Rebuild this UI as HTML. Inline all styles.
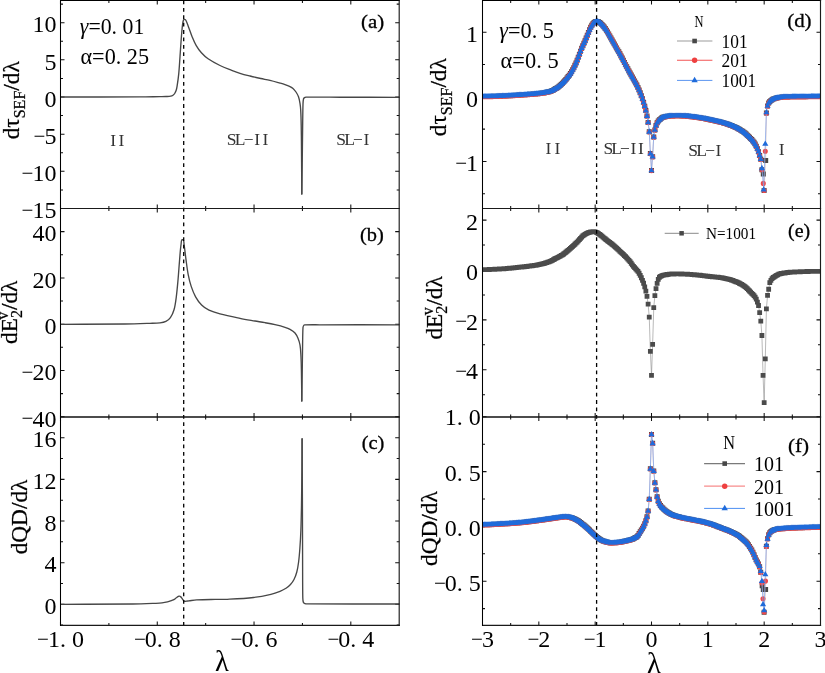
<!DOCTYPE html>
<html><head><meta charset="utf-8"><title>plot</title>
<style>html,body{margin:0;padding:0;background:#fff;}svg{display:block;}</style>
</head><body>
<svg width="825" height="673" viewBox="0 0 825 673"><path d="M60.50,0.50v4.0M60.50,208.50v-4.0M157.27,0.50v4.0M157.27,208.50v-4.0M254.04,0.50v4.0M254.04,208.50v-4.0M350.81,0.50v4.0M350.81,208.50v-4.0M108.89,0.50v2.5M108.89,208.50v-2.5M205.66,0.50v2.5M205.66,208.50v-2.5M302.43,0.50v2.5M302.43,208.50v-2.5" stroke="#111111" stroke-width="1.05" fill="none"/>
<path d="M538.83,0.50v4.0M538.83,208.50v-4.0M595.17,0.50v4.0M595.17,208.50v-4.0M651.50,0.50v4.0M651.50,208.50v-4.0M707.83,0.50v4.0M707.83,208.50v-4.0M764.17,0.50v4.0M764.17,208.50v-4.0M510.67,0.50v2.5M510.67,208.50v-2.5M567.00,0.50v2.5M567.00,208.50v-2.5M623.33,0.50v2.5M623.33,208.50v-2.5M679.67,0.50v2.5M679.67,208.50v-2.5M736.00,0.50v2.5M736.00,208.50v-2.5M792.33,0.50v2.5M792.33,208.50v-2.5" stroke="#111111" stroke-width="1.05" fill="none"/>
<path d="M60.50,208.48h4.0M399.20,208.48h-4.0M60.50,171.32h4.0M399.20,171.32h-4.0M60.50,134.16h4.0M399.20,134.16h-4.0M60.50,97.00h4.0M399.20,97.00h-4.0M60.50,59.84h4.0M399.20,59.84h-4.0M60.50,22.68h4.0M399.20,22.68h-4.0M60.50,189.90h2.5M399.20,189.90h-2.5M60.50,152.74h2.5M399.20,152.74h-2.5M60.50,115.58h2.5M399.20,115.58h-2.5M60.50,78.42h2.5M399.20,78.42h-2.5M60.50,41.26h2.5M399.20,41.26h-2.5M60.50,4.10h2.5M399.20,4.10h-2.5" stroke="#111111" stroke-width="1.05" fill="none"/>
<path d="M482.50,161.40h4.0M820.50,161.40h-4.0M482.50,96.80h4.0M820.50,96.80h-4.0M482.50,32.20h4.0M820.50,32.20h-4.0M482.50,193.70h2.5M820.50,193.70h-2.5M482.50,129.10h2.5M820.50,129.10h-2.5M482.50,64.50h2.5M820.50,64.50h-2.5" stroke="#111111" stroke-width="1.05" fill="none"/>
<path d="M60.50,208.50v4.0M60.50,417.00v-4.0M157.27,208.50v4.0M157.27,417.00v-4.0M254.04,208.50v4.0M254.04,417.00v-4.0M350.81,208.50v4.0M350.81,417.00v-4.0M108.89,208.50v2.5M108.89,417.00v-2.5M205.66,208.50v2.5M205.66,417.00v-2.5M302.43,208.50v2.5M302.43,417.00v-2.5" stroke="#111111" stroke-width="1.05" fill="none"/>
<path d="M538.83,208.50v4.0M538.83,417.00v-4.0M595.17,208.50v4.0M595.17,417.00v-4.0M651.50,208.50v4.0M651.50,417.00v-4.0M707.83,208.50v4.0M707.83,417.00v-4.0M764.17,208.50v4.0M764.17,417.00v-4.0M510.67,208.50v2.5M510.67,417.00v-2.5M567.00,208.50v2.5M567.00,417.00v-2.5M623.33,208.50v2.5M623.33,417.00v-2.5M679.67,208.50v2.5M679.67,417.00v-2.5M736.00,208.50v2.5M736.00,417.00v-2.5M792.33,208.50v2.5M792.33,417.00v-2.5" stroke="#111111" stroke-width="1.05" fill="none"/>
<path d="M60.50,416.78h4.0M399.20,416.78h-4.0M60.50,370.49h4.0M399.20,370.49h-4.0M60.50,324.20h4.0M399.20,324.20h-4.0M60.50,277.91h4.0M399.20,277.91h-4.0M60.50,231.62h4.0M399.20,231.62h-4.0M60.50,393.63h2.5M399.20,393.63h-2.5M60.50,347.34h2.5M399.20,347.34h-2.5M60.50,301.06h2.5M399.20,301.06h-2.5M60.50,254.77h2.5M399.20,254.77h-2.5" stroke="#111111" stroke-width="1.05" fill="none"/>
<path d="M482.50,369.72h4.0M820.50,369.72h-4.0M482.50,319.86h4.0M820.50,319.86h-4.0M482.50,270.00h4.0M820.50,270.00h-4.0M482.50,220.14h4.0M820.50,220.14h-4.0M482.50,394.65h2.5M820.50,394.65h-2.5M482.50,344.79h2.5M820.50,344.79h-2.5M482.50,294.93h2.5M820.50,294.93h-2.5M482.50,245.07h2.5M820.50,245.07h-2.5" stroke="#111111" stroke-width="1.05" fill="none"/>
<path d="M60.50,417.00v4.0M60.50,625.40v-4.0M157.27,417.00v4.0M157.27,625.40v-4.0M254.04,417.00v4.0M254.04,625.40v-4.0M350.81,417.00v4.0M350.81,625.40v-4.0M108.89,417.00v2.5M108.89,625.40v-2.5M205.66,417.00v2.5M205.66,625.40v-2.5M302.43,417.00v2.5M302.43,625.40v-2.5" stroke="#111111" stroke-width="1.05" fill="none"/>
<path d="M538.83,417.00v4.0M538.83,625.40v-4.0M595.17,417.00v4.0M595.17,625.40v-4.0M651.50,417.00v4.0M651.50,625.40v-4.0M707.83,417.00v4.0M707.83,625.40v-4.0M764.17,417.00v4.0M764.17,625.40v-4.0M510.67,417.00v2.5M510.67,625.40v-2.5M567.00,417.00v2.5M567.00,625.40v-2.5M623.33,417.00v2.5M623.33,625.40v-2.5M679.67,417.00v2.5M679.67,625.40v-2.5M736.00,417.00v2.5M736.00,625.40v-2.5M792.33,417.00v2.5M792.33,625.40v-2.5" stroke="#111111" stroke-width="1.05" fill="none"/>
<path d="M60.50,604.30h4.0M399.20,604.30h-4.0M60.50,562.66h4.0M399.20,562.66h-4.0M60.50,521.02h4.0M399.20,521.02h-4.0M60.50,479.38h4.0M399.20,479.38h-4.0M60.50,437.74h4.0M399.20,437.74h-4.0M60.50,625.12h2.5M399.20,625.12h-2.5M60.50,583.48h2.5M399.20,583.48h-2.5M60.50,541.84h2.5M399.20,541.84h-2.5M60.50,500.20h2.5M399.20,500.20h-2.5M60.50,458.56h2.5M399.20,458.56h-2.5" stroke="#111111" stroke-width="1.05" fill="none"/>
<path d="M482.50,581.20h4.0M820.50,581.20h-4.0M482.50,526.40h4.0M820.50,526.40h-4.0M482.50,471.60h4.0M820.50,471.60h-4.0M482.50,416.80h4.0M820.50,416.80h-4.0M482.50,608.60h2.5M820.50,608.60h-2.5M482.50,553.80h2.5M820.50,553.80h-2.5M482.50,499.00h2.5M820.50,499.00h-2.5M482.50,444.20h2.5M820.50,444.20h-2.5" stroke="#111111" stroke-width="1.05" fill="none"/>
<g fill="none" stroke="#474747" stroke-width="1.35" stroke-linejoin="round" stroke-linecap="round">
<path d="M60.60,97.00 C87.07,96.97 113.53,97.01 140.00,96.90 C146.67,96.87 153.33,96.70 160.00,96.60 C162.00,96.57 164.00,96.57 166.00,96.50 C167.57,96.44 169.16,96.49 170.70,96.20 C171.52,96.05 172.31,95.67 173.00,95.20 C173.66,94.75 174.26,94.17 174.70,93.50 C175.34,92.51 175.83,91.42 176.20,90.30 C176.64,88.97 176.89,87.58 177.10,86.20 C177.72,82.18 178.30,78.15 178.70,74.10 C179.27,68.35 179.58,62.57 180.00,56.80 C180.48,50.10 180.86,43.39 181.40,36.70 C181.76,32.26 182.12,27.82 182.70,23.40 C182.86,22.21 183.08,20.99 183.60,19.90 C183.76,19.56 184.25,19.29 184.60,19.40 C185.23,19.60 185.80,20.11 186.10,20.70 C187.19,22.83 187.86,25.16 188.70,27.40 C189.86,30.49 190.84,33.65 192.10,36.70 C193.31,39.65 194.50,42.64 196.10,45.40 C197.62,48.03 199.38,50.54 201.40,52.80 C203.40,55.03 205.62,57.11 208.10,58.80 C211.86,61.37 215.91,63.51 220.00,65.50 C223.79,67.35 227.77,68.77 231.70,70.30 C234.44,71.37 237.19,72.43 240.00,73.30 C243.30,74.33 246.65,75.16 250.00,76.00 C253.58,76.90 257.19,77.71 260.80,78.50 C263.86,79.17 266.95,79.67 270.00,80.40 C273.36,81.20 276.68,82.17 280.00,83.10 C281.68,83.57 283.36,84.03 285.00,84.60 C286.69,85.19 288.38,85.83 290.00,86.60 C291.05,87.10 292.13,87.62 293.00,88.40 C294.16,89.44 295.14,90.69 296.00,92.00 C296.99,93.51 297.90,95.10 298.50,96.80 C299.24,98.90 299.63,101.11 300.00,103.30 C300.37,105.51 300.58,107.76 300.70,110.00 C300.98,115.00 301.10,120.00 301.20,125.00 C301.37,133.33 301.43,141.67 301.50,150.00 C301.63,164.67 301.70,179.33 301.80,194.00"/>
<path d="M301.80,194.00 C301.93,184.33 302.08,174.67 302.20,165.00 C302.35,153.33 302.45,141.67 302.60,130.00 C302.71,121.33 302.75,112.66 303.00,104.00 C303.05,102.33 303.12,100.63 303.50,99.00 C303.63,98.44 304.03,97.94 304.50,97.60 C304.92,97.30 305.48,97.21 306.00,97.20 C317.33,97.07 328.67,97.19 340.00,97.20 C359.67,97.22 379.33,97.27 399.00,97.30"/>
<path d="M60.60,324.30 C82.00,324.20 103.40,324.24 124.80,324.00 C133.20,323.91 141.60,323.59 150.00,323.30 C153.34,323.19 156.69,323.22 160.00,322.80 C162.01,322.55 164.09,322.21 165.90,321.30 C167.64,320.43 169.29,319.19 170.40,317.60 C172.09,315.16 173.29,312.36 174.10,309.50 C175.27,305.37 175.74,301.06 176.30,296.80 C177.08,290.89 177.57,284.94 178.10,279.00 C178.67,272.57 179.05,266.13 179.60,259.70 C180.05,254.50 180.33,249.27 181.10,244.10 C181.33,242.57 181.10,239.30 182.60,239.70 C184.34,240.16 183.80,243.12 184.10,244.90 C184.93,249.80 185.32,254.77 186.00,259.70 C186.69,264.67 187.24,269.67 188.20,274.60 C188.98,278.58 189.92,282.55 191.20,286.40 C192.39,289.97 193.76,293.51 195.60,296.80 C197.25,299.76 199.21,302.61 201.60,305.00 C203.73,307.13 206.29,308.89 209.00,310.20 C212.48,311.88 216.26,312.92 220.00,313.90 C226.60,315.63 233.31,316.94 240.00,318.30 C244.98,319.31 250.00,320.12 255.00,321.00 C258.33,321.59 261.68,322.08 265.00,322.70 C268.34,323.32 271.69,323.94 275.00,324.70 C278.36,325.47 281.71,326.29 285.00,327.30 C286.72,327.83 288.44,328.41 290.00,329.30 C291.80,330.33 293.62,331.45 295.00,333.00 C296.35,334.52 297.22,336.43 298.00,338.30 C298.90,340.45 299.60,342.70 300.00,345.00 C300.57,348.30 300.71,351.66 300.90,355.00 C301.18,359.99 301.30,365.00 301.40,370.00 C301.60,380.37 301.67,390.73 301.80,401.10"/>
<path d="M301.80,401.10 C301.93,392.40 302.08,383.70 302.20,375.00 C302.34,365.00 302.43,355.00 302.60,345.00 C302.70,339.17 302.67,333.33 303.00,327.50 C303.04,326.79 303.31,326.09 303.70,325.50 C303.91,325.17 304.31,324.92 304.70,324.90 C309.80,324.68 314.90,324.81 320.00,324.80 C346.33,324.77 372.67,324.80 399.00,324.80"/>
<path d="M60.60,604.30 C84.60,604.20 108.60,604.25 132.60,604.00 C140.37,603.92 148.14,603.59 155.90,603.30 C157.94,603.22 159.98,603.14 162.00,602.90 C163.85,602.68 165.69,602.34 167.50,601.90 C168.86,601.57 170.18,601.08 171.50,600.60 C172.45,600.25 173.43,599.92 174.30,599.40 C175.28,598.81 176.05,597.93 177.00,597.30 C177.66,596.86 178.32,596.35 179.10,596.20 C179.61,596.10 180.19,596.29 180.60,596.60 C181.21,597.06 181.54,597.79 182.00,598.40 C182.47,599.03 182.87,599.71 183.40,600.30 C183.75,600.69 184.10,601.15 184.60,601.30 C185.21,601.48 185.87,601.26 186.50,601.20 C187.27,601.13 188.03,601.00 188.80,600.90 C191.40,600.57 193.98,600.05 196.60,599.90 C202.73,599.55 208.87,599.52 215.00,599.40 C219.10,599.32 223.20,599.50 227.30,599.30 C236.04,598.87 244.80,598.50 253.50,597.50 C259.36,596.83 265.16,595.64 270.90,594.30 C274.01,593.57 277.03,592.48 280.00,591.30 C282.08,590.47 284.12,589.52 286.00,588.30 C287.65,587.23 289.18,585.95 290.50,584.50 C291.87,582.99 293.08,581.32 294.00,579.50 C295.20,577.12 296.12,574.58 296.80,572.00 C297.66,568.72 298.17,565.36 298.60,562.00 C299.20,557.35 299.56,552.67 299.90,548.00 C300.33,542.01 300.68,536.01 300.90,530.00 C301.21,521.67 301.36,513.33 301.50,505.00 C301.69,493.33 301.79,481.67 301.90,470.00 C301.99,459.60 302.03,449.20 302.10,438.80"/>
<path d="M302.10,438.80 C302.20,459.20 302.32,479.60 302.40,500.00 C302.48,520.00 302.52,540.00 302.60,560.00 C302.65,572.67 302.56,585.34 302.80,598.00 C302.83,599.51 302.85,601.09 303.40,602.50 C303.64,603.10 304.40,603.37 305.00,603.60 C305.63,603.84 306.33,603.90 307.00,603.90 C337.67,604.03 368.33,603.97 399.00,604.00"/>
</g>
<defs><clipPath id="cr"><rect x="482.50" y="0" width="338.00" height="625.40"/></clipPath></defs>
<g clip-path="url(#cr)">
<path fill="none" stroke="#b8b8b8" stroke-width="0.40" d="M482.50 96.60 L483.63 96.58 L484.75 96.57 L485.88 96.55 L487.01 96.53 L488.13 96.51 L489.26 96.48 L490.39 96.46 L491.51 96.43 L492.64 96.39 L493.77 96.36 L494.89 96.33 L496.02 96.29 L497.15 96.25 L498.27 96.21 L499.40 96.17 L500.53 96.13 L501.65 96.09 L502.78 96.05 L503.91 96.00 L505.03 95.95 L506.16 95.89 L507.29 95.83 L508.41 95.77 L509.54 95.71 L510.67 95.64 L511.79 95.57 L512.92 95.50 L514.05 95.43 L515.17 95.36 L516.30 95.29 L517.43 95.21 L518.55 95.14 L519.68 95.07 L520.81 95.00 L521.93 94.93 L523.06 94.85 L524.19 94.78 L525.31 94.70 L526.44 94.62 L527.57 94.54 L528.69 94.46 L529.82 94.37 L530.95 94.28 L532.07 94.19 L533.20 94.10 L534.33 94.00 L535.45 93.89 L536.58 93.77 L537.71 93.65 L538.83 93.53 L539.96 93.40 L541.09 93.27 L542.21 93.11 L543.34 92.94 L544.47 92.75 L545.59 92.54 L546.72 92.32 L547.85 92.08 L548.97 91.83 L550.10 91.52 L551.23 91.08 L552.35 90.55 L553.48 89.94 L554.61 89.29 L555.73 88.61 L556.86 87.91 L557.99 87.13 L559.11 86.25 L560.24 85.28 L561.37 84.26 L562.49 83.19 L563.62 82.08 L564.75 80.86 L565.87 79.48 L567.00 78.05 L568.13 76.62 L569.25 75.13 L570.38 73.54 L571.51 71.79 L572.63 69.82 L573.76 67.66 L574.89 65.35 L576.01 62.90 L577.14 60.14 L578.27 57.19 L579.39 54.23 L580.52 51.16 L581.65 48.23 L582.77 45.66 L583.90 43.27 L585.03 40.80 L586.15 38.06 L587.28 35.19 L588.41 32.45 L589.53 29.81 L590.66 27.34 L591.79 25.34 L592.91 23.69 L594.04 22.57 L595.17 21.84 L596.29 21.42 L597.42 21.48 L598.55 21.84 L599.67 22.40 L600.80 23.28 L601.93 24.44 L603.05 25.68 L604.18 27.04 L605.31 28.56 L606.43 30.20 L607.56 32.00 L608.69 33.94 L609.81 35.94 L610.94 37.92 L612.07 39.91 L613.19 41.92 L614.32 43.94 L615.45 45.95 L616.57 47.94 L617.70 49.90 L618.83 51.86 L619.95 53.86 L621.08 55.92 L622.21 58.06 L623.33 60.25 L624.46 62.46 L625.59 64.65 L626.71 66.77 L627.84 68.85 L628.97 70.90 L630.09 72.94 L631.22 74.98 L632.35 77.03 L633.47 79.02 L634.60 81.00 L635.73 83.01 L636.85 85.12 L637.98 87.39 L639.11 89.94 L640.23 92.75 L641.36 95.74 L642.49 98.86 L643.61 102.37 L644.74 106.18 L645.87 110.58 L646.99 116.06 L648.12 122.40 L649.25 131.80 L650.37 153.60 L651.50 170.40 L652.63 156.70 L653.75 137.00 L654.88 129.90 L656.01 125.59 L657.13 122.70 L658.26 120.95 L659.39 119.85 L660.51 118.91 L661.64 118.02 L662.77 117.35 L663.89 117.02 L665.02 116.79 L666.15 116.57 L667.27 116.37 L668.40 116.19 L669.53 116.06 L670.65 115.96 L671.78 115.90 L672.91 115.89 L674.03 115.87 L675.16 115.86 L676.29 115.84 L677.41 115.84 L678.54 115.83 L679.67 115.84 L680.79 115.86 L681.92 115.88 L683.05 115.92 L684.17 115.97 L685.30 116.04 L686.43 116.12 L687.55 116.21 L688.68 116.32 L689.81 116.44 L690.93 116.56 L692.06 116.70 L693.19 116.84 L694.31 116.98 L695.44 117.13 L696.57 117.29 L697.69 117.44 L698.82 117.61 L699.95 117.78 L701.07 117.97 L702.20 118.17 L703.33 118.37 L704.45 118.58 L705.58 118.80 L706.71 119.02 L707.83 119.25 L708.96 119.47 L710.09 119.70 L711.21 119.93 L712.34 120.16 L713.47 120.41 L714.59 120.66 L715.72 120.91 L716.85 121.18 L717.97 121.45 L719.10 121.72 L720.23 122.01 L721.35 122.29 L722.48 122.59 L723.61 122.89 L724.73 123.22 L725.86 123.57 L726.99 123.94 L728.11 124.32 L729.24 124.73 L730.37 125.14 L731.49 125.57 L732.62 126.01 L733.75 126.47 L734.87 126.97 L736.00 127.50 L737.13 128.06 L738.25 128.66 L739.38 129.29 L740.51 129.95 L741.63 130.63 L742.76 131.34 L743.89 132.14 L745.01 133.07 L746.14 134.08 L747.27 135.14 L748.39 136.20 L749.52 137.27 L750.65 138.39 L751.77 139.59 L752.90 140.89 L754.03 142.30 L755.15 144.03 L756.28 146.24 L757.41 148.82 L758.53 151.74 L759.66 155.50 L760.79 159.19 L761.91 169.80 L763.30 173.90 L764.10 190.60 L765.70 160.40 L766.42 113.10 L767.55 105.98 L768.67 103.01 L769.80 101.40 L770.93 100.41 L772.05 99.63 L773.18 99.10 L774.31 98.64 L775.43 98.28 L776.56 98.05 L777.69 97.82 L778.81 97.60 L779.94 97.39 L781.07 97.22 L782.19 97.09 L783.32 97.01 L784.45 96.98 L785.57 96.95 L786.70 96.92 L787.83 96.90 L788.95 96.87 L790.08 96.85 L791.21 96.83 L792.33 96.80 L793.46 96.78 L794.59 96.76 L795.71 96.75 L796.84 96.73 L797.97 96.72 L799.09 96.70 L800.22 96.69 L801.35 96.68 L802.47 96.67 L803.60 96.65 L804.73 96.64 L805.85 96.63 L806.98 96.62 L808.11 96.60 L809.23 96.59 L810.36 96.58 L811.49 96.57 L812.61 96.56 L813.74 96.55 L814.87 96.54 L815.99 96.53 L817.12 96.52 L818.25 96.51 L819.37 96.51 L820.50 96.50"/>
<path fill="#474747" d="M480.00 94.10h5.00v5.00h-5.00zM481.13 94.08h5.00v5.00h-5.00zM482.25 94.07h5.00v5.00h-5.00zM483.38 94.05h5.00v5.00h-5.00zM484.51 94.03h5.00v5.00h-5.00zM485.63 94.01h5.00v5.00h-5.00zM486.76 93.98h5.00v5.00h-5.00zM487.89 93.96h5.00v5.00h-5.00zM489.01 93.93h5.00v5.00h-5.00zM490.14 93.89h5.00v5.00h-5.00zM491.27 93.86h5.00v5.00h-5.00zM492.39 93.83h5.00v5.00h-5.00zM493.52 93.79h5.00v5.00h-5.00zM494.65 93.75h5.00v5.00h-5.00zM495.77 93.71h5.00v5.00h-5.00zM496.90 93.67h5.00v5.00h-5.00zM498.03 93.63h5.00v5.00h-5.00zM499.15 93.59h5.00v5.00h-5.00zM500.28 93.55h5.00v5.00h-5.00zM501.41 93.50h5.00v5.00h-5.00zM502.53 93.45h5.00v5.00h-5.00zM503.66 93.39h5.00v5.00h-5.00zM504.79 93.33h5.00v5.00h-5.00zM505.91 93.27h5.00v5.00h-5.00zM507.04 93.21h5.00v5.00h-5.00zM508.17 93.14h5.00v5.00h-5.00zM509.29 93.07h5.00v5.00h-5.00zM510.42 93.00h5.00v5.00h-5.00zM511.55 92.93h5.00v5.00h-5.00zM512.67 92.86h5.00v5.00h-5.00zM513.80 92.79h5.00v5.00h-5.00zM514.93 92.71h5.00v5.00h-5.00zM516.05 92.64h5.00v5.00h-5.00zM517.18 92.57h5.00v5.00h-5.00zM518.31 92.50h5.00v5.00h-5.00zM519.43 92.43h5.00v5.00h-5.00zM520.56 92.35h5.00v5.00h-5.00zM521.69 92.28h5.00v5.00h-5.00zM522.81 92.20h5.00v5.00h-5.00zM523.94 92.12h5.00v5.00h-5.00zM525.07 92.04h5.00v5.00h-5.00zM526.19 91.96h5.00v5.00h-5.00zM527.32 91.87h5.00v5.00h-5.00zM528.45 91.78h5.00v5.00h-5.00zM529.57 91.69h5.00v5.00h-5.00zM530.70 91.60h5.00v5.00h-5.00zM531.83 91.50h5.00v5.00h-5.00zM532.95 91.39h5.00v5.00h-5.00zM534.08 91.27h5.00v5.00h-5.00zM535.21 91.15h5.00v5.00h-5.00zM536.33 91.03h5.00v5.00h-5.00zM537.46 90.90h5.00v5.00h-5.00zM538.59 90.77h5.00v5.00h-5.00zM539.71 90.61h5.00v5.00h-5.00zM540.84 90.44h5.00v5.00h-5.00zM541.97 90.25h5.00v5.00h-5.00zM543.09 90.04h5.00v5.00h-5.00zM544.22 89.82h5.00v5.00h-5.00zM545.35 89.58h5.00v5.00h-5.00zM546.47 89.33h5.00v5.00h-5.00zM547.60 89.02h5.00v5.00h-5.00zM548.73 88.58h5.00v5.00h-5.00zM549.85 88.05h5.00v5.00h-5.00zM550.98 87.44h5.00v5.00h-5.00zM552.11 86.79h5.00v5.00h-5.00zM553.23 86.11h5.00v5.00h-5.00zM554.36 85.41h5.00v5.00h-5.00zM555.49 84.63h5.00v5.00h-5.00zM556.61 83.75h5.00v5.00h-5.00zM557.74 82.78h5.00v5.00h-5.00zM558.87 81.76h5.00v5.00h-5.00zM559.99 80.69h5.00v5.00h-5.00zM561.12 79.58h5.00v5.00h-5.00zM562.25 78.36h5.00v5.00h-5.00zM563.37 76.98h5.00v5.00h-5.00zM564.50 75.55h5.00v5.00h-5.00zM565.63 74.12h5.00v5.00h-5.00zM566.75 72.63h5.00v5.00h-5.00zM567.88 71.04h5.00v5.00h-5.00zM569.01 69.29h5.00v5.00h-5.00zM570.13 67.32h5.00v5.00h-5.00zM571.26 65.16h5.00v5.00h-5.00zM572.39 62.85h5.00v5.00h-5.00zM573.51 60.40h5.00v5.00h-5.00zM574.64 57.64h5.00v5.00h-5.00zM575.77 54.69h5.00v5.00h-5.00zM576.89 51.73h5.00v5.00h-5.00zM578.02 48.66h5.00v5.00h-5.00zM579.15 45.73h5.00v5.00h-5.00zM580.27 43.16h5.00v5.00h-5.00zM581.40 40.77h5.00v5.00h-5.00zM582.53 38.30h5.00v5.00h-5.00zM583.65 35.56h5.00v5.00h-5.00zM584.78 32.69h5.00v5.00h-5.00zM585.91 29.95h5.00v5.00h-5.00zM587.03 27.31h5.00v5.00h-5.00zM588.16 24.84h5.00v5.00h-5.00zM589.29 22.84h5.00v5.00h-5.00zM590.41 21.19h5.00v5.00h-5.00zM591.54 20.07h5.00v5.00h-5.00zM592.67 19.34h5.00v5.00h-5.00zM593.79 18.92h5.00v5.00h-5.00zM594.92 18.98h5.00v5.00h-5.00zM596.05 19.34h5.00v5.00h-5.00zM597.17 19.90h5.00v5.00h-5.00zM598.30 20.78h5.00v5.00h-5.00zM599.43 21.94h5.00v5.00h-5.00zM600.55 23.18h5.00v5.00h-5.00zM601.68 24.54h5.00v5.00h-5.00zM602.81 26.06h5.00v5.00h-5.00zM603.93 27.70h5.00v5.00h-5.00zM605.06 29.50h5.00v5.00h-5.00zM606.19 31.44h5.00v5.00h-5.00zM607.31 33.44h5.00v5.00h-5.00zM608.44 35.42h5.00v5.00h-5.00zM609.57 37.41h5.00v5.00h-5.00zM610.69 39.42h5.00v5.00h-5.00zM611.82 41.44h5.00v5.00h-5.00zM612.95 43.45h5.00v5.00h-5.00zM614.07 45.44h5.00v5.00h-5.00zM615.20 47.40h5.00v5.00h-5.00zM616.33 49.36h5.00v5.00h-5.00zM617.45 51.36h5.00v5.00h-5.00zM618.58 53.42h5.00v5.00h-5.00zM619.71 55.56h5.00v5.00h-5.00zM620.83 57.75h5.00v5.00h-5.00zM621.96 59.96h5.00v5.00h-5.00zM623.09 62.15h5.00v5.00h-5.00zM624.21 64.27h5.00v5.00h-5.00zM625.34 66.35h5.00v5.00h-5.00zM626.47 68.40h5.00v5.00h-5.00zM627.59 70.44h5.00v5.00h-5.00zM628.72 72.48h5.00v5.00h-5.00zM629.85 74.53h5.00v5.00h-5.00zM630.97 76.52h5.00v5.00h-5.00zM632.10 78.50h5.00v5.00h-5.00zM633.23 80.51h5.00v5.00h-5.00zM634.35 82.62h5.00v5.00h-5.00zM635.48 84.89h5.00v5.00h-5.00zM636.61 87.44h5.00v5.00h-5.00zM637.73 90.25h5.00v5.00h-5.00zM638.86 93.24h5.00v5.00h-5.00zM639.99 96.36h5.00v5.00h-5.00zM641.11 99.87h5.00v5.00h-5.00zM642.24 103.68h5.00v5.00h-5.00zM643.37 108.08h5.00v5.00h-5.00zM644.49 113.56h5.00v5.00h-5.00zM645.62 119.90h5.00v5.00h-5.00zM646.75 129.30h5.00v5.00h-5.00zM647.87 151.10h5.00v5.00h-5.00zM649.00 167.90h5.00v5.00h-5.00zM650.13 154.20h5.00v5.00h-5.00zM651.25 134.50h5.00v5.00h-5.00zM652.38 127.40h5.00v5.00h-5.00zM653.51 123.09h5.00v5.00h-5.00zM654.63 120.20h5.00v5.00h-5.00zM655.76 118.45h5.00v5.00h-5.00zM656.89 117.35h5.00v5.00h-5.00zM658.01 116.41h5.00v5.00h-5.00zM659.14 115.52h5.00v5.00h-5.00zM660.27 114.85h5.00v5.00h-5.00zM661.39 114.52h5.00v5.00h-5.00zM662.52 114.29h5.00v5.00h-5.00zM663.65 114.07h5.00v5.00h-5.00zM664.77 113.87h5.00v5.00h-5.00zM665.90 113.69h5.00v5.00h-5.00zM667.03 113.56h5.00v5.00h-5.00zM668.15 113.46h5.00v5.00h-5.00zM669.28 113.40h5.00v5.00h-5.00zM670.41 113.39h5.00v5.00h-5.00zM671.53 113.37h5.00v5.00h-5.00zM672.66 113.36h5.00v5.00h-5.00zM673.79 113.34h5.00v5.00h-5.00zM674.91 113.34h5.00v5.00h-5.00zM676.04 113.33h5.00v5.00h-5.00zM677.17 113.34h5.00v5.00h-5.00zM678.29 113.36h5.00v5.00h-5.00zM679.42 113.38h5.00v5.00h-5.00zM680.55 113.42h5.00v5.00h-5.00zM681.67 113.47h5.00v5.00h-5.00zM682.80 113.54h5.00v5.00h-5.00zM683.93 113.62h5.00v5.00h-5.00zM685.05 113.71h5.00v5.00h-5.00zM686.18 113.82h5.00v5.00h-5.00zM687.31 113.94h5.00v5.00h-5.00zM688.43 114.06h5.00v5.00h-5.00zM689.56 114.20h5.00v5.00h-5.00zM690.69 114.34h5.00v5.00h-5.00zM691.81 114.48h5.00v5.00h-5.00zM692.94 114.63h5.00v5.00h-5.00zM694.07 114.79h5.00v5.00h-5.00zM695.19 114.94h5.00v5.00h-5.00zM696.32 115.11h5.00v5.00h-5.00zM697.45 115.28h5.00v5.00h-5.00zM698.57 115.47h5.00v5.00h-5.00zM699.70 115.67h5.00v5.00h-5.00zM700.83 115.87h5.00v5.00h-5.00zM701.95 116.08h5.00v5.00h-5.00zM703.08 116.30h5.00v5.00h-5.00zM704.21 116.52h5.00v5.00h-5.00zM705.33 116.75h5.00v5.00h-5.00zM706.46 116.97h5.00v5.00h-5.00zM707.59 117.20h5.00v5.00h-5.00zM708.71 117.43h5.00v5.00h-5.00zM709.84 117.66h5.00v5.00h-5.00zM710.97 117.91h5.00v5.00h-5.00zM712.09 118.16h5.00v5.00h-5.00zM713.22 118.41h5.00v5.00h-5.00zM714.35 118.68h5.00v5.00h-5.00zM715.47 118.95h5.00v5.00h-5.00zM716.60 119.22h5.00v5.00h-5.00zM717.73 119.51h5.00v5.00h-5.00zM718.85 119.79h5.00v5.00h-5.00zM719.98 120.09h5.00v5.00h-5.00zM721.11 120.39h5.00v5.00h-5.00zM722.23 120.72h5.00v5.00h-5.00zM723.36 121.07h5.00v5.00h-5.00zM724.49 121.44h5.00v5.00h-5.00zM725.61 121.82h5.00v5.00h-5.00zM726.74 122.23h5.00v5.00h-5.00zM727.87 122.64h5.00v5.00h-5.00zM728.99 123.07h5.00v5.00h-5.00zM730.12 123.51h5.00v5.00h-5.00zM731.25 123.97h5.00v5.00h-5.00zM732.37 124.47h5.00v5.00h-5.00zM733.50 125.00h5.00v5.00h-5.00zM734.63 125.56h5.00v5.00h-5.00zM735.75 126.16h5.00v5.00h-5.00zM736.88 126.79h5.00v5.00h-5.00zM738.01 127.45h5.00v5.00h-5.00zM739.13 128.13h5.00v5.00h-5.00zM740.26 128.84h5.00v5.00h-5.00zM741.39 129.64h5.00v5.00h-5.00zM742.51 130.57h5.00v5.00h-5.00zM743.64 131.58h5.00v5.00h-5.00zM744.77 132.64h5.00v5.00h-5.00zM745.89 133.70h5.00v5.00h-5.00zM747.02 134.77h5.00v5.00h-5.00zM748.15 135.89h5.00v5.00h-5.00zM749.27 137.09h5.00v5.00h-5.00zM750.40 138.39h5.00v5.00h-5.00zM751.53 139.80h5.00v5.00h-5.00zM752.65 141.53h5.00v5.00h-5.00zM753.78 143.74h5.00v5.00h-5.00zM754.91 146.32h5.00v5.00h-5.00zM756.03 149.24h5.00v5.00h-5.00zM757.16 153.00h5.00v5.00h-5.00zM758.29 156.69h5.00v5.00h-5.00zM759.41 167.30h5.00v5.00h-5.00zM760.80 171.40h5.00v5.00h-5.00zM761.60 188.10h5.00v5.00h-5.00zM763.20 157.90h5.00v5.00h-5.00zM763.92 110.60h5.00v5.00h-5.00zM765.05 103.48h5.00v5.00h-5.00zM766.17 100.51h5.00v5.00h-5.00zM767.30 98.90h5.00v5.00h-5.00zM768.43 97.91h5.00v5.00h-5.00zM769.55 97.13h5.00v5.00h-5.00zM770.68 96.60h5.00v5.00h-5.00zM771.81 96.14h5.00v5.00h-5.00zM772.93 95.78h5.00v5.00h-5.00zM774.06 95.55h5.00v5.00h-5.00zM775.19 95.32h5.00v5.00h-5.00zM776.31 95.10h5.00v5.00h-5.00zM777.44 94.89h5.00v5.00h-5.00zM778.57 94.72h5.00v5.00h-5.00zM779.69 94.59h5.00v5.00h-5.00zM780.82 94.51h5.00v5.00h-5.00zM781.95 94.48h5.00v5.00h-5.00zM783.07 94.45h5.00v5.00h-5.00zM784.20 94.42h5.00v5.00h-5.00zM785.33 94.40h5.00v5.00h-5.00zM786.45 94.37h5.00v5.00h-5.00zM787.58 94.35h5.00v5.00h-5.00zM788.71 94.33h5.00v5.00h-5.00zM789.83 94.30h5.00v5.00h-5.00zM790.96 94.28h5.00v5.00h-5.00zM792.09 94.26h5.00v5.00h-5.00zM793.21 94.25h5.00v5.00h-5.00zM794.34 94.23h5.00v5.00h-5.00zM795.47 94.22h5.00v5.00h-5.00zM796.59 94.20h5.00v5.00h-5.00zM797.72 94.19h5.00v5.00h-5.00zM798.85 94.18h5.00v5.00h-5.00zM799.97 94.17h5.00v5.00h-5.00zM801.10 94.15h5.00v5.00h-5.00zM802.23 94.14h5.00v5.00h-5.00zM803.35 94.13h5.00v5.00h-5.00zM804.48 94.12h5.00v5.00h-5.00zM805.61 94.10h5.00v5.00h-5.00zM806.73 94.09h5.00v5.00h-5.00zM807.86 94.08h5.00v5.00h-5.00zM808.99 94.07h5.00v5.00h-5.00zM810.11 94.06h5.00v5.00h-5.00zM811.24 94.05h5.00v5.00h-5.00zM812.37 94.04h5.00v5.00h-5.00zM813.49 94.03h5.00v5.00h-5.00zM814.62 94.02h5.00v5.00h-5.00zM815.75 94.01h5.00v5.00h-5.00zM816.87 94.01h5.00v5.00h-5.00zM818.00 94.00h5.00v5.00h-5.00z"/>
<path fill="none" stroke="#f4a0a0" stroke-width="0.40" d="M482.50 96.60 L483.63 96.58 L484.75 96.57 L485.88 96.55 L487.01 96.53 L488.13 96.51 L489.26 96.48 L490.39 96.46 L491.51 96.43 L492.64 96.39 L493.77 96.36 L494.89 96.33 L496.02 96.29 L497.15 96.25 L498.27 96.21 L499.40 96.17 L500.53 96.13 L501.65 96.09 L502.78 96.05 L503.91 96.00 L505.03 95.95 L506.16 95.89 L507.29 95.83 L508.41 95.77 L509.54 95.71 L510.67 95.64 L511.79 95.57 L512.92 95.50 L514.05 95.43 L515.17 95.36 L516.30 95.29 L517.43 95.21 L518.55 95.14 L519.68 95.07 L520.81 95.00 L521.93 94.93 L523.06 94.85 L524.19 94.78 L525.31 94.70 L526.44 94.62 L527.57 94.54 L528.69 94.46 L529.82 94.37 L530.95 94.28 L532.07 94.19 L533.20 94.10 L534.33 94.00 L535.45 93.89 L536.58 93.77 L537.71 93.65 L538.83 93.53 L539.96 93.40 L541.09 93.27 L542.21 93.11 L543.34 92.94 L544.47 92.75 L545.59 92.54 L546.72 92.32 L547.85 92.08 L548.97 91.83 L550.10 91.52 L551.23 91.08 L552.35 90.55 L553.48 89.94 L554.61 89.29 L555.73 88.61 L556.86 87.91 L557.99 87.13 L559.11 86.25 L560.24 85.28 L561.37 84.26 L562.49 83.19 L563.62 82.08 L564.75 80.86 L565.87 79.48 L567.00 78.05 L568.13 76.62 L569.25 75.13 L570.38 73.54 L571.51 71.79 L572.63 69.82 L573.76 67.66 L574.89 65.35 L576.01 62.90 L577.14 60.14 L578.27 57.19 L579.39 54.23 L580.52 51.16 L581.65 48.23 L582.77 45.66 L583.90 43.27 L585.03 40.80 L586.15 38.06 L587.28 35.19 L588.41 32.45 L589.53 29.81 L590.66 27.34 L591.79 25.34 L592.91 23.69 L594.04 22.57 L595.17 21.84 L596.29 21.42 L597.42 21.48 L598.55 21.84 L599.67 22.40 L600.80 23.28 L601.93 24.44 L603.05 25.68 L604.18 27.04 L605.31 28.56 L606.43 30.20 L607.56 32.00 L608.69 33.94 L609.81 35.94 L610.94 37.92 L612.07 39.91 L613.19 41.92 L614.32 43.94 L615.45 45.95 L616.57 47.94 L617.70 49.90 L618.83 51.86 L619.95 53.86 L621.08 55.92 L622.21 58.06 L623.33 60.25 L624.46 62.46 L625.59 64.65 L626.71 66.77 L627.84 68.85 L628.97 70.90 L630.09 72.94 L631.22 74.98 L632.35 77.03 L633.47 79.02 L634.60 81.00 L635.73 83.01 L636.85 85.12 L637.98 87.39 L639.11 89.94 L640.23 92.75 L641.36 95.74 L642.49 98.86 L643.61 102.37 L644.74 106.18 L645.87 110.58 L646.99 116.06 L648.12 122.40 L649.25 131.80 L650.37 153.60 L651.50 170.40 L652.63 156.70 L653.75 137.00 L654.88 129.90 L656.01 125.59 L657.13 122.70 L658.26 120.95 L659.39 119.85 L660.51 118.91 L661.64 118.02 L662.77 117.35 L663.89 117.02 L665.02 116.79 L666.15 116.57 L667.27 116.37 L668.40 116.19 L669.53 116.06 L670.65 115.96 L671.78 115.90 L672.91 115.89 L674.03 115.87 L675.16 115.86 L676.29 115.84 L677.41 115.84 L678.54 115.83 L679.67 115.84 L680.79 115.86 L681.92 115.88 L683.05 115.92 L684.17 115.97 L685.30 116.04 L686.43 116.12 L687.55 116.21 L688.68 116.32 L689.81 116.44 L690.93 116.56 L692.06 116.70 L693.19 116.84 L694.31 116.98 L695.44 117.13 L696.57 117.29 L697.69 117.44 L698.82 117.61 L699.95 117.78 L701.07 117.97 L702.20 118.17 L703.33 118.37 L704.45 118.58 L705.58 118.80 L706.71 119.02 L707.83 119.25 L708.96 119.47 L710.09 119.70 L711.21 119.93 L712.34 120.16 L713.47 120.41 L714.59 120.66 L715.72 120.91 L716.85 121.18 L717.97 121.45 L719.10 121.72 L720.23 122.01 L721.35 122.29 L722.48 122.59 L723.61 122.89 L724.73 123.22 L725.86 123.57 L726.99 123.94 L728.11 124.32 L729.24 124.73 L730.37 125.14 L731.49 125.57 L732.62 126.01 L733.75 126.47 L734.87 126.97 L736.00 127.50 L737.13 128.06 L738.25 128.66 L739.38 129.29 L740.51 129.95 L741.63 130.63 L742.76 131.34 L743.89 132.14 L745.01 133.07 L746.14 134.08 L747.27 135.14 L748.39 136.20 L749.52 137.27 L750.65 138.39 L751.77 139.59 L752.90 140.89 L754.03 142.30 L755.15 144.03 L756.28 146.24 L757.41 148.82 L758.53 151.74 L759.66 155.50 L760.79 159.19 L761.91 169.60 L763.30 183.20 L764.10 190.30 L765.29 151.00 L766.42 113.10 L767.55 105.98 L768.67 103.01 L769.80 101.40 L770.93 100.41 L772.05 99.63 L773.18 99.10 L774.31 98.64 L775.43 98.28 L776.56 98.05 L777.69 97.82 L778.81 97.60 L779.94 97.39 L781.07 97.22 L782.19 97.09 L783.32 97.01 L784.45 96.98 L785.57 96.95 L786.70 96.92 L787.83 96.90 L788.95 96.87 L790.08 96.85 L791.21 96.83 L792.33 96.80 L793.46 96.78 L794.59 96.76 L795.71 96.75 L796.84 96.73 L797.97 96.72 L799.09 96.70 L800.22 96.69 L801.35 96.68 L802.47 96.67 L803.60 96.65 L804.73 96.64 L805.85 96.63 L806.98 96.62 L808.11 96.60 L809.23 96.59 L810.36 96.58 L811.49 96.57 L812.61 96.56 L813.74 96.55 L814.87 96.54 L815.99 96.53 L817.12 96.52 L818.25 96.51 L819.37 96.51 L820.50 96.50"/>
<path fill="#ef4848" d="M479.95 96.80a2.55 2.55 0 1 0 5.10 0a2.55 2.55 0 1 0 -5.10 0zM481.08 96.78a2.55 2.55 0 1 0 5.10 0a2.55 2.55 0 1 0 -5.10 0zM482.20 96.77a2.55 2.55 0 1 0 5.10 0a2.55 2.55 0 1 0 -5.10 0zM483.33 96.75a2.55 2.55 0 1 0 5.10 0a2.55 2.55 0 1 0 -5.10 0zM484.46 96.73a2.55 2.55 0 1 0 5.10 0a2.55 2.55 0 1 0 -5.10 0zM485.58 96.71a2.55 2.55 0 1 0 5.10 0a2.55 2.55 0 1 0 -5.10 0zM486.71 96.68a2.55 2.55 0 1 0 5.10 0a2.55 2.55 0 1 0 -5.10 0zM487.84 96.66a2.55 2.55 0 1 0 5.10 0a2.55 2.55 0 1 0 -5.10 0zM488.96 96.63a2.55 2.55 0 1 0 5.10 0a2.55 2.55 0 1 0 -5.10 0zM490.09 96.59a2.55 2.55 0 1 0 5.10 0a2.55 2.55 0 1 0 -5.10 0zM491.22 96.56a2.55 2.55 0 1 0 5.10 0a2.55 2.55 0 1 0 -5.10 0zM492.34 96.53a2.55 2.55 0 1 0 5.10 0a2.55 2.55 0 1 0 -5.10 0zM493.47 96.49a2.55 2.55 0 1 0 5.10 0a2.55 2.55 0 1 0 -5.10 0zM494.60 96.45a2.55 2.55 0 1 0 5.10 0a2.55 2.55 0 1 0 -5.10 0zM495.72 96.41a2.55 2.55 0 1 0 5.10 0a2.55 2.55 0 1 0 -5.10 0zM496.85 96.37a2.55 2.55 0 1 0 5.10 0a2.55 2.55 0 1 0 -5.10 0zM497.98 96.33a2.55 2.55 0 1 0 5.10 0a2.55 2.55 0 1 0 -5.10 0zM499.10 96.29a2.55 2.55 0 1 0 5.10 0a2.55 2.55 0 1 0 -5.10 0zM500.23 96.25a2.55 2.55 0 1 0 5.10 0a2.55 2.55 0 1 0 -5.10 0zM501.36 96.20a2.55 2.55 0 1 0 5.10 0a2.55 2.55 0 1 0 -5.10 0zM502.48 96.15a2.55 2.55 0 1 0 5.10 0a2.55 2.55 0 1 0 -5.10 0zM503.61 96.09a2.55 2.55 0 1 0 5.10 0a2.55 2.55 0 1 0 -5.10 0zM504.74 96.03a2.55 2.55 0 1 0 5.10 0a2.55 2.55 0 1 0 -5.10 0zM505.86 95.97a2.55 2.55 0 1 0 5.10 0a2.55 2.55 0 1 0 -5.10 0zM506.99 95.91a2.55 2.55 0 1 0 5.10 0a2.55 2.55 0 1 0 -5.10 0zM508.12 95.84a2.55 2.55 0 1 0 5.10 0a2.55 2.55 0 1 0 -5.10 0zM509.24 95.77a2.55 2.55 0 1 0 5.10 0a2.55 2.55 0 1 0 -5.10 0zM510.37 95.70a2.55 2.55 0 1 0 5.10 0a2.55 2.55 0 1 0 -5.10 0zM511.50 95.63a2.55 2.55 0 1 0 5.10 0a2.55 2.55 0 1 0 -5.10 0zM512.62 95.56a2.55 2.55 0 1 0 5.10 0a2.55 2.55 0 1 0 -5.10 0zM513.75 95.49a2.55 2.55 0 1 0 5.10 0a2.55 2.55 0 1 0 -5.10 0zM514.88 95.41a2.55 2.55 0 1 0 5.10 0a2.55 2.55 0 1 0 -5.10 0zM516.00 95.34a2.55 2.55 0 1 0 5.10 0a2.55 2.55 0 1 0 -5.10 0zM517.13 95.27a2.55 2.55 0 1 0 5.10 0a2.55 2.55 0 1 0 -5.10 0zM518.26 95.20a2.55 2.55 0 1 0 5.10 0a2.55 2.55 0 1 0 -5.10 0zM519.38 95.13a2.55 2.55 0 1 0 5.10 0a2.55 2.55 0 1 0 -5.10 0zM520.51 95.05a2.55 2.55 0 1 0 5.10 0a2.55 2.55 0 1 0 -5.10 0zM521.64 94.98a2.55 2.55 0 1 0 5.10 0a2.55 2.55 0 1 0 -5.10 0zM522.76 94.90a2.55 2.55 0 1 0 5.10 0a2.55 2.55 0 1 0 -5.10 0zM523.89 94.82a2.55 2.55 0 1 0 5.10 0a2.55 2.55 0 1 0 -5.10 0zM525.02 94.74a2.55 2.55 0 1 0 5.10 0a2.55 2.55 0 1 0 -5.10 0zM526.14 94.66a2.55 2.55 0 1 0 5.10 0a2.55 2.55 0 1 0 -5.10 0zM527.27 94.57a2.55 2.55 0 1 0 5.10 0a2.55 2.55 0 1 0 -5.10 0zM528.40 94.48a2.55 2.55 0 1 0 5.10 0a2.55 2.55 0 1 0 -5.10 0zM529.52 94.39a2.55 2.55 0 1 0 5.10 0a2.55 2.55 0 1 0 -5.10 0zM530.65 94.30a2.55 2.55 0 1 0 5.10 0a2.55 2.55 0 1 0 -5.10 0zM531.78 94.20a2.55 2.55 0 1 0 5.10 0a2.55 2.55 0 1 0 -5.10 0zM532.90 94.09a2.55 2.55 0 1 0 5.10 0a2.55 2.55 0 1 0 -5.10 0zM534.03 93.97a2.55 2.55 0 1 0 5.10 0a2.55 2.55 0 1 0 -5.10 0zM535.16 93.85a2.55 2.55 0 1 0 5.10 0a2.55 2.55 0 1 0 -5.10 0zM536.28 93.73a2.55 2.55 0 1 0 5.10 0a2.55 2.55 0 1 0 -5.10 0zM537.41 93.60a2.55 2.55 0 1 0 5.10 0a2.55 2.55 0 1 0 -5.10 0zM538.54 93.47a2.55 2.55 0 1 0 5.10 0a2.55 2.55 0 1 0 -5.10 0zM539.66 93.31a2.55 2.55 0 1 0 5.10 0a2.55 2.55 0 1 0 -5.10 0zM540.79 93.14a2.55 2.55 0 1 0 5.10 0a2.55 2.55 0 1 0 -5.10 0zM541.92 92.95a2.55 2.55 0 1 0 5.10 0a2.55 2.55 0 1 0 -5.10 0zM543.04 92.74a2.55 2.55 0 1 0 5.10 0a2.55 2.55 0 1 0 -5.10 0zM544.17 92.52a2.55 2.55 0 1 0 5.10 0a2.55 2.55 0 1 0 -5.10 0zM545.30 92.28a2.55 2.55 0 1 0 5.10 0a2.55 2.55 0 1 0 -5.10 0zM546.42 92.03a2.55 2.55 0 1 0 5.10 0a2.55 2.55 0 1 0 -5.10 0zM547.55 91.72a2.55 2.55 0 1 0 5.10 0a2.55 2.55 0 1 0 -5.10 0zM548.68 91.28a2.55 2.55 0 1 0 5.10 0a2.55 2.55 0 1 0 -5.10 0zM549.80 90.75a2.55 2.55 0 1 0 5.10 0a2.55 2.55 0 1 0 -5.10 0zM550.93 90.14a2.55 2.55 0 1 0 5.10 0a2.55 2.55 0 1 0 -5.10 0zM552.06 89.49a2.55 2.55 0 1 0 5.10 0a2.55 2.55 0 1 0 -5.10 0zM553.18 88.81a2.55 2.55 0 1 0 5.10 0a2.55 2.55 0 1 0 -5.10 0zM554.31 88.11a2.55 2.55 0 1 0 5.10 0a2.55 2.55 0 1 0 -5.10 0zM555.44 87.33a2.55 2.55 0 1 0 5.10 0a2.55 2.55 0 1 0 -5.10 0zM556.56 86.45a2.55 2.55 0 1 0 5.10 0a2.55 2.55 0 1 0 -5.10 0zM557.69 85.48a2.55 2.55 0 1 0 5.10 0a2.55 2.55 0 1 0 -5.10 0zM558.82 84.46a2.55 2.55 0 1 0 5.10 0a2.55 2.55 0 1 0 -5.10 0zM559.94 83.39a2.55 2.55 0 1 0 5.10 0a2.55 2.55 0 1 0 -5.10 0zM561.07 82.28a2.55 2.55 0 1 0 5.10 0a2.55 2.55 0 1 0 -5.10 0zM562.20 81.06a2.55 2.55 0 1 0 5.10 0a2.55 2.55 0 1 0 -5.10 0zM563.32 79.68a2.55 2.55 0 1 0 5.10 0a2.55 2.55 0 1 0 -5.10 0zM564.45 78.25a2.55 2.55 0 1 0 5.10 0a2.55 2.55 0 1 0 -5.10 0zM565.58 76.82a2.55 2.55 0 1 0 5.10 0a2.55 2.55 0 1 0 -5.10 0zM566.70 75.33a2.55 2.55 0 1 0 5.10 0a2.55 2.55 0 1 0 -5.10 0zM567.83 73.74a2.55 2.55 0 1 0 5.10 0a2.55 2.55 0 1 0 -5.10 0zM568.96 71.99a2.55 2.55 0 1 0 5.10 0a2.55 2.55 0 1 0 -5.10 0zM570.08 70.02a2.55 2.55 0 1 0 5.10 0a2.55 2.55 0 1 0 -5.10 0zM571.21 67.86a2.55 2.55 0 1 0 5.10 0a2.55 2.55 0 1 0 -5.10 0zM572.34 65.55a2.55 2.55 0 1 0 5.10 0a2.55 2.55 0 1 0 -5.10 0zM573.46 63.10a2.55 2.55 0 1 0 5.10 0a2.55 2.55 0 1 0 -5.10 0zM574.59 60.34a2.55 2.55 0 1 0 5.10 0a2.55 2.55 0 1 0 -5.10 0zM575.72 57.39a2.55 2.55 0 1 0 5.10 0a2.55 2.55 0 1 0 -5.10 0zM576.84 54.43a2.55 2.55 0 1 0 5.10 0a2.55 2.55 0 1 0 -5.10 0zM577.97 51.36a2.55 2.55 0 1 0 5.10 0a2.55 2.55 0 1 0 -5.10 0zM579.10 48.43a2.55 2.55 0 1 0 5.10 0a2.55 2.55 0 1 0 -5.10 0zM580.22 45.86a2.55 2.55 0 1 0 5.10 0a2.55 2.55 0 1 0 -5.10 0zM581.35 43.47a2.55 2.55 0 1 0 5.10 0a2.55 2.55 0 1 0 -5.10 0zM582.48 41.00a2.55 2.55 0 1 0 5.10 0a2.55 2.55 0 1 0 -5.10 0zM583.60 38.26a2.55 2.55 0 1 0 5.10 0a2.55 2.55 0 1 0 -5.10 0zM584.73 35.39a2.55 2.55 0 1 0 5.10 0a2.55 2.55 0 1 0 -5.10 0zM585.86 32.65a2.55 2.55 0 1 0 5.10 0a2.55 2.55 0 1 0 -5.10 0zM586.98 30.01a2.55 2.55 0 1 0 5.10 0a2.55 2.55 0 1 0 -5.10 0zM588.11 27.54a2.55 2.55 0 1 0 5.10 0a2.55 2.55 0 1 0 -5.10 0zM589.24 25.54a2.55 2.55 0 1 0 5.10 0a2.55 2.55 0 1 0 -5.10 0zM590.36 23.89a2.55 2.55 0 1 0 5.10 0a2.55 2.55 0 1 0 -5.10 0zM591.49 22.77a2.55 2.55 0 1 0 5.10 0a2.55 2.55 0 1 0 -5.10 0zM592.62 22.04a2.55 2.55 0 1 0 5.10 0a2.55 2.55 0 1 0 -5.10 0zM593.74 21.62a2.55 2.55 0 1 0 5.10 0a2.55 2.55 0 1 0 -5.10 0zM594.87 21.68a2.55 2.55 0 1 0 5.10 0a2.55 2.55 0 1 0 -5.10 0zM596.00 22.04a2.55 2.55 0 1 0 5.10 0a2.55 2.55 0 1 0 -5.10 0zM597.12 22.60a2.55 2.55 0 1 0 5.10 0a2.55 2.55 0 1 0 -5.10 0zM598.25 23.48a2.55 2.55 0 1 0 5.10 0a2.55 2.55 0 1 0 -5.10 0zM599.38 24.64a2.55 2.55 0 1 0 5.10 0a2.55 2.55 0 1 0 -5.10 0zM600.50 25.88a2.55 2.55 0 1 0 5.10 0a2.55 2.55 0 1 0 -5.10 0zM601.63 27.24a2.55 2.55 0 1 0 5.10 0a2.55 2.55 0 1 0 -5.10 0zM602.76 28.76a2.55 2.55 0 1 0 5.10 0a2.55 2.55 0 1 0 -5.10 0zM603.88 30.40a2.55 2.55 0 1 0 5.10 0a2.55 2.55 0 1 0 -5.10 0zM605.01 32.20a2.55 2.55 0 1 0 5.10 0a2.55 2.55 0 1 0 -5.10 0zM606.14 34.14a2.55 2.55 0 1 0 5.10 0a2.55 2.55 0 1 0 -5.10 0zM607.26 36.14a2.55 2.55 0 1 0 5.10 0a2.55 2.55 0 1 0 -5.10 0zM608.39 38.12a2.55 2.55 0 1 0 5.10 0a2.55 2.55 0 1 0 -5.10 0zM609.52 40.11a2.55 2.55 0 1 0 5.10 0a2.55 2.55 0 1 0 -5.10 0zM610.64 42.12a2.55 2.55 0 1 0 5.10 0a2.55 2.55 0 1 0 -5.10 0zM611.77 44.14a2.55 2.55 0 1 0 5.10 0a2.55 2.55 0 1 0 -5.10 0zM612.90 46.15a2.55 2.55 0 1 0 5.10 0a2.55 2.55 0 1 0 -5.10 0zM614.02 48.14a2.55 2.55 0 1 0 5.10 0a2.55 2.55 0 1 0 -5.10 0zM615.15 50.10a2.55 2.55 0 1 0 5.10 0a2.55 2.55 0 1 0 -5.10 0zM616.28 52.06a2.55 2.55 0 1 0 5.10 0a2.55 2.55 0 1 0 -5.10 0zM617.40 54.06a2.55 2.55 0 1 0 5.10 0a2.55 2.55 0 1 0 -5.10 0zM618.53 56.12a2.55 2.55 0 1 0 5.10 0a2.55 2.55 0 1 0 -5.10 0zM619.66 58.26a2.55 2.55 0 1 0 5.10 0a2.55 2.55 0 1 0 -5.10 0zM620.78 60.45a2.55 2.55 0 1 0 5.10 0a2.55 2.55 0 1 0 -5.10 0zM621.91 62.66a2.55 2.55 0 1 0 5.10 0a2.55 2.55 0 1 0 -5.10 0zM623.04 64.85a2.55 2.55 0 1 0 5.10 0a2.55 2.55 0 1 0 -5.10 0zM624.16 66.97a2.55 2.55 0 1 0 5.10 0a2.55 2.55 0 1 0 -5.10 0zM625.29 69.05a2.55 2.55 0 1 0 5.10 0a2.55 2.55 0 1 0 -5.10 0zM626.42 71.10a2.55 2.55 0 1 0 5.10 0a2.55 2.55 0 1 0 -5.10 0zM627.54 73.14a2.55 2.55 0 1 0 5.10 0a2.55 2.55 0 1 0 -5.10 0zM628.67 75.18a2.55 2.55 0 1 0 5.10 0a2.55 2.55 0 1 0 -5.10 0zM629.80 77.23a2.55 2.55 0 1 0 5.10 0a2.55 2.55 0 1 0 -5.10 0zM630.92 79.22a2.55 2.55 0 1 0 5.10 0a2.55 2.55 0 1 0 -5.10 0zM632.05 81.20a2.55 2.55 0 1 0 5.10 0a2.55 2.55 0 1 0 -5.10 0zM633.18 83.21a2.55 2.55 0 1 0 5.10 0a2.55 2.55 0 1 0 -5.10 0zM634.30 85.32a2.55 2.55 0 1 0 5.10 0a2.55 2.55 0 1 0 -5.10 0zM635.43 87.59a2.55 2.55 0 1 0 5.10 0a2.55 2.55 0 1 0 -5.10 0zM636.56 90.14a2.55 2.55 0 1 0 5.10 0a2.55 2.55 0 1 0 -5.10 0zM637.68 92.95a2.55 2.55 0 1 0 5.10 0a2.55 2.55 0 1 0 -5.10 0zM638.81 95.94a2.55 2.55 0 1 0 5.10 0a2.55 2.55 0 1 0 -5.10 0zM639.94 99.06a2.55 2.55 0 1 0 5.10 0a2.55 2.55 0 1 0 -5.10 0zM641.06 102.57a2.55 2.55 0 1 0 5.10 0a2.55 2.55 0 1 0 -5.10 0zM642.19 106.38a2.55 2.55 0 1 0 5.10 0a2.55 2.55 0 1 0 -5.10 0zM643.32 110.78a2.55 2.55 0 1 0 5.10 0a2.55 2.55 0 1 0 -5.10 0zM644.44 116.26a2.55 2.55 0 1 0 5.10 0a2.55 2.55 0 1 0 -5.10 0zM645.57 122.60a2.55 2.55 0 1 0 5.10 0a2.55 2.55 0 1 0 -5.10 0zM646.70 132.00a2.55 2.55 0 1 0 5.10 0a2.55 2.55 0 1 0 -5.10 0zM647.82 153.80a2.55 2.55 0 1 0 5.10 0a2.55 2.55 0 1 0 -5.10 0zM648.95 170.60a2.55 2.55 0 1 0 5.10 0a2.55 2.55 0 1 0 -5.10 0zM650.08 156.90a2.55 2.55 0 1 0 5.10 0a2.55 2.55 0 1 0 -5.10 0zM651.20 137.20a2.55 2.55 0 1 0 5.10 0a2.55 2.55 0 1 0 -5.10 0zM652.33 130.10a2.55 2.55 0 1 0 5.10 0a2.55 2.55 0 1 0 -5.10 0zM653.46 125.79a2.55 2.55 0 1 0 5.10 0a2.55 2.55 0 1 0 -5.10 0zM654.58 122.90a2.55 2.55 0 1 0 5.10 0a2.55 2.55 0 1 0 -5.10 0zM655.71 121.15a2.55 2.55 0 1 0 5.10 0a2.55 2.55 0 1 0 -5.10 0zM656.84 120.05a2.55 2.55 0 1 0 5.10 0a2.55 2.55 0 1 0 -5.10 0zM657.96 119.11a2.55 2.55 0 1 0 5.10 0a2.55 2.55 0 1 0 -5.10 0zM659.09 118.22a2.55 2.55 0 1 0 5.10 0a2.55 2.55 0 1 0 -5.10 0zM660.22 117.55a2.55 2.55 0 1 0 5.10 0a2.55 2.55 0 1 0 -5.10 0zM661.34 117.22a2.55 2.55 0 1 0 5.10 0a2.55 2.55 0 1 0 -5.10 0zM662.47 116.99a2.55 2.55 0 1 0 5.10 0a2.55 2.55 0 1 0 -5.10 0zM663.60 116.77a2.55 2.55 0 1 0 5.10 0a2.55 2.55 0 1 0 -5.10 0zM664.72 116.57a2.55 2.55 0 1 0 5.10 0a2.55 2.55 0 1 0 -5.10 0zM665.85 116.39a2.55 2.55 0 1 0 5.10 0a2.55 2.55 0 1 0 -5.10 0zM666.98 116.26a2.55 2.55 0 1 0 5.10 0a2.55 2.55 0 1 0 -5.10 0zM668.10 116.16a2.55 2.55 0 1 0 5.10 0a2.55 2.55 0 1 0 -5.10 0zM669.23 116.10a2.55 2.55 0 1 0 5.10 0a2.55 2.55 0 1 0 -5.10 0zM670.36 116.09a2.55 2.55 0 1 0 5.10 0a2.55 2.55 0 1 0 -5.10 0zM671.48 116.07a2.55 2.55 0 1 0 5.10 0a2.55 2.55 0 1 0 -5.10 0zM672.61 116.06a2.55 2.55 0 1 0 5.10 0a2.55 2.55 0 1 0 -5.10 0zM673.74 116.04a2.55 2.55 0 1 0 5.10 0a2.55 2.55 0 1 0 -5.10 0zM674.86 116.04a2.55 2.55 0 1 0 5.10 0a2.55 2.55 0 1 0 -5.10 0zM675.99 116.03a2.55 2.55 0 1 0 5.10 0a2.55 2.55 0 1 0 -5.10 0zM677.12 116.04a2.55 2.55 0 1 0 5.10 0a2.55 2.55 0 1 0 -5.10 0zM678.24 116.06a2.55 2.55 0 1 0 5.10 0a2.55 2.55 0 1 0 -5.10 0zM679.37 116.08a2.55 2.55 0 1 0 5.10 0a2.55 2.55 0 1 0 -5.10 0zM680.50 116.12a2.55 2.55 0 1 0 5.10 0a2.55 2.55 0 1 0 -5.10 0zM681.62 116.17a2.55 2.55 0 1 0 5.10 0a2.55 2.55 0 1 0 -5.10 0zM682.75 116.24a2.55 2.55 0 1 0 5.10 0a2.55 2.55 0 1 0 -5.10 0zM683.88 116.32a2.55 2.55 0 1 0 5.10 0a2.55 2.55 0 1 0 -5.10 0zM685.00 116.41a2.55 2.55 0 1 0 5.10 0a2.55 2.55 0 1 0 -5.10 0zM686.13 116.52a2.55 2.55 0 1 0 5.10 0a2.55 2.55 0 1 0 -5.10 0zM687.26 116.64a2.55 2.55 0 1 0 5.10 0a2.55 2.55 0 1 0 -5.10 0zM688.38 116.76a2.55 2.55 0 1 0 5.10 0a2.55 2.55 0 1 0 -5.10 0zM689.51 116.90a2.55 2.55 0 1 0 5.10 0a2.55 2.55 0 1 0 -5.10 0zM690.64 117.04a2.55 2.55 0 1 0 5.10 0a2.55 2.55 0 1 0 -5.10 0zM691.76 117.18a2.55 2.55 0 1 0 5.10 0a2.55 2.55 0 1 0 -5.10 0zM692.89 117.33a2.55 2.55 0 1 0 5.10 0a2.55 2.55 0 1 0 -5.10 0zM694.02 117.49a2.55 2.55 0 1 0 5.10 0a2.55 2.55 0 1 0 -5.10 0zM695.14 117.64a2.55 2.55 0 1 0 5.10 0a2.55 2.55 0 1 0 -5.10 0zM696.27 117.81a2.55 2.55 0 1 0 5.10 0a2.55 2.55 0 1 0 -5.10 0zM697.40 117.98a2.55 2.55 0 1 0 5.10 0a2.55 2.55 0 1 0 -5.10 0zM698.52 118.17a2.55 2.55 0 1 0 5.10 0a2.55 2.55 0 1 0 -5.10 0zM699.65 118.37a2.55 2.55 0 1 0 5.10 0a2.55 2.55 0 1 0 -5.10 0zM700.78 118.57a2.55 2.55 0 1 0 5.10 0a2.55 2.55 0 1 0 -5.10 0zM701.90 118.78a2.55 2.55 0 1 0 5.10 0a2.55 2.55 0 1 0 -5.10 0zM703.03 119.00a2.55 2.55 0 1 0 5.10 0a2.55 2.55 0 1 0 -5.10 0zM704.16 119.22a2.55 2.55 0 1 0 5.10 0a2.55 2.55 0 1 0 -5.10 0zM705.28 119.45a2.55 2.55 0 1 0 5.10 0a2.55 2.55 0 1 0 -5.10 0zM706.41 119.67a2.55 2.55 0 1 0 5.10 0a2.55 2.55 0 1 0 -5.10 0zM707.54 119.90a2.55 2.55 0 1 0 5.10 0a2.55 2.55 0 1 0 -5.10 0zM708.66 120.13a2.55 2.55 0 1 0 5.10 0a2.55 2.55 0 1 0 -5.10 0zM709.79 120.36a2.55 2.55 0 1 0 5.10 0a2.55 2.55 0 1 0 -5.10 0zM710.92 120.61a2.55 2.55 0 1 0 5.10 0a2.55 2.55 0 1 0 -5.10 0zM712.04 120.86a2.55 2.55 0 1 0 5.10 0a2.55 2.55 0 1 0 -5.10 0zM713.17 121.11a2.55 2.55 0 1 0 5.10 0a2.55 2.55 0 1 0 -5.10 0zM714.30 121.38a2.55 2.55 0 1 0 5.10 0a2.55 2.55 0 1 0 -5.10 0zM715.42 121.65a2.55 2.55 0 1 0 5.10 0a2.55 2.55 0 1 0 -5.10 0zM716.55 121.92a2.55 2.55 0 1 0 5.10 0a2.55 2.55 0 1 0 -5.10 0zM717.68 122.21a2.55 2.55 0 1 0 5.10 0a2.55 2.55 0 1 0 -5.10 0zM718.80 122.49a2.55 2.55 0 1 0 5.10 0a2.55 2.55 0 1 0 -5.10 0zM719.93 122.79a2.55 2.55 0 1 0 5.10 0a2.55 2.55 0 1 0 -5.10 0zM721.06 123.09a2.55 2.55 0 1 0 5.10 0a2.55 2.55 0 1 0 -5.10 0zM722.18 123.42a2.55 2.55 0 1 0 5.10 0a2.55 2.55 0 1 0 -5.10 0zM723.31 123.77a2.55 2.55 0 1 0 5.10 0a2.55 2.55 0 1 0 -5.10 0zM724.44 124.14a2.55 2.55 0 1 0 5.10 0a2.55 2.55 0 1 0 -5.10 0zM725.56 124.52a2.55 2.55 0 1 0 5.10 0a2.55 2.55 0 1 0 -5.10 0zM726.69 124.93a2.55 2.55 0 1 0 5.10 0a2.55 2.55 0 1 0 -5.10 0zM727.82 125.34a2.55 2.55 0 1 0 5.10 0a2.55 2.55 0 1 0 -5.10 0zM728.94 125.77a2.55 2.55 0 1 0 5.10 0a2.55 2.55 0 1 0 -5.10 0zM730.07 126.21a2.55 2.55 0 1 0 5.10 0a2.55 2.55 0 1 0 -5.10 0zM731.20 126.67a2.55 2.55 0 1 0 5.10 0a2.55 2.55 0 1 0 -5.10 0zM732.32 127.17a2.55 2.55 0 1 0 5.10 0a2.55 2.55 0 1 0 -5.10 0zM733.45 127.70a2.55 2.55 0 1 0 5.10 0a2.55 2.55 0 1 0 -5.10 0zM734.58 128.26a2.55 2.55 0 1 0 5.10 0a2.55 2.55 0 1 0 -5.10 0zM735.70 128.86a2.55 2.55 0 1 0 5.10 0a2.55 2.55 0 1 0 -5.10 0zM736.83 129.49a2.55 2.55 0 1 0 5.10 0a2.55 2.55 0 1 0 -5.10 0zM737.96 130.15a2.55 2.55 0 1 0 5.10 0a2.55 2.55 0 1 0 -5.10 0zM739.08 130.83a2.55 2.55 0 1 0 5.10 0a2.55 2.55 0 1 0 -5.10 0zM740.21 131.54a2.55 2.55 0 1 0 5.10 0a2.55 2.55 0 1 0 -5.10 0zM741.34 132.34a2.55 2.55 0 1 0 5.10 0a2.55 2.55 0 1 0 -5.10 0zM742.46 133.27a2.55 2.55 0 1 0 5.10 0a2.55 2.55 0 1 0 -5.10 0zM743.59 134.28a2.55 2.55 0 1 0 5.10 0a2.55 2.55 0 1 0 -5.10 0zM744.72 135.34a2.55 2.55 0 1 0 5.10 0a2.55 2.55 0 1 0 -5.10 0zM745.84 136.40a2.55 2.55 0 1 0 5.10 0a2.55 2.55 0 1 0 -5.10 0zM746.97 137.47a2.55 2.55 0 1 0 5.10 0a2.55 2.55 0 1 0 -5.10 0zM748.10 138.59a2.55 2.55 0 1 0 5.10 0a2.55 2.55 0 1 0 -5.10 0zM749.22 139.79a2.55 2.55 0 1 0 5.10 0a2.55 2.55 0 1 0 -5.10 0zM750.35 141.09a2.55 2.55 0 1 0 5.10 0a2.55 2.55 0 1 0 -5.10 0zM751.48 142.50a2.55 2.55 0 1 0 5.10 0a2.55 2.55 0 1 0 -5.10 0zM752.60 144.23a2.55 2.55 0 1 0 5.10 0a2.55 2.55 0 1 0 -5.10 0zM753.73 146.44a2.55 2.55 0 1 0 5.10 0a2.55 2.55 0 1 0 -5.10 0zM754.86 149.02a2.55 2.55 0 1 0 5.10 0a2.55 2.55 0 1 0 -5.10 0zM755.98 151.94a2.55 2.55 0 1 0 5.10 0a2.55 2.55 0 1 0 -5.10 0zM757.11 155.70a2.55 2.55 0 1 0 5.10 0a2.55 2.55 0 1 0 -5.10 0zM758.24 159.39a2.55 2.55 0 1 0 5.10 0a2.55 2.55 0 1 0 -5.10 0zM759.36 169.80a2.55 2.55 0 1 0 5.10 0a2.55 2.55 0 1 0 -5.10 0zM760.75 183.40a2.55 2.55 0 1 0 5.10 0a2.55 2.55 0 1 0 -5.10 0zM761.55 190.50a2.55 2.55 0 1 0 5.10 0a2.55 2.55 0 1 0 -5.10 0zM762.74 151.20a2.55 2.55 0 1 0 5.10 0a2.55 2.55 0 1 0 -5.10 0zM763.87 113.30a2.55 2.55 0 1 0 5.10 0a2.55 2.55 0 1 0 -5.10 0zM765.00 106.18a2.55 2.55 0 1 0 5.10 0a2.55 2.55 0 1 0 -5.10 0zM766.12 103.21a2.55 2.55 0 1 0 5.10 0a2.55 2.55 0 1 0 -5.10 0zM767.25 101.60a2.55 2.55 0 1 0 5.10 0a2.55 2.55 0 1 0 -5.10 0zM768.38 100.61a2.55 2.55 0 1 0 5.10 0a2.55 2.55 0 1 0 -5.10 0zM769.50 99.83a2.55 2.55 0 1 0 5.10 0a2.55 2.55 0 1 0 -5.10 0zM770.63 99.30a2.55 2.55 0 1 0 5.10 0a2.55 2.55 0 1 0 -5.10 0zM771.76 98.84a2.55 2.55 0 1 0 5.10 0a2.55 2.55 0 1 0 -5.10 0zM772.88 98.48a2.55 2.55 0 1 0 5.10 0a2.55 2.55 0 1 0 -5.10 0zM774.01 98.25a2.55 2.55 0 1 0 5.10 0a2.55 2.55 0 1 0 -5.10 0zM775.14 98.02a2.55 2.55 0 1 0 5.10 0a2.55 2.55 0 1 0 -5.10 0zM776.26 97.80a2.55 2.55 0 1 0 5.10 0a2.55 2.55 0 1 0 -5.10 0zM777.39 97.59a2.55 2.55 0 1 0 5.10 0a2.55 2.55 0 1 0 -5.10 0zM778.52 97.42a2.55 2.55 0 1 0 5.10 0a2.55 2.55 0 1 0 -5.10 0zM779.64 97.29a2.55 2.55 0 1 0 5.10 0a2.55 2.55 0 1 0 -5.10 0zM780.77 97.21a2.55 2.55 0 1 0 5.10 0a2.55 2.55 0 1 0 -5.10 0zM781.90 97.18a2.55 2.55 0 1 0 5.10 0a2.55 2.55 0 1 0 -5.10 0zM783.02 97.15a2.55 2.55 0 1 0 5.10 0a2.55 2.55 0 1 0 -5.10 0zM784.15 97.12a2.55 2.55 0 1 0 5.10 0a2.55 2.55 0 1 0 -5.10 0zM785.28 97.10a2.55 2.55 0 1 0 5.10 0a2.55 2.55 0 1 0 -5.10 0zM786.40 97.07a2.55 2.55 0 1 0 5.10 0a2.55 2.55 0 1 0 -5.10 0zM787.53 97.05a2.55 2.55 0 1 0 5.10 0a2.55 2.55 0 1 0 -5.10 0zM788.66 97.03a2.55 2.55 0 1 0 5.10 0a2.55 2.55 0 1 0 -5.10 0zM789.78 97.00a2.55 2.55 0 1 0 5.10 0a2.55 2.55 0 1 0 -5.10 0zM790.91 96.98a2.55 2.55 0 1 0 5.10 0a2.55 2.55 0 1 0 -5.10 0zM792.04 96.96a2.55 2.55 0 1 0 5.10 0a2.55 2.55 0 1 0 -5.10 0zM793.16 96.95a2.55 2.55 0 1 0 5.10 0a2.55 2.55 0 1 0 -5.10 0zM794.29 96.93a2.55 2.55 0 1 0 5.10 0a2.55 2.55 0 1 0 -5.10 0zM795.42 96.92a2.55 2.55 0 1 0 5.10 0a2.55 2.55 0 1 0 -5.10 0zM796.54 96.90a2.55 2.55 0 1 0 5.10 0a2.55 2.55 0 1 0 -5.10 0zM797.67 96.89a2.55 2.55 0 1 0 5.10 0a2.55 2.55 0 1 0 -5.10 0zM798.80 96.88a2.55 2.55 0 1 0 5.10 0a2.55 2.55 0 1 0 -5.10 0zM799.92 96.87a2.55 2.55 0 1 0 5.10 0a2.55 2.55 0 1 0 -5.10 0zM801.05 96.85a2.55 2.55 0 1 0 5.10 0a2.55 2.55 0 1 0 -5.10 0zM802.18 96.84a2.55 2.55 0 1 0 5.10 0a2.55 2.55 0 1 0 -5.10 0zM803.30 96.83a2.55 2.55 0 1 0 5.10 0a2.55 2.55 0 1 0 -5.10 0zM804.43 96.82a2.55 2.55 0 1 0 5.10 0a2.55 2.55 0 1 0 -5.10 0zM805.56 96.80a2.55 2.55 0 1 0 5.10 0a2.55 2.55 0 1 0 -5.10 0zM806.68 96.79a2.55 2.55 0 1 0 5.10 0a2.55 2.55 0 1 0 -5.10 0zM807.81 96.78a2.55 2.55 0 1 0 5.10 0a2.55 2.55 0 1 0 -5.10 0zM808.94 96.77a2.55 2.55 0 1 0 5.10 0a2.55 2.55 0 1 0 -5.10 0zM810.06 96.76a2.55 2.55 0 1 0 5.10 0a2.55 2.55 0 1 0 -5.10 0zM811.19 96.75a2.55 2.55 0 1 0 5.10 0a2.55 2.55 0 1 0 -5.10 0zM812.32 96.74a2.55 2.55 0 1 0 5.10 0a2.55 2.55 0 1 0 -5.10 0zM813.44 96.73a2.55 2.55 0 1 0 5.10 0a2.55 2.55 0 1 0 -5.10 0zM814.57 96.72a2.55 2.55 0 1 0 5.10 0a2.55 2.55 0 1 0 -5.10 0zM815.70 96.71a2.55 2.55 0 1 0 5.10 0a2.55 2.55 0 1 0 -5.10 0zM816.82 96.71a2.55 2.55 0 1 0 5.10 0a2.55 2.55 0 1 0 -5.10 0zM817.95 96.70a2.55 2.55 0 1 0 5.10 0a2.55 2.55 0 1 0 -5.10 0z"/>
<path fill="none" stroke="#78a8f2" stroke-width="0.70" d="M482.50 95.80 L483.63 95.78 L484.75 95.77 L485.88 95.75 L487.01 95.73 L488.13 95.71 L489.26 95.68 L490.39 95.66 L491.51 95.63 L492.64 95.59 L493.77 95.56 L494.89 95.53 L496.02 95.49 L497.15 95.45 L498.27 95.41 L499.40 95.37 L500.53 95.33 L501.65 95.29 L502.78 95.25 L503.91 95.20 L505.03 95.15 L506.16 95.09 L507.29 95.03 L508.41 94.97 L509.54 94.91 L510.67 94.84 L511.79 94.77 L512.92 94.70 L514.05 94.63 L515.17 94.56 L516.30 94.49 L517.43 94.41 L518.55 94.34 L519.68 94.27 L520.81 94.20 L521.93 94.13 L523.06 94.05 L524.19 93.98 L525.31 93.90 L526.44 93.82 L527.57 93.74 L528.69 93.66 L529.82 93.57 L530.95 93.48 L532.07 93.39 L533.20 93.30 L534.33 93.20 L535.45 93.09 L536.58 92.97 L537.71 92.85 L538.83 92.73 L539.96 92.60 L541.09 92.47 L542.21 92.31 L543.34 92.14 L544.47 91.95 L545.59 91.74 L546.72 91.52 L547.85 91.28 L548.97 91.03 L550.10 90.72 L551.23 90.28 L552.35 89.75 L553.48 89.14 L554.61 88.49 L555.73 87.81 L556.86 87.11 L557.99 86.33 L559.11 85.45 L560.24 84.48 L561.37 83.46 L562.49 82.39 L563.62 81.28 L564.75 80.06 L565.87 78.68 L567.00 77.25 L568.13 75.82 L569.25 74.33 L570.38 72.74 L571.51 70.99 L572.63 69.02 L573.76 66.86 L574.89 64.55 L576.01 62.10 L577.14 59.34 L578.27 56.39 L579.39 53.43 L580.52 50.36 L581.65 47.43 L582.77 44.86 L583.90 42.47 L585.03 40.00 L586.15 37.26 L587.28 34.39 L588.41 31.65 L589.53 29.01 L590.66 26.54 L591.79 24.54 L592.91 22.89 L594.04 21.77 L595.17 21.04 L596.29 20.62 L597.42 20.68 L598.55 21.04 L599.67 21.60 L600.80 22.48 L601.93 23.64 L603.05 24.88 L604.18 26.24 L605.31 27.76 L606.43 29.40 L607.56 31.20 L608.69 33.14 L609.81 35.14 L610.94 37.12 L612.07 39.11 L613.19 41.12 L614.32 43.14 L615.45 45.15 L616.57 47.14 L617.70 49.10 L618.83 51.06 L619.95 53.06 L621.08 55.12 L622.21 57.26 L623.33 59.45 L624.46 61.66 L625.59 63.85 L626.71 65.97 L627.84 68.05 L628.97 70.10 L630.09 72.14 L631.22 74.18 L632.35 76.23 L633.47 78.22 L634.60 80.20 L635.73 82.21 L636.85 84.32 L637.98 86.59 L639.11 89.14 L640.23 91.95 L641.36 94.94 L642.49 98.06 L643.61 101.57 L644.74 105.38 L645.87 109.78 L646.99 115.26 L648.12 121.60 L649.25 131.00 L650.37 152.80 L651.50 169.60 L652.63 155.90 L653.75 136.20 L654.88 129.10 L656.01 124.79 L657.13 121.90 L658.26 120.15 L659.39 119.05 L660.51 118.11 L661.64 117.22 L662.77 116.55 L663.89 116.22 L665.02 115.99 L666.15 115.77 L667.27 115.57 L668.40 115.39 L669.53 115.26 L670.65 115.16 L671.78 115.10 L672.91 115.09 L674.03 115.07 L675.16 115.06 L676.29 115.04 L677.41 115.04 L678.54 115.03 L679.67 115.04 L680.79 115.06 L681.92 115.08 L683.05 115.12 L684.17 115.17 L685.30 115.24 L686.43 115.32 L687.55 115.41 L688.68 115.52 L689.81 115.64 L690.93 115.76 L692.06 115.90 L693.19 116.04 L694.31 116.18 L695.44 116.33 L696.57 116.49 L697.69 116.64 L698.82 116.81 L699.95 116.98 L701.07 117.17 L702.20 117.37 L703.33 117.57 L704.45 117.78 L705.58 118.00 L706.71 118.22 L707.83 118.45 L708.96 118.67 L710.09 118.90 L711.21 119.13 L712.34 119.36 L713.47 119.61 L714.59 119.86 L715.72 120.11 L716.85 120.38 L717.97 120.65 L719.10 120.92 L720.23 121.21 L721.35 121.49 L722.48 121.79 L723.61 122.09 L724.73 122.42 L725.86 122.77 L726.99 123.14 L728.11 123.52 L729.24 123.93 L730.37 124.34 L731.49 124.77 L732.62 125.21 L733.75 125.67 L734.87 126.17 L736.00 126.70 L737.13 127.26 L738.25 127.86 L739.38 128.49 L740.51 129.15 L741.63 129.83 L742.76 130.54 L743.89 131.34 L745.01 132.27 L746.14 133.28 L747.27 134.34 L748.39 135.40 L749.52 136.47 L750.65 137.59 L751.77 138.79 L752.90 140.09 L754.03 141.50 L755.15 143.23 L756.28 145.44 L757.41 148.02 L758.53 150.94 L759.66 154.70 L760.79 158.39 L761.91 167.50 L763.70 188.80 L765.29 143.10 L766.42 111.60 L767.55 105.18 L768.67 102.21 L769.80 100.60 L770.93 99.61 L772.05 98.83 L773.18 98.30 L774.31 97.84 L775.43 97.48 L776.56 97.25 L777.69 97.02 L778.81 96.80 L779.94 96.59 L781.07 96.42 L782.19 96.29 L783.32 96.21 L784.45 96.18 L785.57 96.15 L786.70 96.12 L787.83 96.10 L788.95 96.07 L790.08 96.05 L791.21 96.03 L792.33 96.00 L793.46 95.98 L794.59 95.96 L795.71 95.95 L796.84 95.93 L797.97 95.92 L799.09 95.90 L800.22 95.89 L801.35 95.88 L802.47 95.87 L803.60 95.85 L804.73 95.84 L805.85 95.83 L806.98 95.82 L808.11 95.80 L809.23 95.79 L810.36 95.78 L811.49 95.77 L812.61 95.76 L813.74 95.75 L814.87 95.74 L815.99 95.73 L817.12 95.72 L818.25 95.71 L819.37 95.71 L820.50 95.70"/>
<path fill="#1f6bda" d="M482.50 93.15l3.10 5.30h-6.20zM483.63 93.13l3.10 5.30h-6.20zM484.75 93.12l3.10 5.30h-6.20zM485.88 93.10l3.10 5.30h-6.20zM487.01 93.08l3.10 5.30h-6.20zM488.13 93.06l3.10 5.30h-6.20zM489.26 93.03l3.10 5.30h-6.20zM490.39 93.01l3.10 5.30h-6.20zM491.51 92.98l3.10 5.30h-6.20zM492.64 92.94l3.10 5.30h-6.20zM493.77 92.91l3.10 5.30h-6.20zM494.89 92.88l3.10 5.30h-6.20zM496.02 92.84l3.10 5.30h-6.20zM497.15 92.80l3.10 5.30h-6.20zM498.27 92.76l3.10 5.30h-6.20zM499.40 92.72l3.10 5.30h-6.20zM500.53 92.68l3.10 5.30h-6.20zM501.65 92.64l3.10 5.30h-6.20zM502.78 92.60l3.10 5.30h-6.20zM503.91 92.55l3.10 5.30h-6.20zM505.03 92.50l3.10 5.30h-6.20zM506.16 92.44l3.10 5.30h-6.20zM507.29 92.38l3.10 5.30h-6.20zM508.41 92.32l3.10 5.30h-6.20zM509.54 92.26l3.10 5.30h-6.20zM510.67 92.19l3.10 5.30h-6.20zM511.79 92.12l3.10 5.30h-6.20zM512.92 92.05l3.10 5.30h-6.20zM514.05 91.98l3.10 5.30h-6.20zM515.17 91.91l3.10 5.30h-6.20zM516.30 91.84l3.10 5.30h-6.20zM517.43 91.76l3.10 5.30h-6.20zM518.55 91.69l3.10 5.30h-6.20zM519.68 91.62l3.10 5.30h-6.20zM520.81 91.55l3.10 5.30h-6.20zM521.93 91.48l3.10 5.30h-6.20zM523.06 91.40l3.10 5.30h-6.20zM524.19 91.33l3.10 5.30h-6.20zM525.31 91.25l3.10 5.30h-6.20zM526.44 91.17l3.10 5.30h-6.20zM527.57 91.09l3.10 5.30h-6.20zM528.69 91.01l3.10 5.30h-6.20zM529.82 90.92l3.10 5.30h-6.20zM530.95 90.83l3.10 5.30h-6.20zM532.07 90.74l3.10 5.30h-6.20zM533.20 90.65l3.10 5.30h-6.20zM534.33 90.55l3.10 5.30h-6.20zM535.45 90.44l3.10 5.30h-6.20zM536.58 90.32l3.10 5.30h-6.20zM537.71 90.20l3.10 5.30h-6.20zM538.83 90.08l3.10 5.30h-6.20zM539.96 89.95l3.10 5.30h-6.20zM541.09 89.82l3.10 5.30h-6.20zM542.21 89.66l3.10 5.30h-6.20zM543.34 89.49l3.10 5.30h-6.20zM544.47 89.30l3.10 5.30h-6.20zM545.59 89.09l3.10 5.30h-6.20zM546.72 88.87l3.10 5.30h-6.20zM547.85 88.63l3.10 5.30h-6.20zM548.97 88.38l3.10 5.30h-6.20zM550.10 88.07l3.10 5.30h-6.20zM551.23 87.63l3.10 5.30h-6.20zM552.35 87.10l3.10 5.30h-6.20zM553.48 86.49l3.10 5.30h-6.20zM554.61 85.84l3.10 5.30h-6.20zM555.73 85.16l3.10 5.30h-6.20zM556.86 84.46l3.10 5.30h-6.20zM557.99 83.68l3.10 5.30h-6.20zM559.11 82.80l3.10 5.30h-6.20zM560.24 81.83l3.10 5.30h-6.20zM561.37 80.81l3.10 5.30h-6.20zM562.49 79.74l3.10 5.30h-6.20zM563.62 78.63l3.10 5.30h-6.20zM564.75 77.41l3.10 5.30h-6.20zM565.87 76.03l3.10 5.30h-6.20zM567.00 74.60l3.10 5.30h-6.20zM568.13 73.17l3.10 5.30h-6.20zM569.25 71.68l3.10 5.30h-6.20zM570.38 70.09l3.10 5.30h-6.20zM571.51 68.34l3.10 5.30h-6.20zM572.63 66.37l3.10 5.30h-6.20zM573.76 64.21l3.10 5.30h-6.20zM574.89 61.90l3.10 5.30h-6.20zM576.01 59.45l3.10 5.30h-6.20zM577.14 56.69l3.10 5.30h-6.20zM578.27 53.74l3.10 5.30h-6.20zM579.39 50.78l3.10 5.30h-6.20zM580.52 47.71l3.10 5.30h-6.20zM581.65 44.78l3.10 5.30h-6.20zM582.77 42.21l3.10 5.30h-6.20zM583.90 39.82l3.10 5.30h-6.20zM585.03 37.35l3.10 5.30h-6.20zM586.15 34.61l3.10 5.30h-6.20zM587.28 31.74l3.10 5.30h-6.20zM588.41 29.00l3.10 5.30h-6.20zM589.53 26.36l3.10 5.30h-6.20zM590.66 23.89l3.10 5.30h-6.20zM591.79 21.89l3.10 5.30h-6.20zM592.91 20.24l3.10 5.30h-6.20zM594.04 19.12l3.10 5.30h-6.20zM595.17 18.39l3.10 5.30h-6.20zM596.29 17.97l3.10 5.30h-6.20zM597.42 18.03l3.10 5.30h-6.20zM598.55 18.39l3.10 5.30h-6.20zM599.67 18.95l3.10 5.30h-6.20zM600.80 19.83l3.10 5.30h-6.20zM601.93 20.99l3.10 5.30h-6.20zM603.05 22.23l3.10 5.30h-6.20zM604.18 23.59l3.10 5.30h-6.20zM605.31 25.11l3.10 5.30h-6.20zM606.43 26.75l3.10 5.30h-6.20zM607.56 28.55l3.10 5.30h-6.20zM608.69 30.49l3.10 5.30h-6.20zM609.81 32.49l3.10 5.30h-6.20zM610.94 34.47l3.10 5.30h-6.20zM612.07 36.46l3.10 5.30h-6.20zM613.19 38.47l3.10 5.30h-6.20zM614.32 40.49l3.10 5.30h-6.20zM615.45 42.50l3.10 5.30h-6.20zM616.57 44.49l3.10 5.30h-6.20zM617.70 46.45l3.10 5.30h-6.20zM618.83 48.41l3.10 5.30h-6.20zM619.95 50.41l3.10 5.30h-6.20zM621.08 52.47l3.10 5.30h-6.20zM622.21 54.61l3.10 5.30h-6.20zM623.33 56.80l3.10 5.30h-6.20zM624.46 59.01l3.10 5.30h-6.20zM625.59 61.20l3.10 5.30h-6.20zM626.71 63.32l3.10 5.30h-6.20zM627.84 65.40l3.10 5.30h-6.20zM628.97 67.45l3.10 5.30h-6.20zM630.09 69.49l3.10 5.30h-6.20zM631.22 71.53l3.10 5.30h-6.20zM632.35 73.58l3.10 5.30h-6.20zM633.47 75.57l3.10 5.30h-6.20zM634.60 77.55l3.10 5.30h-6.20zM635.73 79.56l3.10 5.30h-6.20zM636.85 81.67l3.10 5.30h-6.20zM637.98 83.94l3.10 5.30h-6.20zM639.11 86.49l3.10 5.30h-6.20zM640.23 89.30l3.10 5.30h-6.20zM641.36 92.29l3.10 5.30h-6.20zM642.49 95.41l3.10 5.30h-6.20zM643.61 98.92l3.10 5.30h-6.20zM644.74 102.73l3.10 5.30h-6.20zM645.87 107.13l3.10 5.30h-6.20zM646.99 112.61l3.10 5.30h-6.20zM648.12 118.95l3.10 5.30h-6.20zM649.25 128.35l3.10 5.30h-6.20zM650.37 150.15l3.10 5.30h-6.20zM651.50 166.95l3.10 5.30h-6.20zM652.63 153.25l3.10 5.30h-6.20zM653.75 133.55l3.10 5.30h-6.20zM654.88 126.45l3.10 5.30h-6.20zM656.01 122.14l3.10 5.30h-6.20zM657.13 119.25l3.10 5.30h-6.20zM658.26 117.50l3.10 5.30h-6.20zM659.39 116.40l3.10 5.30h-6.20zM660.51 115.46l3.10 5.30h-6.20zM661.64 114.57l3.10 5.30h-6.20zM662.77 113.90l3.10 5.30h-6.20zM663.89 113.57l3.10 5.30h-6.20zM665.02 113.34l3.10 5.30h-6.20zM666.15 113.12l3.10 5.30h-6.20zM667.27 112.92l3.10 5.30h-6.20zM668.40 112.74l3.10 5.30h-6.20zM669.53 112.61l3.10 5.30h-6.20zM670.65 112.51l3.10 5.30h-6.20zM671.78 112.45l3.10 5.30h-6.20zM672.91 112.44l3.10 5.30h-6.20zM674.03 112.42l3.10 5.30h-6.20zM675.16 112.41l3.10 5.30h-6.20zM676.29 112.39l3.10 5.30h-6.20zM677.41 112.39l3.10 5.30h-6.20zM678.54 112.38l3.10 5.30h-6.20zM679.67 112.39l3.10 5.30h-6.20zM680.79 112.41l3.10 5.30h-6.20zM681.92 112.43l3.10 5.30h-6.20zM683.05 112.47l3.10 5.30h-6.20zM684.17 112.52l3.10 5.30h-6.20zM685.30 112.59l3.10 5.30h-6.20zM686.43 112.67l3.10 5.30h-6.20zM687.55 112.76l3.10 5.30h-6.20zM688.68 112.87l3.10 5.30h-6.20zM689.81 112.99l3.10 5.30h-6.20zM690.93 113.11l3.10 5.30h-6.20zM692.06 113.25l3.10 5.30h-6.20zM693.19 113.39l3.10 5.30h-6.20zM694.31 113.53l3.10 5.30h-6.20zM695.44 113.68l3.10 5.30h-6.20zM696.57 113.84l3.10 5.30h-6.20zM697.69 113.99l3.10 5.30h-6.20zM698.82 114.16l3.10 5.30h-6.20zM699.95 114.33l3.10 5.30h-6.20zM701.07 114.52l3.10 5.30h-6.20zM702.20 114.72l3.10 5.30h-6.20zM703.33 114.92l3.10 5.30h-6.20zM704.45 115.13l3.10 5.30h-6.20zM705.58 115.35l3.10 5.30h-6.20zM706.71 115.57l3.10 5.30h-6.20zM707.83 115.80l3.10 5.30h-6.20zM708.96 116.02l3.10 5.30h-6.20zM710.09 116.25l3.10 5.30h-6.20zM711.21 116.48l3.10 5.30h-6.20zM712.34 116.71l3.10 5.30h-6.20zM713.47 116.96l3.10 5.30h-6.20zM714.59 117.21l3.10 5.30h-6.20zM715.72 117.46l3.10 5.30h-6.20zM716.85 117.73l3.10 5.30h-6.20zM717.97 118.00l3.10 5.30h-6.20zM719.10 118.27l3.10 5.30h-6.20zM720.23 118.56l3.10 5.30h-6.20zM721.35 118.84l3.10 5.30h-6.20zM722.48 119.14l3.10 5.30h-6.20zM723.61 119.44l3.10 5.30h-6.20zM724.73 119.77l3.10 5.30h-6.20zM725.86 120.12l3.10 5.30h-6.20zM726.99 120.49l3.10 5.30h-6.20zM728.11 120.87l3.10 5.30h-6.20zM729.24 121.28l3.10 5.30h-6.20zM730.37 121.69l3.10 5.30h-6.20zM731.49 122.12l3.10 5.30h-6.20zM732.62 122.56l3.10 5.30h-6.20zM733.75 123.02l3.10 5.30h-6.20zM734.87 123.52l3.10 5.30h-6.20zM736.00 124.05l3.10 5.30h-6.20zM737.13 124.61l3.10 5.30h-6.20zM738.25 125.21l3.10 5.30h-6.20zM739.38 125.84l3.10 5.30h-6.20zM740.51 126.50l3.10 5.30h-6.20zM741.63 127.18l3.10 5.30h-6.20zM742.76 127.89l3.10 5.30h-6.20zM743.89 128.69l3.10 5.30h-6.20zM745.01 129.62l3.10 5.30h-6.20zM746.14 130.63l3.10 5.30h-6.20zM747.27 131.69l3.10 5.30h-6.20zM748.39 132.75l3.10 5.30h-6.20zM749.52 133.82l3.10 5.30h-6.20zM750.65 134.94l3.10 5.30h-6.20zM751.77 136.14l3.10 5.30h-6.20zM752.90 137.44l3.10 5.30h-6.20zM754.03 138.85l3.10 5.30h-6.20zM755.15 140.58l3.10 5.30h-6.20zM756.28 142.79l3.10 5.30h-6.20zM757.41 145.37l3.10 5.30h-6.20zM758.53 148.29l3.10 5.30h-6.20zM759.66 152.05l3.10 5.30h-6.20zM760.79 155.74l3.10 5.30h-6.20zM761.91 164.85l3.10 5.30h-6.20zM763.70 186.15l3.10 5.30h-6.20zM765.29 140.45l3.10 5.30h-6.20zM766.42 108.95l3.10 5.30h-6.20zM767.55 102.53l3.10 5.30h-6.20zM768.67 99.56l3.10 5.30h-6.20zM769.80 97.95l3.10 5.30h-6.20zM770.93 96.96l3.10 5.30h-6.20zM772.05 96.18l3.10 5.30h-6.20zM773.18 95.65l3.10 5.30h-6.20zM774.31 95.19l3.10 5.30h-6.20zM775.43 94.83l3.10 5.30h-6.20zM776.56 94.60l3.10 5.30h-6.20zM777.69 94.37l3.10 5.30h-6.20zM778.81 94.15l3.10 5.30h-6.20zM779.94 93.94l3.10 5.30h-6.20zM781.07 93.77l3.10 5.30h-6.20zM782.19 93.64l3.10 5.30h-6.20zM783.32 93.56l3.10 5.30h-6.20zM784.45 93.53l3.10 5.30h-6.20zM785.57 93.50l3.10 5.30h-6.20zM786.70 93.47l3.10 5.30h-6.20zM787.83 93.45l3.10 5.30h-6.20zM788.95 93.42l3.10 5.30h-6.20zM790.08 93.40l3.10 5.30h-6.20zM791.21 93.38l3.10 5.30h-6.20zM792.33 93.35l3.10 5.30h-6.20zM793.46 93.33l3.10 5.30h-6.20zM794.59 93.31l3.10 5.30h-6.20zM795.71 93.30l3.10 5.30h-6.20zM796.84 93.28l3.10 5.30h-6.20zM797.97 93.27l3.10 5.30h-6.20zM799.09 93.25l3.10 5.30h-6.20zM800.22 93.24l3.10 5.30h-6.20zM801.35 93.23l3.10 5.30h-6.20zM802.47 93.22l3.10 5.30h-6.20zM803.60 93.20l3.10 5.30h-6.20zM804.73 93.19l3.10 5.30h-6.20zM805.85 93.18l3.10 5.30h-6.20zM806.98 93.17l3.10 5.30h-6.20zM808.11 93.15l3.10 5.30h-6.20zM809.23 93.14l3.10 5.30h-6.20zM810.36 93.13l3.10 5.30h-6.20zM811.49 93.12l3.10 5.30h-6.20zM812.61 93.11l3.10 5.30h-6.20zM813.74 93.10l3.10 5.30h-6.20zM814.87 93.09l3.10 5.30h-6.20zM815.99 93.08l3.10 5.30h-6.20zM817.12 93.07l3.10 5.30h-6.20zM818.25 93.06l3.10 5.30h-6.20zM819.37 93.06l3.10 5.30h-6.20zM820.50 93.05l3.10 5.30h-6.20z"/>
<path fill="none" stroke="#8a8a8a" stroke-width="0.60" d="M482.50 269.69 L483.63 269.68 L484.75 269.65 L485.88 269.63 L487.01 269.59 L488.13 269.56 L489.26 269.51 L490.39 269.47 L491.51 269.42 L492.64 269.37 L493.77 269.32 L494.89 269.26 L496.02 269.20 L497.15 269.14 L498.27 269.08 L499.40 269.02 L500.53 268.95 L501.65 268.89 L502.78 268.81 L503.91 268.74 L505.03 268.65 L506.16 268.56 L507.29 268.46 L508.41 268.36 L509.54 268.26 L510.67 268.15 L511.79 268.03 L512.92 267.92 L514.05 267.80 L515.17 267.69 L516.30 267.57 L517.43 267.45 L518.55 267.33 L519.68 267.21 L520.81 267.10 L521.93 266.98 L523.06 266.86 L524.19 266.74 L525.31 266.61 L526.44 266.48 L527.57 266.34 L528.69 266.20 L529.82 266.06 L530.95 265.91 L532.07 265.76 L533.20 265.60 L534.33 265.44 L535.45 265.28 L536.58 265.10 L537.71 264.90 L538.83 264.67 L539.96 264.43 L541.09 264.17 L542.21 263.89 L543.34 263.59 L544.47 263.28 L545.59 262.94 L546.72 262.59 L547.85 262.22 L548.97 261.83 L550.10 261.42 L551.23 260.92 L552.35 260.31 L553.48 259.66 L554.61 259.01 L555.73 258.42 L556.86 257.84 L557.99 257.28 L559.11 256.70 L560.24 256.10 L561.37 255.47 L562.49 254.78 L563.62 254.00 L564.75 253.14 L565.87 252.23 L567.00 251.27 L568.13 250.29 L569.25 249.31 L570.38 248.34 L571.51 247.34 L572.63 246.32 L573.76 245.28 L574.89 244.23 L576.01 243.16 L577.14 242.06 L578.27 240.87 L579.39 239.59 L580.52 238.31 L581.65 237.07 L582.77 235.96 L583.90 235.04 L585.03 234.30 L586.15 233.66 L587.28 233.11 L588.41 232.65 L589.53 232.29 L590.66 232.02 L591.79 231.80 L592.91 231.67 L594.04 231.67 L595.17 231.89 L596.29 232.35 L597.42 232.97 L598.55 233.67 L599.67 234.42 L600.80 235.27 L601.93 236.18 L603.05 237.13 L604.18 238.09 L605.31 239.02 L606.43 239.92 L607.56 240.79 L608.69 241.65 L609.81 242.51 L610.94 243.38 L612.07 244.27 L613.19 245.19 L614.32 246.15 L615.45 247.14 L616.57 248.15 L617.70 249.18 L618.83 250.22 L619.95 251.28 L621.08 252.34 L622.21 253.40 L623.33 254.47 L624.46 255.56 L625.59 256.68 L626.71 257.84 L627.84 259.04 L628.97 260.31 L630.09 261.72 L631.22 263.25 L632.35 264.81 L633.47 266.33 L634.60 267.70 L635.73 268.88 L636.85 270.05 L637.98 271.45 L639.11 273.23 L640.23 275.36 L641.36 277.77 L642.49 280.37 L643.61 283.24 L644.74 286.91 L645.87 291.08 L646.99 296.40 L648.12 304.10 L649.25 317.10 L650.37 351.40 L651.50 375.40 L652.63 344.30 L653.75 307.60 L654.88 295.60 L656.01 288.70 L657.13 283.28 L658.26 279.32 L659.39 277.26 L660.51 276.47 L661.64 275.83 L662.77 275.37 L663.89 275.14 L665.02 274.94 L666.15 274.73 L667.27 274.52 L668.40 274.34 L669.53 274.18 L670.65 274.06 L671.78 274.00 L672.91 273.99 L674.03 273.98 L675.16 273.97 L676.29 273.96 L677.41 273.96 L678.54 273.96 L679.67 273.97 L680.79 273.98 L681.92 274.00 L683.05 274.04 L684.17 274.08 L685.30 274.13 L686.43 274.19 L687.55 274.25 L688.68 274.32 L689.81 274.39 L690.93 274.47 L692.06 274.55 L693.19 274.64 L694.31 274.73 L695.44 274.83 L696.57 274.92 L697.69 275.03 L698.82 275.14 L699.95 275.26 L701.07 275.39 L702.20 275.53 L703.33 275.67 L704.45 275.81 L705.58 275.95 L706.71 276.09 L707.83 276.23 L708.96 276.37 L710.09 276.50 L711.21 276.62 L712.34 276.73 L713.47 276.84 L714.59 276.94 L715.72 277.05 L716.85 277.16 L717.97 277.27 L719.10 277.39 L720.23 277.53 L721.35 277.69 L722.48 277.88 L723.61 278.09 L724.73 278.33 L725.86 278.58 L726.99 278.84 L728.11 279.11 L729.24 279.39 L730.37 279.70 L731.49 280.05 L732.62 280.44 L733.75 280.85 L734.87 281.29 L736.00 281.75 L737.13 282.22 L738.25 282.70 L739.38 283.23 L740.51 283.82 L741.63 284.47 L742.76 285.17 L743.89 285.92 L745.01 286.71 L746.14 287.62 L747.27 288.67 L748.39 289.82 L749.52 290.99 L750.65 292.15 L751.77 293.28 L752.90 294.45 L754.03 295.72 L755.15 297.16 L756.28 299.14 L757.41 302.09 L758.53 305.50 L759.66 312.70 L760.79 321.10 L761.91 335.50 L763.04 375.30 L764.17 402.70 L765.29 358.90 L766.42 308.80 L767.55 295.40 L768.67 289.25 L769.80 282.69 L770.93 280.29 L772.05 278.60 L773.18 277.51 L774.31 276.82 L775.43 276.12 L776.56 275.43 L777.69 274.78 L778.81 274.22 L779.94 273.78 L781.07 273.51 L782.19 273.33 L783.32 273.16 L784.45 272.98 L785.57 272.82 L786.70 272.66 L787.83 272.51 L788.95 272.38 L790.08 272.27 L791.21 272.18 L792.33 272.11 L793.46 272.06 L794.59 272.00 L795.71 271.95 L796.84 271.90 L797.97 271.85 L799.09 271.80 L800.22 271.75 L801.35 271.70 L802.47 271.66 L803.60 271.62 L804.73 271.58 L805.85 271.55 L806.98 271.52 L808.11 271.49 L809.23 271.47 L810.36 271.45 L811.49 271.43 L812.61 271.40 L813.74 271.38 L814.87 271.36 L815.99 271.34 L817.12 271.33 L818.25 271.32 L819.37 271.31 L820.50 271.30"/>
<path fill="#4b4b4b" d="M480.10 267.29h4.80v4.80h-4.80zM481.23 267.28h4.80v4.80h-4.80zM482.35 267.25h4.80v4.80h-4.80zM483.48 267.23h4.80v4.80h-4.80zM484.61 267.19h4.80v4.80h-4.80zM485.73 267.16h4.80v4.80h-4.80zM486.86 267.11h4.80v4.80h-4.80zM487.99 267.07h4.80v4.80h-4.80zM489.11 267.02h4.80v4.80h-4.80zM490.24 266.97h4.80v4.80h-4.80zM491.37 266.92h4.80v4.80h-4.80zM492.49 266.86h4.80v4.80h-4.80zM493.62 266.80h4.80v4.80h-4.80zM494.75 266.74h4.80v4.80h-4.80zM495.87 266.68h4.80v4.80h-4.80zM497.00 266.62h4.80v4.80h-4.80zM498.13 266.55h4.80v4.80h-4.80zM499.25 266.49h4.80v4.80h-4.80zM500.38 266.41h4.80v4.80h-4.80zM501.51 266.34h4.80v4.80h-4.80zM502.63 266.25h4.80v4.80h-4.80zM503.76 266.16h4.80v4.80h-4.80zM504.89 266.06h4.80v4.80h-4.80zM506.01 265.96h4.80v4.80h-4.80zM507.14 265.86h4.80v4.80h-4.80zM508.27 265.75h4.80v4.80h-4.80zM509.39 265.63h4.80v4.80h-4.80zM510.52 265.52h4.80v4.80h-4.80zM511.65 265.40h4.80v4.80h-4.80zM512.77 265.29h4.80v4.80h-4.80zM513.90 265.17h4.80v4.80h-4.80zM515.03 265.05h4.80v4.80h-4.80zM516.15 264.93h4.80v4.80h-4.80zM517.28 264.81h4.80v4.80h-4.80zM518.41 264.70h4.80v4.80h-4.80zM519.53 264.58h4.80v4.80h-4.80zM520.66 264.46h4.80v4.80h-4.80zM521.79 264.34h4.80v4.80h-4.80zM522.91 264.21h4.80v4.80h-4.80zM524.04 264.08h4.80v4.80h-4.80zM525.17 263.94h4.80v4.80h-4.80zM526.29 263.80h4.80v4.80h-4.80zM527.42 263.66h4.80v4.80h-4.80zM528.55 263.51h4.80v4.80h-4.80zM529.67 263.36h4.80v4.80h-4.80zM530.80 263.20h4.80v4.80h-4.80zM531.93 263.04h4.80v4.80h-4.80zM533.05 262.88h4.80v4.80h-4.80zM534.18 262.70h4.80v4.80h-4.80zM535.31 262.50h4.80v4.80h-4.80zM536.43 262.27h4.80v4.80h-4.80zM537.56 262.03h4.80v4.80h-4.80zM538.69 261.77h4.80v4.80h-4.80zM539.81 261.49h4.80v4.80h-4.80zM540.94 261.19h4.80v4.80h-4.80zM542.07 260.88h4.80v4.80h-4.80zM543.19 260.54h4.80v4.80h-4.80zM544.32 260.19h4.80v4.80h-4.80zM545.45 259.82h4.80v4.80h-4.80zM546.57 259.43h4.80v4.80h-4.80zM547.70 259.02h4.80v4.80h-4.80zM548.83 258.52h4.80v4.80h-4.80zM549.95 257.91h4.80v4.80h-4.80zM551.08 257.26h4.80v4.80h-4.80zM552.21 256.61h4.80v4.80h-4.80zM553.33 256.02h4.80v4.80h-4.80zM554.46 255.44h4.80v4.80h-4.80zM555.59 254.88h4.80v4.80h-4.80zM556.71 254.30h4.80v4.80h-4.80zM557.84 253.70h4.80v4.80h-4.80zM558.97 253.07h4.80v4.80h-4.80zM560.09 252.38h4.80v4.80h-4.80zM561.22 251.60h4.80v4.80h-4.80zM562.35 250.74h4.80v4.80h-4.80zM563.47 249.83h4.80v4.80h-4.80zM564.60 248.87h4.80v4.80h-4.80zM565.73 247.89h4.80v4.80h-4.80zM566.85 246.91h4.80v4.80h-4.80zM567.98 245.94h4.80v4.80h-4.80zM569.11 244.94h4.80v4.80h-4.80zM570.23 243.92h4.80v4.80h-4.80zM571.36 242.88h4.80v4.80h-4.80zM572.49 241.83h4.80v4.80h-4.80zM573.61 240.76h4.80v4.80h-4.80zM574.74 239.66h4.80v4.80h-4.80zM575.87 238.47h4.80v4.80h-4.80zM576.99 237.19h4.80v4.80h-4.80zM578.12 235.91h4.80v4.80h-4.80zM579.25 234.67h4.80v4.80h-4.80zM580.37 233.56h4.80v4.80h-4.80zM581.50 232.64h4.80v4.80h-4.80zM582.63 231.90h4.80v4.80h-4.80zM583.75 231.26h4.80v4.80h-4.80zM584.88 230.71h4.80v4.80h-4.80zM586.01 230.25h4.80v4.80h-4.80zM587.13 229.89h4.80v4.80h-4.80zM588.26 229.62h4.80v4.80h-4.80zM589.39 229.40h4.80v4.80h-4.80zM590.51 229.27h4.80v4.80h-4.80zM591.64 229.27h4.80v4.80h-4.80zM592.77 229.49h4.80v4.80h-4.80zM593.89 229.95h4.80v4.80h-4.80zM595.02 230.57h4.80v4.80h-4.80zM596.15 231.27h4.80v4.80h-4.80zM597.27 232.02h4.80v4.80h-4.80zM598.40 232.87h4.80v4.80h-4.80zM599.53 233.78h4.80v4.80h-4.80zM600.65 234.73h4.80v4.80h-4.80zM601.78 235.69h4.80v4.80h-4.80zM602.91 236.62h4.80v4.80h-4.80zM604.03 237.52h4.80v4.80h-4.80zM605.16 238.39h4.80v4.80h-4.80zM606.29 239.25h4.80v4.80h-4.80zM607.41 240.11h4.80v4.80h-4.80zM608.54 240.98h4.80v4.80h-4.80zM609.67 241.87h4.80v4.80h-4.80zM610.79 242.79h4.80v4.80h-4.80zM611.92 243.75h4.80v4.80h-4.80zM613.05 244.74h4.80v4.80h-4.80zM614.17 245.75h4.80v4.80h-4.80zM615.30 246.78h4.80v4.80h-4.80zM616.43 247.82h4.80v4.80h-4.80zM617.55 248.88h4.80v4.80h-4.80zM618.68 249.94h4.80v4.80h-4.80zM619.81 251.00h4.80v4.80h-4.80zM620.93 252.07h4.80v4.80h-4.80zM622.06 253.16h4.80v4.80h-4.80zM623.19 254.28h4.80v4.80h-4.80zM624.31 255.44h4.80v4.80h-4.80zM625.44 256.64h4.80v4.80h-4.80zM626.57 257.91h4.80v4.80h-4.80zM627.69 259.32h4.80v4.80h-4.80zM628.82 260.85h4.80v4.80h-4.80zM629.95 262.41h4.80v4.80h-4.80zM631.07 263.93h4.80v4.80h-4.80zM632.20 265.30h4.80v4.80h-4.80zM633.33 266.48h4.80v4.80h-4.80zM634.45 267.65h4.80v4.80h-4.80zM635.58 269.05h4.80v4.80h-4.80zM636.71 270.83h4.80v4.80h-4.80zM637.83 272.96h4.80v4.80h-4.80zM638.96 275.37h4.80v4.80h-4.80zM640.09 277.97h4.80v4.80h-4.80zM641.21 280.84h4.80v4.80h-4.80zM642.34 284.51h4.80v4.80h-4.80zM643.47 288.68h4.80v4.80h-4.80zM644.59 294.00h4.80v4.80h-4.80zM645.72 301.70h4.80v4.80h-4.80zM646.85 314.70h4.80v4.80h-4.80zM647.97 349.00h4.80v4.80h-4.80zM649.10 373.00h4.80v4.80h-4.80zM650.23 341.90h4.80v4.80h-4.80zM651.35 305.20h4.80v4.80h-4.80zM652.48 293.20h4.80v4.80h-4.80zM653.61 286.30h4.80v4.80h-4.80zM654.73 280.88h4.80v4.80h-4.80zM655.86 276.92h4.80v4.80h-4.80zM656.99 274.86h4.80v4.80h-4.80zM658.11 274.07h4.80v4.80h-4.80zM659.24 273.43h4.80v4.80h-4.80zM660.37 272.97h4.80v4.80h-4.80zM661.49 272.74h4.80v4.80h-4.80zM662.62 272.54h4.80v4.80h-4.80zM663.75 272.33h4.80v4.80h-4.80zM664.87 272.12h4.80v4.80h-4.80zM666.00 271.94h4.80v4.80h-4.80zM667.13 271.78h4.80v4.80h-4.80zM668.25 271.66h4.80v4.80h-4.80zM669.38 271.60h4.80v4.80h-4.80zM670.51 271.59h4.80v4.80h-4.80zM671.63 271.58h4.80v4.80h-4.80zM672.76 271.57h4.80v4.80h-4.80zM673.89 271.56h4.80v4.80h-4.80zM675.01 271.56h4.80v4.80h-4.80zM676.14 271.56h4.80v4.80h-4.80zM677.27 271.57h4.80v4.80h-4.80zM678.39 271.58h4.80v4.80h-4.80zM679.52 271.60h4.80v4.80h-4.80zM680.65 271.64h4.80v4.80h-4.80zM681.77 271.68h4.80v4.80h-4.80zM682.90 271.73h4.80v4.80h-4.80zM684.03 271.79h4.80v4.80h-4.80zM685.15 271.85h4.80v4.80h-4.80zM686.28 271.92h4.80v4.80h-4.80zM687.41 271.99h4.80v4.80h-4.80zM688.53 272.07h4.80v4.80h-4.80zM689.66 272.15h4.80v4.80h-4.80zM690.79 272.24h4.80v4.80h-4.80zM691.91 272.33h4.80v4.80h-4.80zM693.04 272.43h4.80v4.80h-4.80zM694.17 272.52h4.80v4.80h-4.80zM695.29 272.63h4.80v4.80h-4.80zM696.42 272.74h4.80v4.80h-4.80zM697.55 272.86h4.80v4.80h-4.80zM698.67 272.99h4.80v4.80h-4.80zM699.80 273.13h4.80v4.80h-4.80zM700.93 273.27h4.80v4.80h-4.80zM702.05 273.41h4.80v4.80h-4.80zM703.18 273.55h4.80v4.80h-4.80zM704.31 273.69h4.80v4.80h-4.80zM705.43 273.83h4.80v4.80h-4.80zM706.56 273.97h4.80v4.80h-4.80zM707.69 274.10h4.80v4.80h-4.80zM708.81 274.22h4.80v4.80h-4.80zM709.94 274.33h4.80v4.80h-4.80zM711.07 274.44h4.80v4.80h-4.80zM712.19 274.54h4.80v4.80h-4.80zM713.32 274.65h4.80v4.80h-4.80zM714.45 274.76h4.80v4.80h-4.80zM715.57 274.87h4.80v4.80h-4.80zM716.70 274.99h4.80v4.80h-4.80zM717.83 275.13h4.80v4.80h-4.80zM718.95 275.29h4.80v4.80h-4.80zM720.08 275.48h4.80v4.80h-4.80zM721.21 275.69h4.80v4.80h-4.80zM722.33 275.93h4.80v4.80h-4.80zM723.46 276.18h4.80v4.80h-4.80zM724.59 276.44h4.80v4.80h-4.80zM725.71 276.71h4.80v4.80h-4.80zM726.84 276.99h4.80v4.80h-4.80zM727.97 277.30h4.80v4.80h-4.80zM729.09 277.65h4.80v4.80h-4.80zM730.22 278.04h4.80v4.80h-4.80zM731.35 278.45h4.80v4.80h-4.80zM732.47 278.89h4.80v4.80h-4.80zM733.60 279.35h4.80v4.80h-4.80zM734.73 279.82h4.80v4.80h-4.80zM735.85 280.30h4.80v4.80h-4.80zM736.98 280.83h4.80v4.80h-4.80zM738.11 281.42h4.80v4.80h-4.80zM739.23 282.07h4.80v4.80h-4.80zM740.36 282.77h4.80v4.80h-4.80zM741.49 283.52h4.80v4.80h-4.80zM742.61 284.31h4.80v4.80h-4.80zM743.74 285.22h4.80v4.80h-4.80zM744.87 286.27h4.80v4.80h-4.80zM745.99 287.42h4.80v4.80h-4.80zM747.12 288.59h4.80v4.80h-4.80zM748.25 289.75h4.80v4.80h-4.80zM749.37 290.88h4.80v4.80h-4.80zM750.50 292.05h4.80v4.80h-4.80zM751.63 293.32h4.80v4.80h-4.80zM752.75 294.76h4.80v4.80h-4.80zM753.88 296.74h4.80v4.80h-4.80zM755.01 299.69h4.80v4.80h-4.80zM756.13 303.10h4.80v4.80h-4.80zM757.26 310.30h4.80v4.80h-4.80zM758.39 318.70h4.80v4.80h-4.80zM759.51 333.10h4.80v4.80h-4.80zM760.64 372.90h4.80v4.80h-4.80zM761.77 400.30h4.80v4.80h-4.80zM762.89 356.50h4.80v4.80h-4.80zM764.02 306.40h4.80v4.80h-4.80zM765.15 293.00h4.80v4.80h-4.80zM766.27 286.85h4.80v4.80h-4.80zM767.40 280.29h4.80v4.80h-4.80zM768.53 277.89h4.80v4.80h-4.80zM769.65 276.20h4.80v4.80h-4.80zM770.78 275.11h4.80v4.80h-4.80zM771.91 274.42h4.80v4.80h-4.80zM773.03 273.72h4.80v4.80h-4.80zM774.16 273.03h4.80v4.80h-4.80zM775.29 272.38h4.80v4.80h-4.80zM776.41 271.82h4.80v4.80h-4.80zM777.54 271.38h4.80v4.80h-4.80zM778.67 271.11h4.80v4.80h-4.80zM779.79 270.93h4.80v4.80h-4.80zM780.92 270.76h4.80v4.80h-4.80zM782.05 270.58h4.80v4.80h-4.80zM783.17 270.42h4.80v4.80h-4.80zM784.30 270.26h4.80v4.80h-4.80zM785.43 270.11h4.80v4.80h-4.80zM786.55 269.98h4.80v4.80h-4.80zM787.68 269.87h4.80v4.80h-4.80zM788.81 269.78h4.80v4.80h-4.80zM789.93 269.71h4.80v4.80h-4.80zM791.06 269.66h4.80v4.80h-4.80zM792.19 269.60h4.80v4.80h-4.80zM793.31 269.55h4.80v4.80h-4.80zM794.44 269.50h4.80v4.80h-4.80zM795.57 269.45h4.80v4.80h-4.80zM796.69 269.40h4.80v4.80h-4.80zM797.82 269.35h4.80v4.80h-4.80zM798.95 269.30h4.80v4.80h-4.80zM800.07 269.26h4.80v4.80h-4.80zM801.20 269.22h4.80v4.80h-4.80zM802.33 269.18h4.80v4.80h-4.80zM803.45 269.15h4.80v4.80h-4.80zM804.58 269.12h4.80v4.80h-4.80zM805.71 269.09h4.80v4.80h-4.80zM806.83 269.07h4.80v4.80h-4.80zM807.96 269.05h4.80v4.80h-4.80zM809.09 269.03h4.80v4.80h-4.80zM810.21 269.00h4.80v4.80h-4.80zM811.34 268.98h4.80v4.80h-4.80zM812.47 268.96h4.80v4.80h-4.80zM813.59 268.94h4.80v4.80h-4.80zM814.72 268.93h4.80v4.80h-4.80zM815.85 268.92h4.80v4.80h-4.80zM816.97 268.91h4.80v4.80h-4.80zM818.10 268.90h4.80v4.80h-4.80z"/>
<path fill="none" stroke="#b8b8b8" stroke-width="0.40" d="M482.50 524.89 L483.63 524.85 L484.75 524.81 L485.88 524.77 L487.01 524.73 L488.13 524.68 L489.26 524.63 L490.39 524.58 L491.51 524.52 L492.64 524.47 L493.77 524.41 L494.89 524.35 L496.02 524.29 L497.15 524.23 L498.27 524.17 L499.40 524.11 L500.53 524.05 L501.65 523.99 L502.78 523.92 L503.91 523.86 L505.03 523.79 L506.16 523.72 L507.29 523.65 L508.41 523.58 L509.54 523.50 L510.67 523.42 L511.79 523.34 L512.92 523.25 L514.05 523.17 L515.17 523.08 L516.30 522.99 L517.43 522.89 L518.55 522.80 L519.68 522.70 L520.81 522.60 L521.93 522.49 L523.06 522.38 L524.19 522.26 L525.31 522.14 L526.44 522.01 L527.57 521.87 L528.69 521.73 L529.82 521.59 L530.95 521.45 L532.07 521.30 L533.20 521.15 L534.33 521.00 L535.45 520.84 L536.58 520.69 L537.71 520.54 L538.83 520.38 L539.96 520.23 L541.09 520.08 L542.21 519.92 L543.34 519.76 L544.47 519.60 L545.59 519.43 L546.72 519.27 L547.85 519.10 L548.97 518.93 L550.10 518.76 L551.23 518.59 L552.35 518.42 L553.48 518.25 L554.61 518.08 L555.73 517.92 L556.86 517.76 L557.99 517.61 L559.11 517.46 L560.24 517.32 L561.37 517.18 L562.49 517.05 L563.62 516.94 L564.75 516.86 L565.87 516.80 L567.00 516.83 L568.13 516.97 L569.25 517.19 L570.38 517.46 L571.51 517.73 L572.63 518.06 L573.76 518.50 L574.89 519.02 L576.01 519.59 L577.14 520.18 L578.27 520.86 L579.39 521.62 L580.52 522.45 L581.65 523.30 L582.77 524.17 L583.90 525.08 L585.03 526.03 L586.15 527.02 L587.28 528.02 L588.41 529.04 L589.53 530.11 L590.66 531.19 L591.79 532.27 L592.91 533.34 L594.04 534.39 L595.17 535.47 L596.29 536.53 L597.42 537.51 L598.55 538.36 L599.67 539.11 L600.80 539.80 L601.93 540.42 L603.05 540.93 L604.18 541.32 L605.31 541.66 L606.43 541.99 L607.56 542.29 L608.69 542.56 L609.81 542.76 L610.94 542.88 L612.07 542.90 L613.19 542.86 L614.32 542.80 L615.45 542.71 L616.57 542.60 L617.70 542.47 L618.83 542.33 L619.95 542.18 L621.08 542.01 L622.21 541.82 L623.33 541.60 L624.46 541.36 L625.59 541.10 L626.71 540.82 L627.84 540.54 L628.97 540.26 L630.09 539.96 L631.22 539.60 L632.35 539.17 L633.47 538.67 L634.60 538.09 L635.73 537.42 L636.85 536.66 L637.98 535.39 L639.11 533.59 L640.23 531.75 L641.36 530.02 L642.49 528.19 L643.61 526.14 L644.74 523.68 L645.87 520.64 L646.99 516.82 L648.12 511.00 L649.25 499.20 L650.37 468.80 L651.50 434.40 L652.63 443.30 L653.75 471.10 L654.88 482.80 L656.01 489.70 L657.13 496.78 L658.26 501.24 L659.39 503.80 L660.51 505.58 L661.64 506.92 L662.77 508.10 L663.89 509.17 L665.02 510.22 L666.15 511.19 L667.27 511.97 L668.40 512.67 L669.53 513.34 L670.65 513.97 L671.78 514.55 L672.91 515.08 L674.03 515.55 L675.16 515.93 L676.29 516.25 L677.41 516.55 L678.54 516.84 L679.67 517.12 L680.79 517.39 L681.92 517.65 L683.05 517.90 L684.17 518.15 L685.30 518.39 L686.43 518.63 L687.55 518.87 L688.68 519.10 L689.81 519.33 L690.93 519.55 L692.06 519.76 L693.19 519.98 L694.31 520.19 L695.44 520.40 L696.57 520.61 L697.69 520.83 L698.82 521.06 L699.95 521.29 L701.07 521.54 L702.20 521.79 L703.33 522.05 L704.45 522.32 L705.58 522.60 L706.71 522.89 L707.83 523.19 L708.96 523.50 L710.09 523.82 L711.21 524.16 L712.34 524.51 L713.47 524.89 L714.59 525.30 L715.72 525.74 L716.85 526.18 L717.97 526.64 L719.10 527.09 L720.23 527.54 L721.35 527.97 L722.48 528.39 L723.61 528.81 L724.73 529.23 L725.86 529.65 L726.99 530.07 L728.11 530.51 L729.24 530.97 L730.37 531.44 L731.49 531.94 L732.62 532.46 L733.75 533.01 L734.87 533.59 L736.00 534.20 L737.13 534.85 L738.25 535.52 L739.38 536.26 L740.51 537.14 L741.63 538.11 L742.76 539.09 L743.89 540.05 L745.01 541.04 L746.14 542.12 L747.27 543.37 L748.39 544.81 L749.52 546.43 L750.65 548.21 L751.77 550.11 L752.90 552.17 L754.03 554.68 L755.15 557.42 L756.28 559.96 L757.41 562.10 L758.53 563.91 L759.60 566.80 L760.70 572.30 L762.20 585.80 L763.30 589.40 L764.10 612.30 L765.60 589.40 L766.40 546.30 L767.55 538.81 L768.67 534.87 L769.80 532.67 L770.93 531.51 L772.05 530.78 L773.18 530.32 L774.31 529.87 L775.43 529.49 L776.56 529.20 L777.69 529.06 L778.81 528.96 L779.94 528.86 L781.07 528.76 L782.19 528.66 L783.32 528.57 L784.45 528.47 L785.57 528.39 L786.70 528.31 L787.83 528.23 L788.95 528.16 L790.08 528.10 L791.21 528.05 L792.33 528.01 L793.46 527.97 L794.59 527.93 L795.71 527.89 L796.84 527.85 L797.97 527.81 L799.09 527.77 L800.22 527.73 L801.35 527.68 L802.47 527.64 L803.60 527.60 L804.73 527.56 L805.85 527.52 L806.98 527.49 L808.11 527.45 L809.23 527.42 L810.36 527.38 L811.49 527.35 L812.61 527.32 L813.74 527.30 L814.87 527.27 L815.99 527.25 L817.12 527.23 L818.25 527.22 L819.37 527.21 L820.50 527.20"/>
<path fill="#474747" d="M480.00 522.39h5.00v5.00h-5.00zM481.13 522.35h5.00v5.00h-5.00zM482.25 522.31h5.00v5.00h-5.00zM483.38 522.27h5.00v5.00h-5.00zM484.51 522.23h5.00v5.00h-5.00zM485.63 522.18h5.00v5.00h-5.00zM486.76 522.13h5.00v5.00h-5.00zM487.89 522.08h5.00v5.00h-5.00zM489.01 522.02h5.00v5.00h-5.00zM490.14 521.97h5.00v5.00h-5.00zM491.27 521.91h5.00v5.00h-5.00zM492.39 521.85h5.00v5.00h-5.00zM493.52 521.79h5.00v5.00h-5.00zM494.65 521.73h5.00v5.00h-5.00zM495.77 521.67h5.00v5.00h-5.00zM496.90 521.61h5.00v5.00h-5.00zM498.03 521.55h5.00v5.00h-5.00zM499.15 521.49h5.00v5.00h-5.00zM500.28 521.42h5.00v5.00h-5.00zM501.41 521.36h5.00v5.00h-5.00zM502.53 521.29h5.00v5.00h-5.00zM503.66 521.22h5.00v5.00h-5.00zM504.79 521.15h5.00v5.00h-5.00zM505.91 521.08h5.00v5.00h-5.00zM507.04 521.00h5.00v5.00h-5.00zM508.17 520.92h5.00v5.00h-5.00zM509.29 520.84h5.00v5.00h-5.00zM510.42 520.75h5.00v5.00h-5.00zM511.55 520.67h5.00v5.00h-5.00zM512.67 520.58h5.00v5.00h-5.00zM513.80 520.49h5.00v5.00h-5.00zM514.93 520.39h5.00v5.00h-5.00zM516.05 520.30h5.00v5.00h-5.00zM517.18 520.20h5.00v5.00h-5.00zM518.31 520.10h5.00v5.00h-5.00zM519.43 519.99h5.00v5.00h-5.00zM520.56 519.88h5.00v5.00h-5.00zM521.69 519.76h5.00v5.00h-5.00zM522.81 519.64h5.00v5.00h-5.00zM523.94 519.51h5.00v5.00h-5.00zM525.07 519.37h5.00v5.00h-5.00zM526.19 519.23h5.00v5.00h-5.00zM527.32 519.09h5.00v5.00h-5.00zM528.45 518.95h5.00v5.00h-5.00zM529.57 518.80h5.00v5.00h-5.00zM530.70 518.65h5.00v5.00h-5.00zM531.83 518.50h5.00v5.00h-5.00zM532.95 518.34h5.00v5.00h-5.00zM534.08 518.19h5.00v5.00h-5.00zM535.21 518.04h5.00v5.00h-5.00zM536.33 517.88h5.00v5.00h-5.00zM537.46 517.73h5.00v5.00h-5.00zM538.59 517.58h5.00v5.00h-5.00zM539.71 517.42h5.00v5.00h-5.00zM540.84 517.26h5.00v5.00h-5.00zM541.97 517.10h5.00v5.00h-5.00zM543.09 516.93h5.00v5.00h-5.00zM544.22 516.77h5.00v5.00h-5.00zM545.35 516.60h5.00v5.00h-5.00zM546.47 516.43h5.00v5.00h-5.00zM547.60 516.26h5.00v5.00h-5.00zM548.73 516.09h5.00v5.00h-5.00zM549.85 515.92h5.00v5.00h-5.00zM550.98 515.75h5.00v5.00h-5.00zM552.11 515.58h5.00v5.00h-5.00zM553.23 515.42h5.00v5.00h-5.00zM554.36 515.26h5.00v5.00h-5.00zM555.49 515.11h5.00v5.00h-5.00zM556.61 514.96h5.00v5.00h-5.00zM557.74 514.82h5.00v5.00h-5.00zM558.87 514.68h5.00v5.00h-5.00zM559.99 514.55h5.00v5.00h-5.00zM561.12 514.44h5.00v5.00h-5.00zM562.25 514.36h5.00v5.00h-5.00zM563.37 514.30h5.00v5.00h-5.00zM564.50 514.33h5.00v5.00h-5.00zM565.63 514.47h5.00v5.00h-5.00zM566.75 514.69h5.00v5.00h-5.00zM567.88 514.96h5.00v5.00h-5.00zM569.01 515.23h5.00v5.00h-5.00zM570.13 515.56h5.00v5.00h-5.00zM571.26 516.00h5.00v5.00h-5.00zM572.39 516.52h5.00v5.00h-5.00zM573.51 517.09h5.00v5.00h-5.00zM574.64 517.68h5.00v5.00h-5.00zM575.77 518.36h5.00v5.00h-5.00zM576.89 519.12h5.00v5.00h-5.00zM578.02 519.95h5.00v5.00h-5.00zM579.15 520.80h5.00v5.00h-5.00zM580.27 521.67h5.00v5.00h-5.00zM581.40 522.58h5.00v5.00h-5.00zM582.53 523.53h5.00v5.00h-5.00zM583.65 524.52h5.00v5.00h-5.00zM584.78 525.52h5.00v5.00h-5.00zM585.91 526.54h5.00v5.00h-5.00zM587.03 527.61h5.00v5.00h-5.00zM588.16 528.69h5.00v5.00h-5.00zM589.29 529.77h5.00v5.00h-5.00zM590.41 530.84h5.00v5.00h-5.00zM591.54 531.89h5.00v5.00h-5.00zM592.67 532.97h5.00v5.00h-5.00zM593.79 534.03h5.00v5.00h-5.00zM594.92 535.01h5.00v5.00h-5.00zM596.05 535.86h5.00v5.00h-5.00zM597.17 536.61h5.00v5.00h-5.00zM598.30 537.30h5.00v5.00h-5.00zM599.43 537.92h5.00v5.00h-5.00zM600.55 538.43h5.00v5.00h-5.00zM601.68 538.82h5.00v5.00h-5.00zM602.81 539.16h5.00v5.00h-5.00zM603.93 539.49h5.00v5.00h-5.00zM605.06 539.79h5.00v5.00h-5.00zM606.19 540.06h5.00v5.00h-5.00zM607.31 540.26h5.00v5.00h-5.00zM608.44 540.38h5.00v5.00h-5.00zM609.57 540.40h5.00v5.00h-5.00zM610.69 540.36h5.00v5.00h-5.00zM611.82 540.30h5.00v5.00h-5.00zM612.95 540.21h5.00v5.00h-5.00zM614.07 540.10h5.00v5.00h-5.00zM615.20 539.97h5.00v5.00h-5.00zM616.33 539.83h5.00v5.00h-5.00zM617.45 539.68h5.00v5.00h-5.00zM618.58 539.51h5.00v5.00h-5.00zM619.71 539.32h5.00v5.00h-5.00zM620.83 539.10h5.00v5.00h-5.00zM621.96 538.86h5.00v5.00h-5.00zM623.09 538.60h5.00v5.00h-5.00zM624.21 538.32h5.00v5.00h-5.00zM625.34 538.04h5.00v5.00h-5.00zM626.47 537.76h5.00v5.00h-5.00zM627.59 537.46h5.00v5.00h-5.00zM628.72 537.10h5.00v5.00h-5.00zM629.85 536.67h5.00v5.00h-5.00zM630.97 536.17h5.00v5.00h-5.00zM632.10 535.59h5.00v5.00h-5.00zM633.23 534.92h5.00v5.00h-5.00zM634.35 534.16h5.00v5.00h-5.00zM635.48 532.89h5.00v5.00h-5.00zM636.61 531.09h5.00v5.00h-5.00zM637.73 529.25h5.00v5.00h-5.00zM638.86 527.52h5.00v5.00h-5.00zM639.99 525.69h5.00v5.00h-5.00zM641.11 523.64h5.00v5.00h-5.00zM642.24 521.18h5.00v5.00h-5.00zM643.37 518.14h5.00v5.00h-5.00zM644.49 514.32h5.00v5.00h-5.00zM645.62 508.50h5.00v5.00h-5.00zM646.75 496.70h5.00v5.00h-5.00zM647.87 466.30h5.00v5.00h-5.00zM649.00 431.90h5.00v5.00h-5.00zM650.13 440.80h5.00v5.00h-5.00zM651.25 468.60h5.00v5.00h-5.00zM652.38 480.30h5.00v5.00h-5.00zM653.51 487.20h5.00v5.00h-5.00zM654.63 494.28h5.00v5.00h-5.00zM655.76 498.74h5.00v5.00h-5.00zM656.89 501.30h5.00v5.00h-5.00zM658.01 503.08h5.00v5.00h-5.00zM659.14 504.42h5.00v5.00h-5.00zM660.27 505.60h5.00v5.00h-5.00zM661.39 506.67h5.00v5.00h-5.00zM662.52 507.72h5.00v5.00h-5.00zM663.65 508.69h5.00v5.00h-5.00zM664.77 509.47h5.00v5.00h-5.00zM665.90 510.17h5.00v5.00h-5.00zM667.03 510.84h5.00v5.00h-5.00zM668.15 511.47h5.00v5.00h-5.00zM669.28 512.05h5.00v5.00h-5.00zM670.41 512.58h5.00v5.00h-5.00zM671.53 513.05h5.00v5.00h-5.00zM672.66 513.43h5.00v5.00h-5.00zM673.79 513.75h5.00v5.00h-5.00zM674.91 514.05h5.00v5.00h-5.00zM676.04 514.34h5.00v5.00h-5.00zM677.17 514.62h5.00v5.00h-5.00zM678.29 514.89h5.00v5.00h-5.00zM679.42 515.15h5.00v5.00h-5.00zM680.55 515.40h5.00v5.00h-5.00zM681.67 515.65h5.00v5.00h-5.00zM682.80 515.89h5.00v5.00h-5.00zM683.93 516.13h5.00v5.00h-5.00zM685.05 516.37h5.00v5.00h-5.00zM686.18 516.60h5.00v5.00h-5.00zM687.31 516.83h5.00v5.00h-5.00zM688.43 517.05h5.00v5.00h-5.00zM689.56 517.26h5.00v5.00h-5.00zM690.69 517.48h5.00v5.00h-5.00zM691.81 517.69h5.00v5.00h-5.00zM692.94 517.90h5.00v5.00h-5.00zM694.07 518.11h5.00v5.00h-5.00zM695.19 518.33h5.00v5.00h-5.00zM696.32 518.56h5.00v5.00h-5.00zM697.45 518.79h5.00v5.00h-5.00zM698.57 519.04h5.00v5.00h-5.00zM699.70 519.29h5.00v5.00h-5.00zM700.83 519.55h5.00v5.00h-5.00zM701.95 519.82h5.00v5.00h-5.00zM703.08 520.10h5.00v5.00h-5.00zM704.21 520.39h5.00v5.00h-5.00zM705.33 520.69h5.00v5.00h-5.00zM706.46 521.00h5.00v5.00h-5.00zM707.59 521.32h5.00v5.00h-5.00zM708.71 521.66h5.00v5.00h-5.00zM709.84 522.01h5.00v5.00h-5.00zM710.97 522.39h5.00v5.00h-5.00zM712.09 522.80h5.00v5.00h-5.00zM713.22 523.24h5.00v5.00h-5.00zM714.35 523.68h5.00v5.00h-5.00zM715.47 524.14h5.00v5.00h-5.00zM716.60 524.59h5.00v5.00h-5.00zM717.73 525.04h5.00v5.00h-5.00zM718.85 525.47h5.00v5.00h-5.00zM719.98 525.89h5.00v5.00h-5.00zM721.11 526.31h5.00v5.00h-5.00zM722.23 526.73h5.00v5.00h-5.00zM723.36 527.15h5.00v5.00h-5.00zM724.49 527.57h5.00v5.00h-5.00zM725.61 528.01h5.00v5.00h-5.00zM726.74 528.47h5.00v5.00h-5.00zM727.87 528.94h5.00v5.00h-5.00zM728.99 529.44h5.00v5.00h-5.00zM730.12 529.96h5.00v5.00h-5.00zM731.25 530.51h5.00v5.00h-5.00zM732.37 531.09h5.00v5.00h-5.00zM733.50 531.70h5.00v5.00h-5.00zM734.63 532.35h5.00v5.00h-5.00zM735.75 533.02h5.00v5.00h-5.00zM736.88 533.76h5.00v5.00h-5.00zM738.01 534.64h5.00v5.00h-5.00zM739.13 535.61h5.00v5.00h-5.00zM740.26 536.59h5.00v5.00h-5.00zM741.39 537.55h5.00v5.00h-5.00zM742.51 538.54h5.00v5.00h-5.00zM743.64 539.62h5.00v5.00h-5.00zM744.77 540.87h5.00v5.00h-5.00zM745.89 542.31h5.00v5.00h-5.00zM747.02 543.93h5.00v5.00h-5.00zM748.15 545.71h5.00v5.00h-5.00zM749.27 547.61h5.00v5.00h-5.00zM750.40 549.67h5.00v5.00h-5.00zM751.53 552.18h5.00v5.00h-5.00zM752.65 554.92h5.00v5.00h-5.00zM753.78 557.46h5.00v5.00h-5.00zM754.91 559.60h5.00v5.00h-5.00zM756.03 561.41h5.00v5.00h-5.00zM757.10 564.30h5.00v5.00h-5.00zM758.20 569.80h5.00v5.00h-5.00zM759.70 583.30h5.00v5.00h-5.00zM760.80 586.90h5.00v5.00h-5.00zM761.60 609.80h5.00v5.00h-5.00zM763.10 586.90h5.00v5.00h-5.00zM763.90 543.80h5.00v5.00h-5.00zM765.05 536.31h5.00v5.00h-5.00zM766.17 532.37h5.00v5.00h-5.00zM767.30 530.17h5.00v5.00h-5.00zM768.43 529.01h5.00v5.00h-5.00zM769.55 528.28h5.00v5.00h-5.00zM770.68 527.82h5.00v5.00h-5.00zM771.81 527.37h5.00v5.00h-5.00zM772.93 526.99h5.00v5.00h-5.00zM774.06 526.70h5.00v5.00h-5.00zM775.19 526.56h5.00v5.00h-5.00zM776.31 526.46h5.00v5.00h-5.00zM777.44 526.36h5.00v5.00h-5.00zM778.57 526.26h5.00v5.00h-5.00zM779.69 526.16h5.00v5.00h-5.00zM780.82 526.07h5.00v5.00h-5.00zM781.95 525.97h5.00v5.00h-5.00zM783.07 525.89h5.00v5.00h-5.00zM784.20 525.81h5.00v5.00h-5.00zM785.33 525.73h5.00v5.00h-5.00zM786.45 525.66h5.00v5.00h-5.00zM787.58 525.60h5.00v5.00h-5.00zM788.71 525.55h5.00v5.00h-5.00zM789.83 525.51h5.00v5.00h-5.00zM790.96 525.47h5.00v5.00h-5.00zM792.09 525.43h5.00v5.00h-5.00zM793.21 525.39h5.00v5.00h-5.00zM794.34 525.35h5.00v5.00h-5.00zM795.47 525.31h5.00v5.00h-5.00zM796.59 525.27h5.00v5.00h-5.00zM797.72 525.23h5.00v5.00h-5.00zM798.85 525.18h5.00v5.00h-5.00zM799.97 525.14h5.00v5.00h-5.00zM801.10 525.10h5.00v5.00h-5.00zM802.23 525.06h5.00v5.00h-5.00zM803.35 525.02h5.00v5.00h-5.00zM804.48 524.99h5.00v5.00h-5.00zM805.61 524.95h5.00v5.00h-5.00zM806.73 524.92h5.00v5.00h-5.00zM807.86 524.88h5.00v5.00h-5.00zM808.99 524.85h5.00v5.00h-5.00zM810.11 524.82h5.00v5.00h-5.00zM811.24 524.80h5.00v5.00h-5.00zM812.37 524.77h5.00v5.00h-5.00zM813.49 524.75h5.00v5.00h-5.00zM814.62 524.73h5.00v5.00h-5.00zM815.75 524.72h5.00v5.00h-5.00zM816.87 524.71h5.00v5.00h-5.00zM818.00 524.70h5.00v5.00h-5.00z"/>
<path fill="none" stroke="#f4a0a0" stroke-width="0.40" d="M482.50 524.89 L483.63 524.85 L484.75 524.81 L485.88 524.77 L487.01 524.73 L488.13 524.68 L489.26 524.63 L490.39 524.58 L491.51 524.52 L492.64 524.47 L493.77 524.41 L494.89 524.35 L496.02 524.29 L497.15 524.23 L498.27 524.17 L499.40 524.11 L500.53 524.05 L501.65 523.99 L502.78 523.92 L503.91 523.86 L505.03 523.79 L506.16 523.72 L507.29 523.65 L508.41 523.58 L509.54 523.50 L510.67 523.42 L511.79 523.34 L512.92 523.25 L514.05 523.17 L515.17 523.08 L516.30 522.99 L517.43 522.89 L518.55 522.80 L519.68 522.70 L520.81 522.60 L521.93 522.49 L523.06 522.38 L524.19 522.26 L525.31 522.14 L526.44 522.01 L527.57 521.87 L528.69 521.73 L529.82 521.59 L530.95 521.45 L532.07 521.30 L533.20 521.15 L534.33 521.00 L535.45 520.84 L536.58 520.69 L537.71 520.54 L538.83 520.38 L539.96 520.23 L541.09 520.08 L542.21 519.92 L543.34 519.76 L544.47 519.60 L545.59 519.43 L546.72 519.27 L547.85 519.10 L548.97 518.93 L550.10 518.76 L551.23 518.59 L552.35 518.42 L553.48 518.25 L554.61 518.08 L555.73 517.92 L556.86 517.76 L557.99 517.61 L559.11 517.46 L560.24 517.32 L561.37 517.18 L562.49 517.05 L563.62 516.94 L564.75 516.86 L565.87 516.80 L567.00 516.83 L568.13 516.97 L569.25 517.19 L570.38 517.46 L571.51 517.73 L572.63 518.06 L573.76 518.50 L574.89 519.02 L576.01 519.59 L577.14 520.18 L578.27 520.86 L579.39 521.62 L580.52 522.45 L581.65 523.30 L582.77 524.17 L583.90 525.08 L585.03 526.03 L586.15 527.02 L587.28 528.02 L588.41 529.04 L589.53 530.11 L590.66 531.19 L591.79 532.27 L592.91 533.34 L594.04 534.39 L595.17 535.47 L596.29 536.53 L597.42 537.51 L598.55 538.36 L599.67 539.11 L600.80 539.80 L601.93 540.42 L603.05 540.93 L604.18 541.32 L605.31 541.66 L606.43 541.99 L607.56 542.29 L608.69 542.56 L609.81 542.76 L610.94 542.88 L612.07 542.90 L613.19 542.86 L614.32 542.80 L615.45 542.71 L616.57 542.60 L617.70 542.47 L618.83 542.33 L619.95 542.18 L621.08 542.01 L622.21 541.82 L623.33 541.60 L624.46 541.36 L625.59 541.10 L626.71 540.82 L627.84 540.54 L628.97 540.26 L630.09 539.96 L631.22 539.60 L632.35 539.17 L633.47 538.67 L634.60 538.09 L635.73 537.42 L636.85 536.66 L637.98 535.39 L639.11 533.59 L640.23 531.75 L641.36 530.02 L642.49 528.19 L643.61 526.14 L644.74 523.68 L645.87 520.64 L646.99 516.82 L648.12 511.00 L649.25 499.20 L650.37 468.80 L651.50 434.40 L652.63 443.30 L653.75 471.10 L654.88 482.80 L656.01 489.70 L657.13 496.78 L658.26 501.24 L659.39 503.80 L660.51 505.58 L661.64 506.92 L662.77 508.10 L663.89 509.17 L665.02 510.22 L666.15 511.19 L667.27 511.97 L668.40 512.67 L669.53 513.34 L670.65 513.97 L671.78 514.55 L672.91 515.08 L674.03 515.55 L675.16 515.93 L676.29 516.25 L677.41 516.55 L678.54 516.84 L679.67 517.12 L680.79 517.39 L681.92 517.65 L683.05 517.90 L684.17 518.15 L685.30 518.39 L686.43 518.63 L687.55 518.87 L688.68 519.10 L689.81 519.33 L690.93 519.55 L692.06 519.76 L693.19 519.98 L694.31 520.19 L695.44 520.40 L696.57 520.61 L697.69 520.83 L698.82 521.06 L699.95 521.29 L701.07 521.54 L702.20 521.79 L703.33 522.05 L704.45 522.32 L705.58 522.60 L706.71 522.89 L707.83 523.19 L708.96 523.50 L710.09 523.82 L711.21 524.16 L712.34 524.51 L713.47 524.89 L714.59 525.30 L715.72 525.74 L716.85 526.18 L717.97 526.64 L719.10 527.09 L720.23 527.54 L721.35 527.97 L722.48 528.39 L723.61 528.81 L724.73 529.23 L725.86 529.65 L726.99 530.07 L728.11 530.51 L729.24 530.97 L730.37 531.44 L731.49 531.94 L732.62 532.46 L733.75 533.01 L734.87 533.59 L736.00 534.20 L737.13 534.85 L738.25 535.52 L739.38 536.26 L740.51 537.14 L741.63 538.11 L742.76 539.09 L743.89 540.05 L745.01 541.04 L746.14 542.12 L747.27 543.37 L748.39 544.81 L749.52 546.43 L750.65 548.21 L751.77 550.11 L752.90 552.17 L754.03 554.68 L755.15 557.42 L756.28 559.96 L757.41 562.10 L758.53 563.91 L759.60 566.80 L760.70 572.30 L761.90 582.80 L763.00 598.50 L764.10 611.80 L765.50 580.90 L766.40 546.30 L767.55 538.81 L768.67 534.87 L769.80 532.67 L770.93 531.51 L772.05 530.78 L773.18 530.32 L774.31 529.87 L775.43 529.49 L776.56 529.20 L777.69 529.06 L778.81 528.96 L779.94 528.86 L781.07 528.76 L782.19 528.66 L783.32 528.57 L784.45 528.47 L785.57 528.39 L786.70 528.31 L787.83 528.23 L788.95 528.16 L790.08 528.10 L791.21 528.05 L792.33 528.01 L793.46 527.97 L794.59 527.93 L795.71 527.89 L796.84 527.85 L797.97 527.81 L799.09 527.77 L800.22 527.73 L801.35 527.68 L802.47 527.64 L803.60 527.60 L804.73 527.56 L805.85 527.52 L806.98 527.49 L808.11 527.45 L809.23 527.42 L810.36 527.38 L811.49 527.35 L812.61 527.32 L813.74 527.30 L814.87 527.27 L815.99 527.25 L817.12 527.23 L818.25 527.22 L819.37 527.21 L820.50 527.20"/>
<path fill="#ef4848" d="M479.95 525.09a2.55 2.55 0 1 0 5.10 0a2.55 2.55 0 1 0 -5.10 0zM481.08 525.05a2.55 2.55 0 1 0 5.10 0a2.55 2.55 0 1 0 -5.10 0zM482.20 525.01a2.55 2.55 0 1 0 5.10 0a2.55 2.55 0 1 0 -5.10 0zM483.33 524.97a2.55 2.55 0 1 0 5.10 0a2.55 2.55 0 1 0 -5.10 0zM484.46 524.93a2.55 2.55 0 1 0 5.10 0a2.55 2.55 0 1 0 -5.10 0zM485.58 524.88a2.55 2.55 0 1 0 5.10 0a2.55 2.55 0 1 0 -5.10 0zM486.71 524.83a2.55 2.55 0 1 0 5.10 0a2.55 2.55 0 1 0 -5.10 0zM487.84 524.78a2.55 2.55 0 1 0 5.10 0a2.55 2.55 0 1 0 -5.10 0zM488.96 524.72a2.55 2.55 0 1 0 5.10 0a2.55 2.55 0 1 0 -5.10 0zM490.09 524.67a2.55 2.55 0 1 0 5.10 0a2.55 2.55 0 1 0 -5.10 0zM491.22 524.61a2.55 2.55 0 1 0 5.10 0a2.55 2.55 0 1 0 -5.10 0zM492.34 524.55a2.55 2.55 0 1 0 5.10 0a2.55 2.55 0 1 0 -5.10 0zM493.47 524.49a2.55 2.55 0 1 0 5.10 0a2.55 2.55 0 1 0 -5.10 0zM494.60 524.43a2.55 2.55 0 1 0 5.10 0a2.55 2.55 0 1 0 -5.10 0zM495.72 524.37a2.55 2.55 0 1 0 5.10 0a2.55 2.55 0 1 0 -5.10 0zM496.85 524.31a2.55 2.55 0 1 0 5.10 0a2.55 2.55 0 1 0 -5.10 0zM497.98 524.25a2.55 2.55 0 1 0 5.10 0a2.55 2.55 0 1 0 -5.10 0zM499.10 524.19a2.55 2.55 0 1 0 5.10 0a2.55 2.55 0 1 0 -5.10 0zM500.23 524.12a2.55 2.55 0 1 0 5.10 0a2.55 2.55 0 1 0 -5.10 0zM501.36 524.06a2.55 2.55 0 1 0 5.10 0a2.55 2.55 0 1 0 -5.10 0zM502.48 523.99a2.55 2.55 0 1 0 5.10 0a2.55 2.55 0 1 0 -5.10 0zM503.61 523.92a2.55 2.55 0 1 0 5.10 0a2.55 2.55 0 1 0 -5.10 0zM504.74 523.85a2.55 2.55 0 1 0 5.10 0a2.55 2.55 0 1 0 -5.10 0zM505.86 523.78a2.55 2.55 0 1 0 5.10 0a2.55 2.55 0 1 0 -5.10 0zM506.99 523.70a2.55 2.55 0 1 0 5.10 0a2.55 2.55 0 1 0 -5.10 0zM508.12 523.62a2.55 2.55 0 1 0 5.10 0a2.55 2.55 0 1 0 -5.10 0zM509.24 523.54a2.55 2.55 0 1 0 5.10 0a2.55 2.55 0 1 0 -5.10 0zM510.37 523.45a2.55 2.55 0 1 0 5.10 0a2.55 2.55 0 1 0 -5.10 0zM511.50 523.37a2.55 2.55 0 1 0 5.10 0a2.55 2.55 0 1 0 -5.10 0zM512.62 523.28a2.55 2.55 0 1 0 5.10 0a2.55 2.55 0 1 0 -5.10 0zM513.75 523.19a2.55 2.55 0 1 0 5.10 0a2.55 2.55 0 1 0 -5.10 0zM514.88 523.09a2.55 2.55 0 1 0 5.10 0a2.55 2.55 0 1 0 -5.10 0zM516.00 523.00a2.55 2.55 0 1 0 5.10 0a2.55 2.55 0 1 0 -5.10 0zM517.13 522.90a2.55 2.55 0 1 0 5.10 0a2.55 2.55 0 1 0 -5.10 0zM518.26 522.80a2.55 2.55 0 1 0 5.10 0a2.55 2.55 0 1 0 -5.10 0zM519.38 522.69a2.55 2.55 0 1 0 5.10 0a2.55 2.55 0 1 0 -5.10 0zM520.51 522.58a2.55 2.55 0 1 0 5.10 0a2.55 2.55 0 1 0 -5.10 0zM521.64 522.46a2.55 2.55 0 1 0 5.10 0a2.55 2.55 0 1 0 -5.10 0zM522.76 522.34a2.55 2.55 0 1 0 5.10 0a2.55 2.55 0 1 0 -5.10 0zM523.89 522.21a2.55 2.55 0 1 0 5.10 0a2.55 2.55 0 1 0 -5.10 0zM525.02 522.07a2.55 2.55 0 1 0 5.10 0a2.55 2.55 0 1 0 -5.10 0zM526.14 521.93a2.55 2.55 0 1 0 5.10 0a2.55 2.55 0 1 0 -5.10 0zM527.27 521.79a2.55 2.55 0 1 0 5.10 0a2.55 2.55 0 1 0 -5.10 0zM528.40 521.65a2.55 2.55 0 1 0 5.10 0a2.55 2.55 0 1 0 -5.10 0zM529.52 521.50a2.55 2.55 0 1 0 5.10 0a2.55 2.55 0 1 0 -5.10 0zM530.65 521.35a2.55 2.55 0 1 0 5.10 0a2.55 2.55 0 1 0 -5.10 0zM531.78 521.20a2.55 2.55 0 1 0 5.10 0a2.55 2.55 0 1 0 -5.10 0zM532.90 521.04a2.55 2.55 0 1 0 5.10 0a2.55 2.55 0 1 0 -5.10 0zM534.03 520.89a2.55 2.55 0 1 0 5.10 0a2.55 2.55 0 1 0 -5.10 0zM535.16 520.74a2.55 2.55 0 1 0 5.10 0a2.55 2.55 0 1 0 -5.10 0zM536.28 520.58a2.55 2.55 0 1 0 5.10 0a2.55 2.55 0 1 0 -5.10 0zM537.41 520.43a2.55 2.55 0 1 0 5.10 0a2.55 2.55 0 1 0 -5.10 0zM538.54 520.28a2.55 2.55 0 1 0 5.10 0a2.55 2.55 0 1 0 -5.10 0zM539.66 520.12a2.55 2.55 0 1 0 5.10 0a2.55 2.55 0 1 0 -5.10 0zM540.79 519.96a2.55 2.55 0 1 0 5.10 0a2.55 2.55 0 1 0 -5.10 0zM541.92 519.80a2.55 2.55 0 1 0 5.10 0a2.55 2.55 0 1 0 -5.10 0zM543.04 519.63a2.55 2.55 0 1 0 5.10 0a2.55 2.55 0 1 0 -5.10 0zM544.17 519.47a2.55 2.55 0 1 0 5.10 0a2.55 2.55 0 1 0 -5.10 0zM545.30 519.30a2.55 2.55 0 1 0 5.10 0a2.55 2.55 0 1 0 -5.10 0zM546.42 519.13a2.55 2.55 0 1 0 5.10 0a2.55 2.55 0 1 0 -5.10 0zM547.55 518.96a2.55 2.55 0 1 0 5.10 0a2.55 2.55 0 1 0 -5.10 0zM548.68 518.79a2.55 2.55 0 1 0 5.10 0a2.55 2.55 0 1 0 -5.10 0zM549.80 518.62a2.55 2.55 0 1 0 5.10 0a2.55 2.55 0 1 0 -5.10 0zM550.93 518.45a2.55 2.55 0 1 0 5.10 0a2.55 2.55 0 1 0 -5.10 0zM552.06 518.28a2.55 2.55 0 1 0 5.10 0a2.55 2.55 0 1 0 -5.10 0zM553.18 518.12a2.55 2.55 0 1 0 5.10 0a2.55 2.55 0 1 0 -5.10 0zM554.31 517.96a2.55 2.55 0 1 0 5.10 0a2.55 2.55 0 1 0 -5.10 0zM555.44 517.81a2.55 2.55 0 1 0 5.10 0a2.55 2.55 0 1 0 -5.10 0zM556.56 517.66a2.55 2.55 0 1 0 5.10 0a2.55 2.55 0 1 0 -5.10 0zM557.69 517.52a2.55 2.55 0 1 0 5.10 0a2.55 2.55 0 1 0 -5.10 0zM558.82 517.38a2.55 2.55 0 1 0 5.10 0a2.55 2.55 0 1 0 -5.10 0zM559.94 517.25a2.55 2.55 0 1 0 5.10 0a2.55 2.55 0 1 0 -5.10 0zM561.07 517.14a2.55 2.55 0 1 0 5.10 0a2.55 2.55 0 1 0 -5.10 0zM562.20 517.06a2.55 2.55 0 1 0 5.10 0a2.55 2.55 0 1 0 -5.10 0zM563.32 517.00a2.55 2.55 0 1 0 5.10 0a2.55 2.55 0 1 0 -5.10 0zM564.45 517.03a2.55 2.55 0 1 0 5.10 0a2.55 2.55 0 1 0 -5.10 0zM565.58 517.17a2.55 2.55 0 1 0 5.10 0a2.55 2.55 0 1 0 -5.10 0zM566.70 517.39a2.55 2.55 0 1 0 5.10 0a2.55 2.55 0 1 0 -5.10 0zM567.83 517.66a2.55 2.55 0 1 0 5.10 0a2.55 2.55 0 1 0 -5.10 0zM568.96 517.93a2.55 2.55 0 1 0 5.10 0a2.55 2.55 0 1 0 -5.10 0zM570.08 518.26a2.55 2.55 0 1 0 5.10 0a2.55 2.55 0 1 0 -5.10 0zM571.21 518.70a2.55 2.55 0 1 0 5.10 0a2.55 2.55 0 1 0 -5.10 0zM572.34 519.22a2.55 2.55 0 1 0 5.10 0a2.55 2.55 0 1 0 -5.10 0zM573.46 519.79a2.55 2.55 0 1 0 5.10 0a2.55 2.55 0 1 0 -5.10 0zM574.59 520.38a2.55 2.55 0 1 0 5.10 0a2.55 2.55 0 1 0 -5.10 0zM575.72 521.06a2.55 2.55 0 1 0 5.10 0a2.55 2.55 0 1 0 -5.10 0zM576.84 521.82a2.55 2.55 0 1 0 5.10 0a2.55 2.55 0 1 0 -5.10 0zM577.97 522.65a2.55 2.55 0 1 0 5.10 0a2.55 2.55 0 1 0 -5.10 0zM579.10 523.50a2.55 2.55 0 1 0 5.10 0a2.55 2.55 0 1 0 -5.10 0zM580.22 524.37a2.55 2.55 0 1 0 5.10 0a2.55 2.55 0 1 0 -5.10 0zM581.35 525.28a2.55 2.55 0 1 0 5.10 0a2.55 2.55 0 1 0 -5.10 0zM582.48 526.23a2.55 2.55 0 1 0 5.10 0a2.55 2.55 0 1 0 -5.10 0zM583.60 527.22a2.55 2.55 0 1 0 5.10 0a2.55 2.55 0 1 0 -5.10 0zM584.73 528.22a2.55 2.55 0 1 0 5.10 0a2.55 2.55 0 1 0 -5.10 0zM585.86 529.24a2.55 2.55 0 1 0 5.10 0a2.55 2.55 0 1 0 -5.10 0zM586.98 530.31a2.55 2.55 0 1 0 5.10 0a2.55 2.55 0 1 0 -5.10 0zM588.11 531.39a2.55 2.55 0 1 0 5.10 0a2.55 2.55 0 1 0 -5.10 0zM589.24 532.47a2.55 2.55 0 1 0 5.10 0a2.55 2.55 0 1 0 -5.10 0zM590.36 533.54a2.55 2.55 0 1 0 5.10 0a2.55 2.55 0 1 0 -5.10 0zM591.49 534.59a2.55 2.55 0 1 0 5.10 0a2.55 2.55 0 1 0 -5.10 0zM592.62 535.67a2.55 2.55 0 1 0 5.10 0a2.55 2.55 0 1 0 -5.10 0zM593.74 536.73a2.55 2.55 0 1 0 5.10 0a2.55 2.55 0 1 0 -5.10 0zM594.87 537.71a2.55 2.55 0 1 0 5.10 0a2.55 2.55 0 1 0 -5.10 0zM596.00 538.56a2.55 2.55 0 1 0 5.10 0a2.55 2.55 0 1 0 -5.10 0zM597.12 539.31a2.55 2.55 0 1 0 5.10 0a2.55 2.55 0 1 0 -5.10 0zM598.25 540.00a2.55 2.55 0 1 0 5.10 0a2.55 2.55 0 1 0 -5.10 0zM599.38 540.62a2.55 2.55 0 1 0 5.10 0a2.55 2.55 0 1 0 -5.10 0zM600.50 541.13a2.55 2.55 0 1 0 5.10 0a2.55 2.55 0 1 0 -5.10 0zM601.63 541.52a2.55 2.55 0 1 0 5.10 0a2.55 2.55 0 1 0 -5.10 0zM602.76 541.86a2.55 2.55 0 1 0 5.10 0a2.55 2.55 0 1 0 -5.10 0zM603.88 542.19a2.55 2.55 0 1 0 5.10 0a2.55 2.55 0 1 0 -5.10 0zM605.01 542.49a2.55 2.55 0 1 0 5.10 0a2.55 2.55 0 1 0 -5.10 0zM606.14 542.76a2.55 2.55 0 1 0 5.10 0a2.55 2.55 0 1 0 -5.10 0zM607.26 542.96a2.55 2.55 0 1 0 5.10 0a2.55 2.55 0 1 0 -5.10 0zM608.39 543.08a2.55 2.55 0 1 0 5.10 0a2.55 2.55 0 1 0 -5.10 0zM609.52 543.10a2.55 2.55 0 1 0 5.10 0a2.55 2.55 0 1 0 -5.10 0zM610.64 543.06a2.55 2.55 0 1 0 5.10 0a2.55 2.55 0 1 0 -5.10 0zM611.77 543.00a2.55 2.55 0 1 0 5.10 0a2.55 2.55 0 1 0 -5.10 0zM612.90 542.91a2.55 2.55 0 1 0 5.10 0a2.55 2.55 0 1 0 -5.10 0zM614.02 542.80a2.55 2.55 0 1 0 5.10 0a2.55 2.55 0 1 0 -5.10 0zM615.15 542.67a2.55 2.55 0 1 0 5.10 0a2.55 2.55 0 1 0 -5.10 0zM616.28 542.53a2.55 2.55 0 1 0 5.10 0a2.55 2.55 0 1 0 -5.10 0zM617.40 542.38a2.55 2.55 0 1 0 5.10 0a2.55 2.55 0 1 0 -5.10 0zM618.53 542.21a2.55 2.55 0 1 0 5.10 0a2.55 2.55 0 1 0 -5.10 0zM619.66 542.02a2.55 2.55 0 1 0 5.10 0a2.55 2.55 0 1 0 -5.10 0zM620.78 541.80a2.55 2.55 0 1 0 5.10 0a2.55 2.55 0 1 0 -5.10 0zM621.91 541.56a2.55 2.55 0 1 0 5.10 0a2.55 2.55 0 1 0 -5.10 0zM623.04 541.30a2.55 2.55 0 1 0 5.10 0a2.55 2.55 0 1 0 -5.10 0zM624.16 541.02a2.55 2.55 0 1 0 5.10 0a2.55 2.55 0 1 0 -5.10 0zM625.29 540.74a2.55 2.55 0 1 0 5.10 0a2.55 2.55 0 1 0 -5.10 0zM626.42 540.46a2.55 2.55 0 1 0 5.10 0a2.55 2.55 0 1 0 -5.10 0zM627.54 540.16a2.55 2.55 0 1 0 5.10 0a2.55 2.55 0 1 0 -5.10 0zM628.67 539.80a2.55 2.55 0 1 0 5.10 0a2.55 2.55 0 1 0 -5.10 0zM629.80 539.37a2.55 2.55 0 1 0 5.10 0a2.55 2.55 0 1 0 -5.10 0zM630.92 538.87a2.55 2.55 0 1 0 5.10 0a2.55 2.55 0 1 0 -5.10 0zM632.05 538.29a2.55 2.55 0 1 0 5.10 0a2.55 2.55 0 1 0 -5.10 0zM633.18 537.62a2.55 2.55 0 1 0 5.10 0a2.55 2.55 0 1 0 -5.10 0zM634.30 536.86a2.55 2.55 0 1 0 5.10 0a2.55 2.55 0 1 0 -5.10 0zM635.43 535.59a2.55 2.55 0 1 0 5.10 0a2.55 2.55 0 1 0 -5.10 0zM636.56 533.79a2.55 2.55 0 1 0 5.10 0a2.55 2.55 0 1 0 -5.10 0zM637.68 531.95a2.55 2.55 0 1 0 5.10 0a2.55 2.55 0 1 0 -5.10 0zM638.81 530.22a2.55 2.55 0 1 0 5.10 0a2.55 2.55 0 1 0 -5.10 0zM639.94 528.39a2.55 2.55 0 1 0 5.10 0a2.55 2.55 0 1 0 -5.10 0zM641.06 526.34a2.55 2.55 0 1 0 5.10 0a2.55 2.55 0 1 0 -5.10 0zM642.19 523.88a2.55 2.55 0 1 0 5.10 0a2.55 2.55 0 1 0 -5.10 0zM643.32 520.84a2.55 2.55 0 1 0 5.10 0a2.55 2.55 0 1 0 -5.10 0zM644.44 517.02a2.55 2.55 0 1 0 5.10 0a2.55 2.55 0 1 0 -5.10 0zM645.57 511.20a2.55 2.55 0 1 0 5.10 0a2.55 2.55 0 1 0 -5.10 0zM646.70 499.40a2.55 2.55 0 1 0 5.10 0a2.55 2.55 0 1 0 -5.10 0zM647.82 469.00a2.55 2.55 0 1 0 5.10 0a2.55 2.55 0 1 0 -5.10 0zM648.95 434.60a2.55 2.55 0 1 0 5.10 0a2.55 2.55 0 1 0 -5.10 0zM650.08 443.50a2.55 2.55 0 1 0 5.10 0a2.55 2.55 0 1 0 -5.10 0zM651.20 471.30a2.55 2.55 0 1 0 5.10 0a2.55 2.55 0 1 0 -5.10 0zM652.33 483.00a2.55 2.55 0 1 0 5.10 0a2.55 2.55 0 1 0 -5.10 0zM653.46 489.90a2.55 2.55 0 1 0 5.10 0a2.55 2.55 0 1 0 -5.10 0zM654.58 496.98a2.55 2.55 0 1 0 5.10 0a2.55 2.55 0 1 0 -5.10 0zM655.71 501.44a2.55 2.55 0 1 0 5.10 0a2.55 2.55 0 1 0 -5.10 0zM656.84 504.00a2.55 2.55 0 1 0 5.10 0a2.55 2.55 0 1 0 -5.10 0zM657.96 505.78a2.55 2.55 0 1 0 5.10 0a2.55 2.55 0 1 0 -5.10 0zM659.09 507.12a2.55 2.55 0 1 0 5.10 0a2.55 2.55 0 1 0 -5.10 0zM660.22 508.30a2.55 2.55 0 1 0 5.10 0a2.55 2.55 0 1 0 -5.10 0zM661.34 509.37a2.55 2.55 0 1 0 5.10 0a2.55 2.55 0 1 0 -5.10 0zM662.47 510.42a2.55 2.55 0 1 0 5.10 0a2.55 2.55 0 1 0 -5.10 0zM663.60 511.39a2.55 2.55 0 1 0 5.10 0a2.55 2.55 0 1 0 -5.10 0zM664.72 512.17a2.55 2.55 0 1 0 5.10 0a2.55 2.55 0 1 0 -5.10 0zM665.85 512.87a2.55 2.55 0 1 0 5.10 0a2.55 2.55 0 1 0 -5.10 0zM666.98 513.54a2.55 2.55 0 1 0 5.10 0a2.55 2.55 0 1 0 -5.10 0zM668.10 514.17a2.55 2.55 0 1 0 5.10 0a2.55 2.55 0 1 0 -5.10 0zM669.23 514.75a2.55 2.55 0 1 0 5.10 0a2.55 2.55 0 1 0 -5.10 0zM670.36 515.28a2.55 2.55 0 1 0 5.10 0a2.55 2.55 0 1 0 -5.10 0zM671.48 515.75a2.55 2.55 0 1 0 5.10 0a2.55 2.55 0 1 0 -5.10 0zM672.61 516.13a2.55 2.55 0 1 0 5.10 0a2.55 2.55 0 1 0 -5.10 0zM673.74 516.45a2.55 2.55 0 1 0 5.10 0a2.55 2.55 0 1 0 -5.10 0zM674.86 516.75a2.55 2.55 0 1 0 5.10 0a2.55 2.55 0 1 0 -5.10 0zM675.99 517.04a2.55 2.55 0 1 0 5.10 0a2.55 2.55 0 1 0 -5.10 0zM677.12 517.32a2.55 2.55 0 1 0 5.10 0a2.55 2.55 0 1 0 -5.10 0zM678.24 517.59a2.55 2.55 0 1 0 5.10 0a2.55 2.55 0 1 0 -5.10 0zM679.37 517.85a2.55 2.55 0 1 0 5.10 0a2.55 2.55 0 1 0 -5.10 0zM680.50 518.10a2.55 2.55 0 1 0 5.10 0a2.55 2.55 0 1 0 -5.10 0zM681.62 518.35a2.55 2.55 0 1 0 5.10 0a2.55 2.55 0 1 0 -5.10 0zM682.75 518.59a2.55 2.55 0 1 0 5.10 0a2.55 2.55 0 1 0 -5.10 0zM683.88 518.83a2.55 2.55 0 1 0 5.10 0a2.55 2.55 0 1 0 -5.10 0zM685.00 519.07a2.55 2.55 0 1 0 5.10 0a2.55 2.55 0 1 0 -5.10 0zM686.13 519.30a2.55 2.55 0 1 0 5.10 0a2.55 2.55 0 1 0 -5.10 0zM687.26 519.53a2.55 2.55 0 1 0 5.10 0a2.55 2.55 0 1 0 -5.10 0zM688.38 519.75a2.55 2.55 0 1 0 5.10 0a2.55 2.55 0 1 0 -5.10 0zM689.51 519.96a2.55 2.55 0 1 0 5.10 0a2.55 2.55 0 1 0 -5.10 0zM690.64 520.18a2.55 2.55 0 1 0 5.10 0a2.55 2.55 0 1 0 -5.10 0zM691.76 520.39a2.55 2.55 0 1 0 5.10 0a2.55 2.55 0 1 0 -5.10 0zM692.89 520.60a2.55 2.55 0 1 0 5.10 0a2.55 2.55 0 1 0 -5.10 0zM694.02 520.81a2.55 2.55 0 1 0 5.10 0a2.55 2.55 0 1 0 -5.10 0zM695.14 521.03a2.55 2.55 0 1 0 5.10 0a2.55 2.55 0 1 0 -5.10 0zM696.27 521.26a2.55 2.55 0 1 0 5.10 0a2.55 2.55 0 1 0 -5.10 0zM697.40 521.49a2.55 2.55 0 1 0 5.10 0a2.55 2.55 0 1 0 -5.10 0zM698.52 521.74a2.55 2.55 0 1 0 5.10 0a2.55 2.55 0 1 0 -5.10 0zM699.65 521.99a2.55 2.55 0 1 0 5.10 0a2.55 2.55 0 1 0 -5.10 0zM700.78 522.25a2.55 2.55 0 1 0 5.10 0a2.55 2.55 0 1 0 -5.10 0zM701.90 522.52a2.55 2.55 0 1 0 5.10 0a2.55 2.55 0 1 0 -5.10 0zM703.03 522.80a2.55 2.55 0 1 0 5.10 0a2.55 2.55 0 1 0 -5.10 0zM704.16 523.09a2.55 2.55 0 1 0 5.10 0a2.55 2.55 0 1 0 -5.10 0zM705.28 523.39a2.55 2.55 0 1 0 5.10 0a2.55 2.55 0 1 0 -5.10 0zM706.41 523.70a2.55 2.55 0 1 0 5.10 0a2.55 2.55 0 1 0 -5.10 0zM707.54 524.02a2.55 2.55 0 1 0 5.10 0a2.55 2.55 0 1 0 -5.10 0zM708.66 524.36a2.55 2.55 0 1 0 5.10 0a2.55 2.55 0 1 0 -5.10 0zM709.79 524.71a2.55 2.55 0 1 0 5.10 0a2.55 2.55 0 1 0 -5.10 0zM710.92 525.09a2.55 2.55 0 1 0 5.10 0a2.55 2.55 0 1 0 -5.10 0zM712.04 525.50a2.55 2.55 0 1 0 5.10 0a2.55 2.55 0 1 0 -5.10 0zM713.17 525.94a2.55 2.55 0 1 0 5.10 0a2.55 2.55 0 1 0 -5.10 0zM714.30 526.38a2.55 2.55 0 1 0 5.10 0a2.55 2.55 0 1 0 -5.10 0zM715.42 526.84a2.55 2.55 0 1 0 5.10 0a2.55 2.55 0 1 0 -5.10 0zM716.55 527.29a2.55 2.55 0 1 0 5.10 0a2.55 2.55 0 1 0 -5.10 0zM717.68 527.74a2.55 2.55 0 1 0 5.10 0a2.55 2.55 0 1 0 -5.10 0zM718.80 528.17a2.55 2.55 0 1 0 5.10 0a2.55 2.55 0 1 0 -5.10 0zM719.93 528.59a2.55 2.55 0 1 0 5.10 0a2.55 2.55 0 1 0 -5.10 0zM721.06 529.01a2.55 2.55 0 1 0 5.10 0a2.55 2.55 0 1 0 -5.10 0zM722.18 529.43a2.55 2.55 0 1 0 5.10 0a2.55 2.55 0 1 0 -5.10 0zM723.31 529.85a2.55 2.55 0 1 0 5.10 0a2.55 2.55 0 1 0 -5.10 0zM724.44 530.27a2.55 2.55 0 1 0 5.10 0a2.55 2.55 0 1 0 -5.10 0zM725.56 530.71a2.55 2.55 0 1 0 5.10 0a2.55 2.55 0 1 0 -5.10 0zM726.69 531.17a2.55 2.55 0 1 0 5.10 0a2.55 2.55 0 1 0 -5.10 0zM727.82 531.64a2.55 2.55 0 1 0 5.10 0a2.55 2.55 0 1 0 -5.10 0zM728.94 532.14a2.55 2.55 0 1 0 5.10 0a2.55 2.55 0 1 0 -5.10 0zM730.07 532.66a2.55 2.55 0 1 0 5.10 0a2.55 2.55 0 1 0 -5.10 0zM731.20 533.21a2.55 2.55 0 1 0 5.10 0a2.55 2.55 0 1 0 -5.10 0zM732.32 533.79a2.55 2.55 0 1 0 5.10 0a2.55 2.55 0 1 0 -5.10 0zM733.45 534.40a2.55 2.55 0 1 0 5.10 0a2.55 2.55 0 1 0 -5.10 0zM734.58 535.05a2.55 2.55 0 1 0 5.10 0a2.55 2.55 0 1 0 -5.10 0zM735.70 535.72a2.55 2.55 0 1 0 5.10 0a2.55 2.55 0 1 0 -5.10 0zM736.83 536.46a2.55 2.55 0 1 0 5.10 0a2.55 2.55 0 1 0 -5.10 0zM737.96 537.34a2.55 2.55 0 1 0 5.10 0a2.55 2.55 0 1 0 -5.10 0zM739.08 538.31a2.55 2.55 0 1 0 5.10 0a2.55 2.55 0 1 0 -5.10 0zM740.21 539.29a2.55 2.55 0 1 0 5.10 0a2.55 2.55 0 1 0 -5.10 0zM741.34 540.25a2.55 2.55 0 1 0 5.10 0a2.55 2.55 0 1 0 -5.10 0zM742.46 541.24a2.55 2.55 0 1 0 5.10 0a2.55 2.55 0 1 0 -5.10 0zM743.59 542.32a2.55 2.55 0 1 0 5.10 0a2.55 2.55 0 1 0 -5.10 0zM744.72 543.57a2.55 2.55 0 1 0 5.10 0a2.55 2.55 0 1 0 -5.10 0zM745.84 545.01a2.55 2.55 0 1 0 5.10 0a2.55 2.55 0 1 0 -5.10 0zM746.97 546.63a2.55 2.55 0 1 0 5.10 0a2.55 2.55 0 1 0 -5.10 0zM748.10 548.41a2.55 2.55 0 1 0 5.10 0a2.55 2.55 0 1 0 -5.10 0zM749.22 550.31a2.55 2.55 0 1 0 5.10 0a2.55 2.55 0 1 0 -5.10 0zM750.35 552.37a2.55 2.55 0 1 0 5.10 0a2.55 2.55 0 1 0 -5.10 0zM751.48 554.88a2.55 2.55 0 1 0 5.10 0a2.55 2.55 0 1 0 -5.10 0zM752.60 557.62a2.55 2.55 0 1 0 5.10 0a2.55 2.55 0 1 0 -5.10 0zM753.73 560.16a2.55 2.55 0 1 0 5.10 0a2.55 2.55 0 1 0 -5.10 0zM754.86 562.30a2.55 2.55 0 1 0 5.10 0a2.55 2.55 0 1 0 -5.10 0zM755.98 564.11a2.55 2.55 0 1 0 5.10 0a2.55 2.55 0 1 0 -5.10 0zM757.05 567.00a2.55 2.55 0 1 0 5.10 0a2.55 2.55 0 1 0 -5.10 0zM758.15 572.50a2.55 2.55 0 1 0 5.10 0a2.55 2.55 0 1 0 -5.10 0zM759.35 583.00a2.55 2.55 0 1 0 5.10 0a2.55 2.55 0 1 0 -5.10 0zM760.45 598.70a2.55 2.55 0 1 0 5.10 0a2.55 2.55 0 1 0 -5.10 0zM761.55 612.00a2.55 2.55 0 1 0 5.10 0a2.55 2.55 0 1 0 -5.10 0zM762.95 581.10a2.55 2.55 0 1 0 5.10 0a2.55 2.55 0 1 0 -5.10 0zM763.85 546.50a2.55 2.55 0 1 0 5.10 0a2.55 2.55 0 1 0 -5.10 0zM765.00 539.01a2.55 2.55 0 1 0 5.10 0a2.55 2.55 0 1 0 -5.10 0zM766.12 535.07a2.55 2.55 0 1 0 5.10 0a2.55 2.55 0 1 0 -5.10 0zM767.25 532.87a2.55 2.55 0 1 0 5.10 0a2.55 2.55 0 1 0 -5.10 0zM768.38 531.71a2.55 2.55 0 1 0 5.10 0a2.55 2.55 0 1 0 -5.10 0zM769.50 530.98a2.55 2.55 0 1 0 5.10 0a2.55 2.55 0 1 0 -5.10 0zM770.63 530.52a2.55 2.55 0 1 0 5.10 0a2.55 2.55 0 1 0 -5.10 0zM771.76 530.07a2.55 2.55 0 1 0 5.10 0a2.55 2.55 0 1 0 -5.10 0zM772.88 529.69a2.55 2.55 0 1 0 5.10 0a2.55 2.55 0 1 0 -5.10 0zM774.01 529.40a2.55 2.55 0 1 0 5.10 0a2.55 2.55 0 1 0 -5.10 0zM775.14 529.26a2.55 2.55 0 1 0 5.10 0a2.55 2.55 0 1 0 -5.10 0zM776.26 529.16a2.55 2.55 0 1 0 5.10 0a2.55 2.55 0 1 0 -5.10 0zM777.39 529.06a2.55 2.55 0 1 0 5.10 0a2.55 2.55 0 1 0 -5.10 0zM778.52 528.96a2.55 2.55 0 1 0 5.10 0a2.55 2.55 0 1 0 -5.10 0zM779.64 528.86a2.55 2.55 0 1 0 5.10 0a2.55 2.55 0 1 0 -5.10 0zM780.77 528.77a2.55 2.55 0 1 0 5.10 0a2.55 2.55 0 1 0 -5.10 0zM781.90 528.67a2.55 2.55 0 1 0 5.10 0a2.55 2.55 0 1 0 -5.10 0zM783.02 528.59a2.55 2.55 0 1 0 5.10 0a2.55 2.55 0 1 0 -5.10 0zM784.15 528.51a2.55 2.55 0 1 0 5.10 0a2.55 2.55 0 1 0 -5.10 0zM785.28 528.43a2.55 2.55 0 1 0 5.10 0a2.55 2.55 0 1 0 -5.10 0zM786.40 528.36a2.55 2.55 0 1 0 5.10 0a2.55 2.55 0 1 0 -5.10 0zM787.53 528.30a2.55 2.55 0 1 0 5.10 0a2.55 2.55 0 1 0 -5.10 0zM788.66 528.25a2.55 2.55 0 1 0 5.10 0a2.55 2.55 0 1 0 -5.10 0zM789.78 528.21a2.55 2.55 0 1 0 5.10 0a2.55 2.55 0 1 0 -5.10 0zM790.91 528.17a2.55 2.55 0 1 0 5.10 0a2.55 2.55 0 1 0 -5.10 0zM792.04 528.13a2.55 2.55 0 1 0 5.10 0a2.55 2.55 0 1 0 -5.10 0zM793.16 528.09a2.55 2.55 0 1 0 5.10 0a2.55 2.55 0 1 0 -5.10 0zM794.29 528.05a2.55 2.55 0 1 0 5.10 0a2.55 2.55 0 1 0 -5.10 0zM795.42 528.01a2.55 2.55 0 1 0 5.10 0a2.55 2.55 0 1 0 -5.10 0zM796.54 527.97a2.55 2.55 0 1 0 5.10 0a2.55 2.55 0 1 0 -5.10 0zM797.67 527.93a2.55 2.55 0 1 0 5.10 0a2.55 2.55 0 1 0 -5.10 0zM798.80 527.88a2.55 2.55 0 1 0 5.10 0a2.55 2.55 0 1 0 -5.10 0zM799.92 527.84a2.55 2.55 0 1 0 5.10 0a2.55 2.55 0 1 0 -5.10 0zM801.05 527.80a2.55 2.55 0 1 0 5.10 0a2.55 2.55 0 1 0 -5.10 0zM802.18 527.76a2.55 2.55 0 1 0 5.10 0a2.55 2.55 0 1 0 -5.10 0zM803.30 527.72a2.55 2.55 0 1 0 5.10 0a2.55 2.55 0 1 0 -5.10 0zM804.43 527.69a2.55 2.55 0 1 0 5.10 0a2.55 2.55 0 1 0 -5.10 0zM805.56 527.65a2.55 2.55 0 1 0 5.10 0a2.55 2.55 0 1 0 -5.10 0zM806.68 527.62a2.55 2.55 0 1 0 5.10 0a2.55 2.55 0 1 0 -5.10 0zM807.81 527.58a2.55 2.55 0 1 0 5.10 0a2.55 2.55 0 1 0 -5.10 0zM808.94 527.55a2.55 2.55 0 1 0 5.10 0a2.55 2.55 0 1 0 -5.10 0zM810.06 527.52a2.55 2.55 0 1 0 5.10 0a2.55 2.55 0 1 0 -5.10 0zM811.19 527.50a2.55 2.55 0 1 0 5.10 0a2.55 2.55 0 1 0 -5.10 0zM812.32 527.47a2.55 2.55 0 1 0 5.10 0a2.55 2.55 0 1 0 -5.10 0zM813.44 527.45a2.55 2.55 0 1 0 5.10 0a2.55 2.55 0 1 0 -5.10 0zM814.57 527.43a2.55 2.55 0 1 0 5.10 0a2.55 2.55 0 1 0 -5.10 0zM815.70 527.42a2.55 2.55 0 1 0 5.10 0a2.55 2.55 0 1 0 -5.10 0zM816.82 527.41a2.55 2.55 0 1 0 5.10 0a2.55 2.55 0 1 0 -5.10 0zM817.95 527.40a2.55 2.55 0 1 0 5.10 0a2.55 2.55 0 1 0 -5.10 0z"/>
<path fill="none" stroke="#78a8f2" stroke-width="0.70" d="M482.50 524.09 L483.63 524.05 L484.75 524.01 L485.88 523.97 L487.01 523.93 L488.13 523.88 L489.26 523.83 L490.39 523.78 L491.51 523.72 L492.64 523.67 L493.77 523.61 L494.89 523.55 L496.02 523.49 L497.15 523.43 L498.27 523.37 L499.40 523.31 L500.53 523.25 L501.65 523.19 L502.78 523.12 L503.91 523.06 L505.03 522.99 L506.16 522.92 L507.29 522.85 L508.41 522.78 L509.54 522.70 L510.67 522.62 L511.79 522.54 L512.92 522.45 L514.05 522.37 L515.17 522.28 L516.30 522.19 L517.43 522.09 L518.55 522.00 L519.68 521.90 L520.81 521.80 L521.93 521.69 L523.06 521.58 L524.19 521.46 L525.31 521.34 L526.44 521.21 L527.57 521.07 L528.69 520.93 L529.82 520.79 L530.95 520.65 L532.07 520.50 L533.20 520.35 L534.33 520.20 L535.45 520.04 L536.58 519.89 L537.71 519.74 L538.83 519.58 L539.96 519.43 L541.09 519.28 L542.21 519.12 L543.34 518.96 L544.47 518.80 L545.59 518.63 L546.72 518.47 L547.85 518.30 L548.97 518.13 L550.10 517.96 L551.23 517.79 L552.35 517.62 L553.48 517.45 L554.61 517.28 L555.73 517.12 L556.86 516.96 L557.99 516.81 L559.11 516.66 L560.24 516.52 L561.37 516.38 L562.49 516.25 L563.62 516.14 L564.75 516.06 L565.87 516.00 L567.00 516.03 L568.13 516.17 L569.25 516.39 L570.38 516.66 L571.51 516.93 L572.63 517.26 L573.76 517.70 L574.89 518.22 L576.01 518.79 L577.14 519.38 L578.27 520.06 L579.39 520.82 L580.52 521.65 L581.65 522.50 L582.77 523.37 L583.90 524.28 L585.03 525.23 L586.15 526.22 L587.28 527.22 L588.41 528.24 L589.53 529.31 L590.66 530.39 L591.79 531.47 L592.91 532.54 L594.04 533.59 L595.17 534.67 L596.29 535.73 L597.42 536.71 L598.55 537.56 L599.67 538.31 L600.80 539.00 L601.93 539.62 L603.05 540.13 L604.18 540.52 L605.31 540.86 L606.43 541.19 L607.56 541.49 L608.69 541.76 L609.81 541.96 L610.94 542.08 L612.07 542.10 L613.19 542.06 L614.32 542.00 L615.45 541.91 L616.57 541.80 L617.70 541.67 L618.83 541.53 L619.95 541.38 L621.08 541.21 L622.21 541.02 L623.33 540.80 L624.46 540.56 L625.59 540.30 L626.71 540.02 L627.84 539.74 L628.97 539.46 L630.09 539.16 L631.22 538.80 L632.35 538.37 L633.47 537.87 L634.60 537.29 L635.73 536.62 L636.85 535.86 L637.98 534.59 L639.11 532.79 L640.23 530.95 L641.36 529.22 L642.49 527.39 L643.61 525.34 L644.74 522.88 L645.87 519.84 L646.99 516.02 L648.12 510.20 L649.25 498.40 L650.37 468.00 L651.50 433.60 L652.63 442.50 L653.75 470.30 L654.88 482.00 L656.01 488.90 L657.13 495.98 L658.26 500.44 L659.39 503.00 L660.51 504.78 L661.64 506.12 L662.77 507.30 L663.89 508.37 L665.02 509.42 L666.15 510.39 L667.27 511.17 L668.40 511.87 L669.53 512.54 L670.65 513.17 L671.78 513.75 L672.91 514.28 L674.03 514.75 L675.16 515.13 L676.29 515.45 L677.41 515.75 L678.54 516.04 L679.67 516.32 L680.79 516.59 L681.92 516.85 L683.05 517.10 L684.17 517.35 L685.30 517.59 L686.43 517.83 L687.55 518.07 L688.68 518.30 L689.81 518.53 L690.93 518.75 L692.06 518.96 L693.19 519.18 L694.31 519.39 L695.44 519.60 L696.57 519.81 L697.69 520.03 L698.82 520.26 L699.95 520.49 L701.07 520.74 L702.20 520.99 L703.33 521.25 L704.45 521.52 L705.58 521.80 L706.71 522.09 L707.83 522.39 L708.96 522.70 L710.09 523.02 L711.21 523.36 L712.34 523.71 L713.47 524.09 L714.59 524.50 L715.72 524.94 L716.85 525.38 L717.97 525.84 L719.10 526.29 L720.23 526.74 L721.35 527.17 L722.48 527.59 L723.61 528.01 L724.73 528.43 L725.86 528.85 L726.99 529.27 L728.11 529.71 L729.24 530.17 L730.37 530.64 L731.49 531.14 L732.62 531.66 L733.75 532.21 L734.87 532.79 L736.00 533.40 L737.13 534.05 L738.25 534.72 L739.38 535.46 L740.51 536.34 L741.63 537.31 L742.76 538.29 L743.89 539.25 L745.01 540.24 L746.14 541.32 L747.27 542.57 L748.39 544.01 L749.52 545.63 L750.65 547.41 L751.77 549.31 L752.90 551.37 L754.03 553.88 L755.15 556.62 L756.28 559.16 L757.41 561.30 L758.53 563.11 L759.66 565.40 L760.79 570.40 L761.91 580.30 L763.04 603.70 L764.17 609.60 L765.29 573.60 L766.42 544.40 L767.55 538.01 L768.67 534.07 L769.80 531.87 L770.93 530.71 L772.05 529.98 L773.18 529.52 L774.31 529.07 L775.43 528.69 L776.56 528.40 L777.69 528.26 L778.81 528.16 L779.94 528.06 L781.07 527.96 L782.19 527.86 L783.32 527.77 L784.45 527.67 L785.57 527.59 L786.70 527.51 L787.83 527.43 L788.95 527.36 L790.08 527.30 L791.21 527.25 L792.33 527.21 L793.46 527.17 L794.59 527.13 L795.71 527.09 L796.84 527.05 L797.97 527.01 L799.09 526.97 L800.22 526.93 L801.35 526.88 L802.47 526.84 L803.60 526.80 L804.73 526.76 L805.85 526.72 L806.98 526.69 L808.11 526.65 L809.23 526.62 L810.36 526.58 L811.49 526.55 L812.61 526.52 L813.74 526.50 L814.87 526.47 L815.99 526.45 L817.12 526.43 L818.25 526.42 L819.37 526.41 L820.50 526.40"/>
<path fill="#1f6bda" d="M482.50 521.44l3.10 5.30h-6.20zM483.63 521.40l3.10 5.30h-6.20zM484.75 521.36l3.10 5.30h-6.20zM485.88 521.32l3.10 5.30h-6.20zM487.01 521.28l3.10 5.30h-6.20zM488.13 521.23l3.10 5.30h-6.20zM489.26 521.18l3.10 5.30h-6.20zM490.39 521.13l3.10 5.30h-6.20zM491.51 521.07l3.10 5.30h-6.20zM492.64 521.02l3.10 5.30h-6.20zM493.77 520.96l3.10 5.30h-6.20zM494.89 520.90l3.10 5.30h-6.20zM496.02 520.84l3.10 5.30h-6.20zM497.15 520.78l3.10 5.30h-6.20zM498.27 520.72l3.10 5.30h-6.20zM499.40 520.66l3.10 5.30h-6.20zM500.53 520.60l3.10 5.30h-6.20zM501.65 520.54l3.10 5.30h-6.20zM502.78 520.47l3.10 5.30h-6.20zM503.91 520.41l3.10 5.30h-6.20zM505.03 520.34l3.10 5.30h-6.20zM506.16 520.27l3.10 5.30h-6.20zM507.29 520.20l3.10 5.30h-6.20zM508.41 520.13l3.10 5.30h-6.20zM509.54 520.05l3.10 5.30h-6.20zM510.67 519.97l3.10 5.30h-6.20zM511.79 519.89l3.10 5.30h-6.20zM512.92 519.80l3.10 5.30h-6.20zM514.05 519.72l3.10 5.30h-6.20zM515.17 519.63l3.10 5.30h-6.20zM516.30 519.54l3.10 5.30h-6.20zM517.43 519.44l3.10 5.30h-6.20zM518.55 519.35l3.10 5.30h-6.20zM519.68 519.25l3.10 5.30h-6.20zM520.81 519.15l3.10 5.30h-6.20zM521.93 519.04l3.10 5.30h-6.20zM523.06 518.93l3.10 5.30h-6.20zM524.19 518.81l3.10 5.30h-6.20zM525.31 518.69l3.10 5.30h-6.20zM526.44 518.56l3.10 5.30h-6.20zM527.57 518.42l3.10 5.30h-6.20zM528.69 518.28l3.10 5.30h-6.20zM529.82 518.14l3.10 5.30h-6.20zM530.95 518.00l3.10 5.30h-6.20zM532.07 517.85l3.10 5.30h-6.20zM533.20 517.70l3.10 5.30h-6.20zM534.33 517.55l3.10 5.30h-6.20zM535.45 517.39l3.10 5.30h-6.20zM536.58 517.24l3.10 5.30h-6.20zM537.71 517.09l3.10 5.30h-6.20zM538.83 516.93l3.10 5.30h-6.20zM539.96 516.78l3.10 5.30h-6.20zM541.09 516.63l3.10 5.30h-6.20zM542.21 516.47l3.10 5.30h-6.20zM543.34 516.31l3.10 5.30h-6.20zM544.47 516.15l3.10 5.30h-6.20zM545.59 515.98l3.10 5.30h-6.20zM546.72 515.82l3.10 5.30h-6.20zM547.85 515.65l3.10 5.30h-6.20zM548.97 515.48l3.10 5.30h-6.20zM550.10 515.31l3.10 5.30h-6.20zM551.23 515.14l3.10 5.30h-6.20zM552.35 514.97l3.10 5.30h-6.20zM553.48 514.80l3.10 5.30h-6.20zM554.61 514.63l3.10 5.30h-6.20zM555.73 514.47l3.10 5.30h-6.20zM556.86 514.31l3.10 5.30h-6.20zM557.99 514.16l3.10 5.30h-6.20zM559.11 514.01l3.10 5.30h-6.20zM560.24 513.87l3.10 5.30h-6.20zM561.37 513.73l3.10 5.30h-6.20zM562.49 513.60l3.10 5.30h-6.20zM563.62 513.49l3.10 5.30h-6.20zM564.75 513.41l3.10 5.30h-6.20zM565.87 513.35l3.10 5.30h-6.20zM567.00 513.38l3.10 5.30h-6.20zM568.13 513.52l3.10 5.30h-6.20zM569.25 513.74l3.10 5.30h-6.20zM570.38 514.01l3.10 5.30h-6.20zM571.51 514.28l3.10 5.30h-6.20zM572.63 514.61l3.10 5.30h-6.20zM573.76 515.05l3.10 5.30h-6.20zM574.89 515.57l3.10 5.30h-6.20zM576.01 516.14l3.10 5.30h-6.20zM577.14 516.73l3.10 5.30h-6.20zM578.27 517.41l3.10 5.30h-6.20zM579.39 518.17l3.10 5.30h-6.20zM580.52 519.00l3.10 5.30h-6.20zM581.65 519.85l3.10 5.30h-6.20zM582.77 520.72l3.10 5.30h-6.20zM583.90 521.63l3.10 5.30h-6.20zM585.03 522.58l3.10 5.30h-6.20zM586.15 523.57l3.10 5.30h-6.20zM587.28 524.57l3.10 5.30h-6.20zM588.41 525.59l3.10 5.30h-6.20zM589.53 526.66l3.10 5.30h-6.20zM590.66 527.74l3.10 5.30h-6.20zM591.79 528.82l3.10 5.30h-6.20zM592.91 529.89l3.10 5.30h-6.20zM594.04 530.94l3.10 5.30h-6.20zM595.17 532.02l3.10 5.30h-6.20zM596.29 533.08l3.10 5.30h-6.20zM597.42 534.06l3.10 5.30h-6.20zM598.55 534.91l3.10 5.30h-6.20zM599.67 535.66l3.10 5.30h-6.20zM600.80 536.35l3.10 5.30h-6.20zM601.93 536.97l3.10 5.30h-6.20zM603.05 537.48l3.10 5.30h-6.20zM604.18 537.87l3.10 5.30h-6.20zM605.31 538.21l3.10 5.30h-6.20zM606.43 538.54l3.10 5.30h-6.20zM607.56 538.84l3.10 5.30h-6.20zM608.69 539.11l3.10 5.30h-6.20zM609.81 539.31l3.10 5.30h-6.20zM610.94 539.43l3.10 5.30h-6.20zM612.07 539.45l3.10 5.30h-6.20zM613.19 539.41l3.10 5.30h-6.20zM614.32 539.35l3.10 5.30h-6.20zM615.45 539.26l3.10 5.30h-6.20zM616.57 539.15l3.10 5.30h-6.20zM617.70 539.02l3.10 5.30h-6.20zM618.83 538.88l3.10 5.30h-6.20zM619.95 538.73l3.10 5.30h-6.20zM621.08 538.56l3.10 5.30h-6.20zM622.21 538.37l3.10 5.30h-6.20zM623.33 538.15l3.10 5.30h-6.20zM624.46 537.91l3.10 5.30h-6.20zM625.59 537.65l3.10 5.30h-6.20zM626.71 537.37l3.10 5.30h-6.20zM627.84 537.09l3.10 5.30h-6.20zM628.97 536.81l3.10 5.30h-6.20zM630.09 536.51l3.10 5.30h-6.20zM631.22 536.15l3.10 5.30h-6.20zM632.35 535.72l3.10 5.30h-6.20zM633.47 535.22l3.10 5.30h-6.20zM634.60 534.64l3.10 5.30h-6.20zM635.73 533.97l3.10 5.30h-6.20zM636.85 533.21l3.10 5.30h-6.20zM637.98 531.94l3.10 5.30h-6.20zM639.11 530.14l3.10 5.30h-6.20zM640.23 528.30l3.10 5.30h-6.20zM641.36 526.57l3.10 5.30h-6.20zM642.49 524.74l3.10 5.30h-6.20zM643.61 522.69l3.10 5.30h-6.20zM644.74 520.23l3.10 5.30h-6.20zM645.87 517.19l3.10 5.30h-6.20zM646.99 513.37l3.10 5.30h-6.20zM648.12 507.55l3.10 5.30h-6.20zM649.25 495.75l3.10 5.30h-6.20zM650.37 465.35l3.10 5.30h-6.20zM651.50 430.95l3.10 5.30h-6.20zM652.63 439.85l3.10 5.30h-6.20zM653.75 467.65l3.10 5.30h-6.20zM654.88 479.35l3.10 5.30h-6.20zM656.01 486.25l3.10 5.30h-6.20zM657.13 493.33l3.10 5.30h-6.20zM658.26 497.79l3.10 5.30h-6.20zM659.39 500.35l3.10 5.30h-6.20zM660.51 502.13l3.10 5.30h-6.20zM661.64 503.47l3.10 5.30h-6.20zM662.77 504.65l3.10 5.30h-6.20zM663.89 505.72l3.10 5.30h-6.20zM665.02 506.77l3.10 5.30h-6.20zM666.15 507.74l3.10 5.30h-6.20zM667.27 508.52l3.10 5.30h-6.20zM668.40 509.22l3.10 5.30h-6.20zM669.53 509.89l3.10 5.30h-6.20zM670.65 510.52l3.10 5.30h-6.20zM671.78 511.10l3.10 5.30h-6.20zM672.91 511.63l3.10 5.30h-6.20zM674.03 512.10l3.10 5.30h-6.20zM675.16 512.48l3.10 5.30h-6.20zM676.29 512.80l3.10 5.30h-6.20zM677.41 513.10l3.10 5.30h-6.20zM678.54 513.39l3.10 5.30h-6.20zM679.67 513.67l3.10 5.30h-6.20zM680.79 513.94l3.10 5.30h-6.20zM681.92 514.20l3.10 5.30h-6.20zM683.05 514.45l3.10 5.30h-6.20zM684.17 514.70l3.10 5.30h-6.20zM685.30 514.94l3.10 5.30h-6.20zM686.43 515.18l3.10 5.30h-6.20zM687.55 515.42l3.10 5.30h-6.20zM688.68 515.65l3.10 5.30h-6.20zM689.81 515.88l3.10 5.30h-6.20zM690.93 516.10l3.10 5.30h-6.20zM692.06 516.31l3.10 5.30h-6.20zM693.19 516.53l3.10 5.30h-6.20zM694.31 516.74l3.10 5.30h-6.20zM695.44 516.95l3.10 5.30h-6.20zM696.57 517.16l3.10 5.30h-6.20zM697.69 517.38l3.10 5.30h-6.20zM698.82 517.61l3.10 5.30h-6.20zM699.95 517.84l3.10 5.30h-6.20zM701.07 518.09l3.10 5.30h-6.20zM702.20 518.34l3.10 5.30h-6.20zM703.33 518.60l3.10 5.30h-6.20zM704.45 518.87l3.10 5.30h-6.20zM705.58 519.15l3.10 5.30h-6.20zM706.71 519.44l3.10 5.30h-6.20zM707.83 519.74l3.10 5.30h-6.20zM708.96 520.05l3.10 5.30h-6.20zM710.09 520.37l3.10 5.30h-6.20zM711.21 520.71l3.10 5.30h-6.20zM712.34 521.06l3.10 5.30h-6.20zM713.47 521.44l3.10 5.30h-6.20zM714.59 521.85l3.10 5.30h-6.20zM715.72 522.29l3.10 5.30h-6.20zM716.85 522.73l3.10 5.30h-6.20zM717.97 523.19l3.10 5.30h-6.20zM719.10 523.64l3.10 5.30h-6.20zM720.23 524.09l3.10 5.30h-6.20zM721.35 524.52l3.10 5.30h-6.20zM722.48 524.94l3.10 5.30h-6.20zM723.61 525.36l3.10 5.30h-6.20zM724.73 525.78l3.10 5.30h-6.20zM725.86 526.20l3.10 5.30h-6.20zM726.99 526.62l3.10 5.30h-6.20zM728.11 527.06l3.10 5.30h-6.20zM729.24 527.52l3.10 5.30h-6.20zM730.37 527.99l3.10 5.30h-6.20zM731.49 528.49l3.10 5.30h-6.20zM732.62 529.01l3.10 5.30h-6.20zM733.75 529.56l3.10 5.30h-6.20zM734.87 530.14l3.10 5.30h-6.20zM736.00 530.75l3.10 5.30h-6.20zM737.13 531.40l3.10 5.30h-6.20zM738.25 532.07l3.10 5.30h-6.20zM739.38 532.81l3.10 5.30h-6.20zM740.51 533.69l3.10 5.30h-6.20zM741.63 534.66l3.10 5.30h-6.20zM742.76 535.64l3.10 5.30h-6.20zM743.89 536.60l3.10 5.30h-6.20zM745.01 537.59l3.10 5.30h-6.20zM746.14 538.67l3.10 5.30h-6.20zM747.27 539.92l3.10 5.30h-6.20zM748.39 541.36l3.10 5.30h-6.20zM749.52 542.98l3.10 5.30h-6.20zM750.65 544.76l3.10 5.30h-6.20zM751.77 546.66l3.10 5.30h-6.20zM752.90 548.72l3.10 5.30h-6.20zM754.03 551.23l3.10 5.30h-6.20zM755.15 553.97l3.10 5.30h-6.20zM756.28 556.51l3.10 5.30h-6.20zM757.41 558.65l3.10 5.30h-6.20zM758.53 560.46l3.10 5.30h-6.20zM759.66 562.75l3.10 5.30h-6.20zM760.79 567.75l3.10 5.30h-6.20zM761.91 577.65l3.10 5.30h-6.20zM763.04 601.05l3.10 5.30h-6.20zM764.17 606.95l3.10 5.30h-6.20zM765.29 570.95l3.10 5.30h-6.20zM766.42 541.75l3.10 5.30h-6.20zM767.55 535.36l3.10 5.30h-6.20zM768.67 531.42l3.10 5.30h-6.20zM769.80 529.22l3.10 5.30h-6.20zM770.93 528.06l3.10 5.30h-6.20zM772.05 527.33l3.10 5.30h-6.20zM773.18 526.87l3.10 5.30h-6.20zM774.31 526.42l3.10 5.30h-6.20zM775.43 526.04l3.10 5.30h-6.20zM776.56 525.75l3.10 5.30h-6.20zM777.69 525.61l3.10 5.30h-6.20zM778.81 525.51l3.10 5.30h-6.20zM779.94 525.41l3.10 5.30h-6.20zM781.07 525.31l3.10 5.30h-6.20zM782.19 525.21l3.10 5.30h-6.20zM783.32 525.12l3.10 5.30h-6.20zM784.45 525.02l3.10 5.30h-6.20zM785.57 524.94l3.10 5.30h-6.20zM786.70 524.86l3.10 5.30h-6.20zM787.83 524.78l3.10 5.30h-6.20zM788.95 524.71l3.10 5.30h-6.20zM790.08 524.65l3.10 5.30h-6.20zM791.21 524.60l3.10 5.30h-6.20zM792.33 524.56l3.10 5.30h-6.20zM793.46 524.52l3.10 5.30h-6.20zM794.59 524.48l3.10 5.30h-6.20zM795.71 524.44l3.10 5.30h-6.20zM796.84 524.40l3.10 5.30h-6.20zM797.97 524.36l3.10 5.30h-6.20zM799.09 524.32l3.10 5.30h-6.20zM800.22 524.28l3.10 5.30h-6.20zM801.35 524.23l3.10 5.30h-6.20zM802.47 524.19l3.10 5.30h-6.20zM803.60 524.15l3.10 5.30h-6.20zM804.73 524.11l3.10 5.30h-6.20zM805.85 524.07l3.10 5.30h-6.20zM806.98 524.04l3.10 5.30h-6.20zM808.11 524.00l3.10 5.30h-6.20zM809.23 523.97l3.10 5.30h-6.20zM810.36 523.93l3.10 5.30h-6.20zM811.49 523.90l3.10 5.30h-6.20zM812.61 523.87l3.10 5.30h-6.20zM813.74 523.85l3.10 5.30h-6.20zM814.87 523.82l3.10 5.30h-6.20zM815.99 523.80l3.10 5.30h-6.20zM817.12 523.78l3.10 5.30h-6.20zM818.25 523.77l3.10 5.30h-6.20zM819.37 523.76l3.10 5.30h-6.20zM820.50 523.75l3.10 5.30h-6.20z"/>
</g>
<path d="M183.7,0.5V625.1" stroke="#000" stroke-width="1.3" stroke-dasharray="3.8,3.6" fill="none"/>
<path d="M596.6,0.5V627.8" stroke="#000" stroke-width="1.3" stroke-dasharray="3.8,3.6" fill="none"/>
<path d="M60.00,0.50H399.80" stroke="#000" stroke-width="1.05" fill="none"/>
<path d="M60.00,208.50H399.80" stroke="#1a1a1a" stroke-width="1.05" fill="none"/>
<path d="M60.00,417.00H399.80" stroke="#111" stroke-width="1.30" fill="none"/>
<path d="M60.00,625.40H399.80" stroke="#1a1a1a" stroke-width="1.10" fill="none"/>
<path d="M60.50,0V625.95" stroke="#000" stroke-width="1.05" fill="none"/>
<path d="M399.20,0V625.95" stroke="#1a1a1a" stroke-width="1.15" fill="none"/>
<path d="M482.00,0.50H821.10" stroke="#000" stroke-width="1.05" fill="none"/>
<path d="M482.00,208.50H821.10" stroke="#1a1a1a" stroke-width="1.05" fill="none"/>
<path d="M482.00,417.00H821.10" stroke="#111" stroke-width="1.30" fill="none"/>
<path d="M482.00,625.40H821.10" stroke="#1a1a1a" stroke-width="1.10" fill="none"/>
<path d="M482.50,0V625.95" stroke="#000" stroke-width="1.05" fill="none"/>
<path d="M820.50,0V625.95" stroke="#1a1a1a" stroke-width="1.15" fill="none"/>
<g font-family="'Liberation Serif', 'DejaVu Serif', serif">
<text x="56.4" y="32.4" font-size="24.0" text-anchor="end" fill="#000">10</text>
<text x="56.4" y="69.5" font-size="24.0" text-anchor="end" fill="#000">5</text>
<text x="56.4" y="106.7" font-size="24.0" text-anchor="end" fill="#000">0</text>
<text x="56.4" y="143.9" font-size="24.0" text-anchor="end" fill="#000"><tspan font-size="21" dy="-1.2">−</tspan><tspan dy="1.2" dx="-1">5</tspan></text>
<text x="56.4" y="181.0" font-size="24.0" text-anchor="end" fill="#000"><tspan font-size="21" dy="-1.2">−</tspan><tspan dy="1.2" dx="-1">10</tspan></text>
<text x="56.4" y="218.2" font-size="24.0" text-anchor="end" fill="#000"><tspan font-size="21" dy="-1.2">−</tspan><tspan dy="1.2" dx="-1">15</tspan></text>
<text x="56.4" y="241.3" font-size="24.0" text-anchor="end" fill="#000">40</text>
<text x="56.4" y="287.6" font-size="24.0" text-anchor="end" fill="#000">20</text>
<text x="56.4" y="333.9" font-size="24.0" text-anchor="end" fill="#000">0</text>
<text x="56.4" y="380.2" font-size="24.0" text-anchor="end" fill="#000"><tspan font-size="21" dy="-1.2">−</tspan><tspan dy="1.2" dx="-1">20</tspan></text>
<text x="56.4" y="426.5" font-size="24.0" text-anchor="end" fill="#000"><tspan font-size="21" dy="-1.2">−</tspan><tspan dy="1.2" dx="-1">40</tspan></text>
<text x="56.4" y="447.4" font-size="24.0" text-anchor="end" fill="#000">16</text>
<text x="56.4" y="489.1" font-size="24.0" text-anchor="end" fill="#000">12</text>
<text x="56.4" y="530.7" font-size="24.0" text-anchor="end" fill="#000">8</text>
<text x="56.4" y="572.4" font-size="24.0" text-anchor="end" fill="#000">4</text>
<text x="56.4" y="614.0" font-size="24.0" text-anchor="end" fill="#000">0</text>
<text x="478.0" y="41.9" font-size="24.0" text-anchor="end" fill="#000">1</text>
<text x="478.0" y="106.5" font-size="24.0" text-anchor="end" fill="#000">0</text>
<text x="478.0" y="171.1" font-size="24.0" text-anchor="end" fill="#000"><tspan font-size="21" dy="-1.2">−</tspan><tspan dy="1.2" dx="-1">1</tspan></text>
<text x="478.0" y="229.8" font-size="24.0" text-anchor="end" fill="#000">2</text>
<text x="478.0" y="279.7" font-size="24.0" text-anchor="end" fill="#000">0</text>
<text x="478.0" y="329.6" font-size="24.0" text-anchor="end" fill="#000"><tspan font-size="21" dy="-1.2">−</tspan><tspan dy="1.2" dx="-1">2</tspan></text>
<text x="478.0" y="379.4" font-size="24.0" text-anchor="end" fill="#000"><tspan font-size="21" dy="-1.2">−</tspan><tspan dy="1.2" dx="-1">4</tspan></text>
<text x="480.8" y="425.3" font-size="24.0" text-anchor="end" fill="#000">1. 0</text>
<text x="480.8" y="481.3" font-size="24.0" text-anchor="end" fill="#000">0. 5</text>
<text x="480.8" y="536.1" font-size="24.0" text-anchor="end" fill="#000">0. 0</text>
<text x="480.8" y="590.9" font-size="24.0" text-anchor="end" fill="#000"><tspan font-size="21" dy="-1.2">−</tspan><tspan dy="1.2" dx="-1">0. 5</tspan></text>
<text x="60.5" y="647.0" font-size="24.0" text-anchor="middle" fill="#000"><tspan font-size="21" dy="-1.2">−</tspan><tspan dy="1.2" dx="-1">1. 0</tspan></text>
<text x="157.3" y="647.0" font-size="24.0" text-anchor="middle" fill="#000"><tspan font-size="21" dy="-1.2">−</tspan><tspan dy="1.2" dx="-1">0. 8</tspan></text>
<text x="254.0" y="647.0" font-size="24.0" text-anchor="middle" fill="#000"><tspan font-size="21" dy="-1.2">−</tspan><tspan dy="1.2" dx="-1">0. 6</tspan></text>
<text x="350.8" y="647.0" font-size="24.0" text-anchor="middle" fill="#000"><tspan font-size="21" dy="-1.2">−</tspan><tspan dy="1.2" dx="-1">0. 4</tspan></text>
<text x="482.5" y="647.0" font-size="24.0" text-anchor="middle" fill="#000"><tspan font-size="21" dy="-1.2">−</tspan><tspan dy="1.2" dx="-1">3</tspan></text>
<text x="538.8" y="647.0" font-size="24.0" text-anchor="middle" fill="#000"><tspan font-size="21" dy="-1.2">−</tspan><tspan dy="1.2" dx="-1">2</tspan></text>
<text x="595.2" y="647.0" font-size="24.0" text-anchor="middle" fill="#000"><tspan font-size="21" dy="-1.2">−</tspan><tspan dy="1.2" dx="-1">1</tspan></text>
<text x="651.5" y="647.0" font-size="24.0" text-anchor="middle" fill="#000">0</text>
<text x="707.8" y="647.0" font-size="24.0" text-anchor="middle" fill="#000">1</text>
<text x="764.2" y="647.0" font-size="24.0" text-anchor="middle" fill="#000">2</text>
<text x="820.5" y="647.0" font-size="24.0" text-anchor="middle" fill="#000">3</text>
<text x="222.0" y="671.0" font-size="28.5" text-anchor="middle" fill="#000">λ</text>
<text x="654.0" y="672.5" font-size="28.5" text-anchor="middle" fill="#000">λ</text>
<text transform="translate(19.3,100.3) rotate(-90)" text-anchor="middle" font-size="23.3" stroke="#000" stroke-width="0.25">dτ<tspan font-size="16" dy="5.9">SEF</tspan><tspan dy="-5.9">/dλ</tspan></text>
<text transform="translate(16.5,312.3) rotate(-90)" text-anchor="middle" font-size="23.3" stroke="#000" stroke-width="0.25">dE<tspan font-size="16" dy="5.5">2</tspan><tspan font-size="16" dx="-9.7" dy="-14.4">v</tspan><tspan dx="1.7" dy="8.9">/dλ</tspan></text>
<text transform="translate(26.8,517.0) rotate(-90)" text-anchor="middle" font-size="23.3" stroke="#000" stroke-width="0.25">dQD/dλ</text>
<text transform="translate(446.2,97.2) rotate(-90)" text-anchor="middle" font-size="23.3" stroke="#000" stroke-width="0.25">dτ<tspan font-size="16" dy="5.9">SEF</tspan><tspan dy="-5.9">/dλ</tspan></text>
<text transform="translate(441.8,307.9) rotate(-90)" text-anchor="middle" font-size="23.3" stroke="#000" stroke-width="0.25">dE<tspan font-size="16" dy="5.5">2</tspan><tspan font-size="16" dx="-9.7" dy="-14.4">v</tspan><tspan dx="1.7" dy="8.9">/dλ</tspan></text>
<text transform="translate(437.2,528.6) rotate(-90)" text-anchor="middle" font-size="23.3" stroke="#000" stroke-width="0.25">dQD/dλ</text>
<text x="361.0" y="27.9" font-size="19.5" textLength="23.1" lengthAdjust="spacingAndGlyphs" fill="#000" stroke="#000" stroke-width="0.3">(a)</text>
<text x="359.9" y="240.7" font-size="19.5" textLength="23.8" lengthAdjust="spacingAndGlyphs" fill="#000" stroke="#000" stroke-width="0.3">(b)</text>
<text x="361.7" y="449.0" font-size="19.5" textLength="22.7" lengthAdjust="spacingAndGlyphs" fill="#000" stroke="#000" stroke-width="0.3">(c)</text>
<text x="787.2" y="26.9" font-size="19.5" textLength="24.4" lengthAdjust="spacingAndGlyphs" fill="#000" stroke="#000" stroke-width="0.3">(d)</text>
<text x="788.1" y="236.9" font-size="19.5" textLength="22.1" lengthAdjust="spacingAndGlyphs" fill="#000" stroke="#000" stroke-width="0.3">(e)</text>
<text x="787.9" y="451.7" font-size="19.5" textLength="21.1" lengthAdjust="spacingAndGlyphs" fill="#000" stroke="#000" stroke-width="0.3">(f)</text>
<text x="79.8" y="33.5" font-size="23" textLength="64.5" lengthAdjust="spacingAndGlyphs"><tspan font-style="italic">γ</tspan>=0. 01</text>
<text x="80.5" y="64.0" font-size="23" textLength="68.5" lengthAdjust="spacingAndGlyphs">α=0. 25</text>
<text x="499.3" y="37.6" font-size="23" textLength="54.5" lengthAdjust="spacingAndGlyphs"><tspan font-style="italic">γ</tspan>=0. 5</text>
<text x="500.6" y="68.0" font-size="23" textLength="58.0" lengthAdjust="spacingAndGlyphs">α=0. 5</text>
<text x="113.2 121.5" y="145.8" font-size="17.5" text-anchor="middle" fill="#333333">II</text>
<text x="231.6 240.1 248.6 257.1 265.4" y="145.4" font-size="17.5" text-anchor="middle" fill="#333333">SL−II</text>
<text x="341.0 349.5 358.0 366.5" y="145.4" font-size="17.5" text-anchor="middle" fill="#333333">SL−I</text>
<text x="548.5 557.3" y="154.4" font-size="17.5" text-anchor="middle" fill="#333333">II</text>
<text x="608.4 616.7 625.0 633.3 641.0" y="154.4" font-size="17.5" text-anchor="middle" fill="#333333">SL−II</text>
<text x="693.1 701.6 710.1 718.5" y="155.6" font-size="17.5" text-anchor="middle" fill="#333333">SL−I</text>
<text x="781.6" y="155.0" font-size="17.5" text-anchor="middle" fill="#333333">I</text>
<text x="694.6" y="27.0" font-size="17.5" textLength="9.0" lengthAdjust="spacingAndGlyphs" fill="#000">N</text>
<path d="M677.0,41.0H712.4" stroke="#bdbdbd" stroke-width="1.40"/>
<path d="M692.30 38.70h4.60v4.60h-4.60z" fill="#474747"/>
<text x="721.6" y="47.5" font-size="18.5" textLength="26.0" lengthAdjust="spacingAndGlyphs" fill="#000">101</text>
<path d="M677.0,60.2H712.4" stroke="#f25555" stroke-width="1.10"/>
<circle cx="694.60" cy="60.20" r="2.70" fill="#ee4040"/>
<text x="721.6" y="66.7" font-size="18.5" textLength="26.0" lengthAdjust="spacingAndGlyphs" fill="#000">201</text>
<path d="M677.0,80.4H712.4" stroke="#5b95f0" stroke-width="1.00"/>
<path d="M694.60 76.85l3.20 5.50h-6.40z" fill="#1f6bda"/>
<text x="721.6" y="86.9" font-size="18.5" textLength="34.5" lengthAdjust="spacingAndGlyphs" fill="#000">1001</text>
<text x="723.2" y="448.6" font-size="19.5" textLength="11.8" lengthAdjust="spacingAndGlyphs" fill="#000">N</text>
<path d="M704.1,463.6H745.0" stroke="#7a7a7a" stroke-width="1.30"/>
<path d="M722.40 461.30h4.60v4.60h-4.60z" fill="#474747"/>
<text x="754.0" y="470.9" font-size="20.5" textLength="30.0" lengthAdjust="spacingAndGlyphs" fill="#000">101</text>
<path d="M704.1,486.2H745.0" stroke="#f78c8c" stroke-width="1.30"/>
<circle cx="724.70" cy="486.20" r="2.70" fill="#ee4040"/>
<text x="754.0" y="493.5" font-size="20.5" textLength="30.0" lengthAdjust="spacingAndGlyphs" fill="#000">201</text>
<path d="M704.1,508.4H745.0" stroke="#4d8ff2" stroke-width="1.00"/>
<path d="M724.70 504.85l3.20 5.50h-6.40z" fill="#1f6bda"/>
<text x="754.0" y="515.7" font-size="20.5" textLength="40.0" lengthAdjust="spacingAndGlyphs" fill="#000">1001</text>
<path d="M664.7,233.3H698.7" stroke="#8a8a8a" stroke-width="1.0"/>
<path d="M679.35 231.05h4.50v4.50h-4.50z" fill="#474747"/>
<text x="706.0" y="239.3" font-size="17.0" textLength="50.0" lengthAdjust="spacingAndGlyphs" fill="#000">N=1001</text>
</g></svg>
</body></html>
